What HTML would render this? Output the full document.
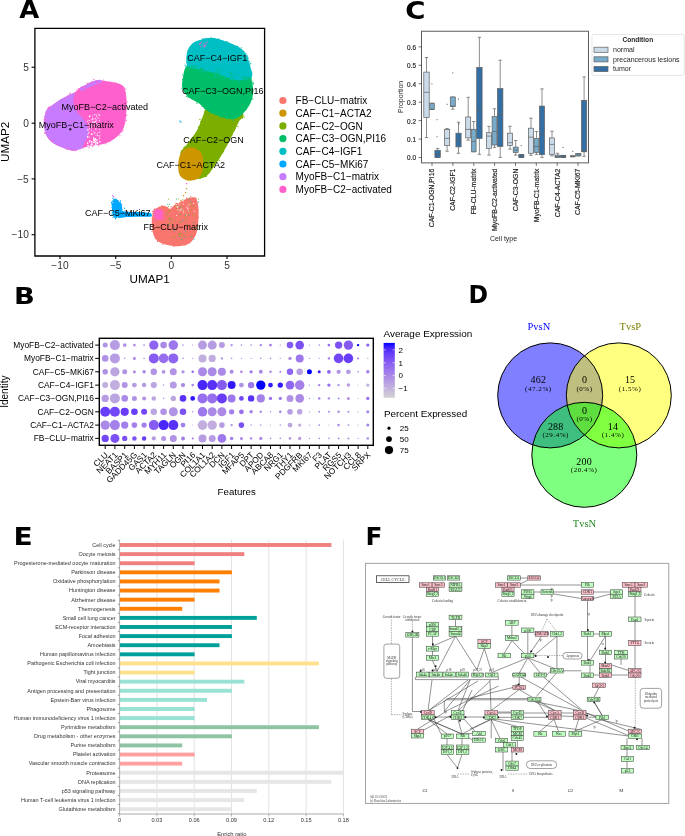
<!DOCTYPE html>
<html><head><meta charset="utf-8"><title>Figure</title>
<style>html,body{margin:0;padding:0;background:#fff;width:685px;height:836px;overflow:hidden}svg{display:block}</style>
</head><body>
<svg width="685" height="836" viewBox="0 0 685 836">
<rect width="685" height="836" fill="#fff"/>
<text x="19.0" y="18.3" font-family="DejaVu Sans, sans-serif" font-weight="bold" font-size="25.0" transform="matrix(1.0316 0 0 1.0222 -0.300 -0.600)">A</text>
<path d="M45.5 112.4 C44.8 114.7 44.2 118.7 44.2 122.2 C44.2 125.7 44.4 130.1 45.5 133.3 C46.6 136.5 48.6 139.3 51.1 141.6 C53.6 143.9 57.3 145.6 60.8 147.1 C64.3 148.6 69.4 150.1 71.9 150.6 C74.5 151.1 73.8 150.5 76.1 149.9 C78.4 149.3 83.0 147.8 85.8 147.1 C88.6 146.4 89.9 146.2 92.7 145.7 C95.5 145.2 99.2 145.2 102.4 144.3 C105.6 143.4 109.1 142.0 112.1 140.2 C115.1 138.4 118.3 135.9 120.4 133.3 C122.5 130.8 123.7 127.7 124.6 124.9 C125.5 122.1 125.7 120.3 126.0 116.6 C126.3 112.9 126.8 106.9 126.7 102.7 C126.6 98.5 125.9 94.4 125.3 91.6 C124.7 88.8 124.9 87.6 123.2 86.1 C121.5 84.6 118.8 83.5 114.9 82.6 C111.0 81.7 103.3 80.7 99.6 80.5 C95.9 80.3 95.0 80.4 92.7 81.2 C90.4 82.0 87.9 84.4 85.8 85.4 C83.7 86.5 81.8 86.5 80.2 87.5 C78.6 88.5 77.7 90.4 76.1 91.6 C74.5 92.8 72.8 93.2 70.5 94.4 C68.2 95.6 65.0 97.0 62.2 98.6 C59.4 100.2 56.2 102.5 53.9 104.1 C51.6 105.7 49.7 106.9 48.3 108.3 C46.9 109.7 46.2 110.1 45.5 112.4 Z" fill="#FF61CC" />
<path d="M74.7 93.0 C74.2 92.1 72.6 93.5 70.5 94.4 C68.4 95.3 65.0 97.0 62.2 98.6 C59.4 100.2 56.2 102.5 53.9 104.1 C51.6 105.7 49.7 106.9 48.3 108.3 C46.9 109.7 46.2 110.1 45.5 112.4 C44.8 114.7 44.2 118.7 44.2 122.2 C44.2 125.7 44.4 130.1 45.5 133.3 C46.6 136.5 48.6 139.3 51.1 141.6 C53.6 143.9 57.3 145.6 60.8 147.1 C64.3 148.6 69.4 150.1 71.9 150.6 C74.5 151.1 74.5 150.2 76.1 149.9 C77.7 149.6 80.2 149.7 81.6 148.5 C83.0 147.3 83.5 144.8 84.4 143.0 C85.3 141.2 86.5 139.5 87.2 137.4 C87.9 135.3 88.7 133.0 88.5 130.5 C88.3 128.0 87.2 124.8 85.8 122.2 C84.4 119.7 82.0 117.5 80.2 115.2 C78.4 112.9 75.9 110.8 74.7 108.3 C73.5 105.8 73.3 102.5 73.3 100.0 C73.3 97.5 75.2 93.9 74.7 93.0 Z" fill="#C77CFF" />
<path d="M80.2 87.5 C80.9 86.5 83.2 85.9 85.8 84.7 C88.3 83.5 93.0 81.3 95.5 80.5 C98.0 79.7 100.0 79.6 101.0 79.9 C102.0 80.2 102.6 81.8 101.7 82.6 C100.8 83.4 97.9 83.8 95.5 84.7 C93.1 85.6 89.5 87.2 87.2 88.2 C84.9 89.2 82.8 91.1 81.6 91.0 C80.4 90.9 79.5 88.5 80.2 87.5 Z" fill="#C77CFF" />
<rect x="43.3" y="121.6" width="1.1" height="1.1" fill="#FF61CC"/><rect x="49.0" y="106.7" width="1.1" height="1.1" fill="#FF61CC"/><rect x="92.5" y="82.4" width="1.1" height="1.1" fill="#FF61CC"/><rect x="83.8" y="87.3" width="1.1" height="1.1" fill="#FF61CC"/><rect x="122.0" y="127.4" width="1.1" height="1.1" fill="#FF61CC"/><rect x="44.3" y="132.7" width="1.1" height="1.1" fill="#FF61CC"/><rect x="125.9" y="119.8" width="1.1" height="1.1" fill="#FF61CC"/><rect x="70.8" y="149.3" width="1.1" height="1.1" fill="#FF61CC"/><rect x="65.5" y="148.4" width="1.1" height="1.1" fill="#FF61CC"/><rect x="112.8" y="82.6" width="1.1" height="1.1" fill="#FF61CC"/><rect x="66.9" y="95.6" width="1.1" height="1.1" fill="#FF61CC"/><rect x="98.1" y="81.7" width="1.1" height="1.1" fill="#FF61CC"/><rect x="75.0" y="150.1" width="1.1" height="1.1" fill="#FF61CC"/><rect x="82.2" y="87.3" width="1.1" height="1.1" fill="#FF61CC"/><rect x="119.3" y="84.3" width="1.1" height="1.1" fill="#FF61CC"/><rect x="124.8" y="92.4" width="1.1" height="1.1" fill="#FF61CC"/><rect x="103.2" y="79.6" width="1.1" height="1.1" fill="#FF61CC"/><rect x="119.4" y="135.2" width="1.1" height="1.1" fill="#FF61CC"/><rect x="91.6" y="81.2" width="1.1" height="1.1" fill="#FF61CC"/><rect x="49.4" y="106.6" width="1.1" height="1.1" fill="#FF61CC"/><rect x="81.5" y="86.9" width="1.1" height="1.1" fill="#FF61CC"/><rect x="125.1" y="88.6" width="1.1" height="1.1" fill="#FF61CC"/><rect x="48.8" y="137.7" width="1.1" height="1.1" fill="#FF61CC"/><rect x="48.0" y="107.1" width="1.1" height="1.1" fill="#FF61CC"/><rect x="85.3" y="85.5" width="1.1" height="1.1" fill="#FF61CC"/><rect x="56.7" y="144.4" width="1.1" height="1.1" fill="#FF61CC"/><rect x="48.4" y="108.4" width="1.1" height="1.1" fill="#FF61CC"/><rect x="69.9" y="92.7" width="1.1" height="1.1" fill="#FF61CC"/><rect x="88.6" y="147.1" width="1.1" height="1.1" fill="#FF61CC"/><rect x="46.2" y="111.8" width="1.1" height="1.1" fill="#FF61CC"/><rect x="68.2" y="148.4" width="1.1" height="1.1" fill="#FF61CC"/><rect x="75.8" y="92.0" width="1.1" height="1.1" fill="#FF61CC"/><rect x="84.8" y="145.8" width="1.1" height="1.1" fill="#FF61CC"/><rect x="88.6" y="82.6" width="1.1" height="1.1" fill="#FF61CC"/><rect x="124.5" y="91.7" width="1.1" height="1.1" fill="#FF61CC"/><rect x="68.8" y="93.7" width="1.1" height="1.1" fill="#FF61CC"/><rect x="87.2" y="82.7" width="1.1" height="1.1" fill="#FF61CC"/><rect x="77.9" y="88.2" width="1.1" height="1.1" fill="#FF61CC"/><rect x="47.3" y="107.5" width="1.1" height="1.1" fill="#FF61CC"/><rect x="124.2" y="121.5" width="1.1" height="1.1" fill="#FF61CC"/><rect x="114.0" y="137.6" width="1.1" height="1.1" fill="#FF61CC"/><rect x="45.5" y="119.3" width="1.1" height="1.1" fill="#FF61CC"/><rect x="91.4" y="143.8" width="1.1" height="1.1" fill="#FF61CC"/><rect x="85.3" y="86.0" width="1.1" height="1.1" fill="#FF61CC"/><rect x="44.1" y="132.5" width="1.1" height="1.1" fill="#FF61CC"/><rect x="92.1" y="146.0" width="1.1" height="1.1" fill="#FF61CC"/><rect x="86.5" y="83.4" width="1.1" height="1.1" fill="#FF61CC"/><rect x="115.3" y="82.6" width="1.1" height="1.1" fill="#FF61CC"/><rect x="72.5" y="149.1" width="1.1" height="1.1" fill="#FF61CC"/><rect x="51.5" y="139.9" width="1.1" height="1.1" fill="#FF61CC"/><rect x="44.2" y="116.3" width="1.1" height="1.1" fill="#FF61CC"/><rect x="83.7" y="86.5" width="1.1" height="1.1" fill="#FF61CC"/><rect x="82.4" y="147.3" width="1.1" height="1.1" fill="#FF61CC"/><rect x="96.2" y="81.7" width="1.1" height="1.1" fill="#FF61CC"/><rect x="96.5" y="81.0" width="1.1" height="1.1" fill="#FF61CC"/><rect x="121.4" y="131.4" width="1.1" height="1.1" fill="#FF61CC"/><rect x="122.6" y="129.9" width="1.1" height="1.1" fill="#FF61CC"/><rect x="43.5" y="119.2" width="1.1" height="1.1" fill="#FF61CC"/><rect x="84.3" y="145.4" width="1.1" height="1.1" fill="#FF61CC"/><rect x="126.5" y="101.4" width="1.1" height="1.1" fill="#FF61CC"/><rect x="93.2" y="78.9" width="1.1" height="1.1" fill="#FF61CC"/><rect x="109.6" y="140.7" width="1.1" height="1.1" fill="#FF61CC"/><rect x="76.3" y="149.7" width="1.1" height="1.1" fill="#FF61CC"/><rect x="68.3" y="148.0" width="1.1" height="1.1" fill="#FF61CC"/><rect x="52.1" y="141.2" width="1.1" height="1.1" fill="#FF61CC"/><rect x="126.0" y="114.9" width="1.1" height="1.1" fill="#FF61CC"/><rect x="76.3" y="89.5" width="1.1" height="1.1" fill="#FF61CC"/><rect x="105.2" y="143.2" width="1.1" height="1.1" fill="#FF61CC"/><rect x="98.0" y="145.2" width="1.1" height="1.1" fill="#FF61CC"/><rect x="64.7" y="98.3" width="1.1" height="1.1" fill="#FF61CC"/>
<rect x="94.8" y="138.4" width="0.9" height="0.9" fill="#fff"/>
<rect x="98.9" y="138.4" width="0.9" height="0.9" fill="#fff"/>
<rect x="87.4" y="129.3" width="0.9" height="0.9" fill="#fff"/>
<rect x="98.9" y="135.3" width="0.9" height="0.9" fill="#fff"/>
<rect x="98.4" y="117.6" width="0.9" height="0.9" fill="#fff"/>
<rect x="92.9" y="122.0" width="0.9" height="0.9" fill="#fff"/>
<rect x="93.9" y="132.9" width="0.9" height="0.9" fill="#fff"/>
<rect x="87.2" y="121.0" width="0.9" height="0.9" fill="#fff"/>
<rect x="90.5" y="144.2" width="0.9" height="0.9" fill="#fff"/>
<rect x="89.0" y="140.3" width="1.4" height="1.4" fill="#fff"/>
<rect x="89.0" y="140.3" width="0.9" height="0.9" fill="#fff"/>
<rect x="94.8" y="118.0" width="0.9" height="0.9" fill="#fff"/>
<rect x="87.0" y="142.7" width="1.4" height="1.4" fill="#fff"/>
<rect x="87.0" y="142.7" width="0.9" height="0.9" fill="#fff"/>
<rect x="89.7" y="146.4" width="0.9" height="0.9" fill="#fff"/>
<rect x="90.6" y="145.7" width="0.9" height="0.9" fill="#fff"/>
<rect x="95.5" y="120.6" width="0.9" height="0.9" fill="#fff"/>
<rect x="98.9" y="136.7" width="0.9" height="0.9" fill="#fff"/>
<rect x="98.3" y="123.7" width="0.9" height="0.9" fill="#fff"/>
<rect x="91.6" y="119.3" width="0.9" height="0.9" fill="#fff"/>
<rect x="88.8" y="116.0" width="0.9" height="0.9" fill="#fff"/>
<rect x="90.8" y="133.8" width="0.9" height="0.9" fill="#fff"/>
<rect x="87.0" y="136.3" width="1.4" height="1.4" fill="#fff"/>
<rect x="87.0" y="136.3" width="0.9" height="0.9" fill="#fff"/>
<rect x="90.9" y="141.0" width="1.4" height="1.4" fill="#fff"/>
<rect x="90.9" y="141.0" width="0.9" height="0.9" fill="#fff"/>
<rect x="91.0" y="129.8" width="0.9" height="0.9" fill="#fff"/>
<rect x="95.9" y="115.7" width="0.9" height="0.9" fill="#fff"/>
<rect x="99.3" y="114.6" width="0.9" height="0.9" fill="#fff"/>
<rect x="96.4" y="141.9" width="1.4" height="1.4" fill="#fff"/>
<rect x="96.4" y="141.9" width="0.9" height="0.9" fill="#fff"/>
<rect x="96.9" y="126.0" width="0.9" height="0.9" fill="#fff"/>
<rect x="94.3" y="114.1" width="0.9" height="0.9" fill="#fff"/>
<rect x="87.6" y="119.8" width="0.9" height="0.9" fill="#fff"/>
<rect x="99.0" y="120.3" width="0.9" height="0.9" fill="#fff"/>
<rect x="96.5" y="144.7" width="0.9" height="0.9" fill="#fff"/>
<rect x="91.3" y="125.6" width="0.9" height="0.9" fill="#fff"/>
<rect x="93.6" y="139.6" width="1.4" height="1.4" fill="#fff"/>
<rect x="93.6" y="139.6" width="0.9" height="0.9" fill="#fff"/>
<rect x="96.4" y="140.3" width="0.9" height="0.9" fill="#fff"/>
<rect x="87.5" y="145.2" width="1.4" height="1.4" fill="#fff"/>
<rect x="87.5" y="145.2" width="0.9" height="0.9" fill="#fff"/>
<rect x="91.3" y="134.1" width="0.9" height="0.9" fill="#fff"/>
<rect x="98.6" y="125.1" width="0.9" height="0.9" fill="#fff"/>
<rect x="98.6" y="131.9" width="0.9" height="0.9" fill="#fff"/>
<rect x="90.9" y="124.3" width="0.9" height="0.9" fill="#fff"/>
<rect x="89.2" y="116.4" width="0.9" height="0.9" fill="#fff"/>
<rect x="88.9" y="136.7" width="0.9" height="0.9" fill="#fff"/>
<rect x="89.0" y="115.4" width="0.9" height="0.9" fill="#fff"/>
<rect x="99.4" y="131.5" width="0.9" height="0.9" fill="#fff"/>
<rect x="92.1" y="121.7" width="0.9" height="0.9" fill="#fff"/>
<rect x="94.5" y="141.2" width="1.4" height="1.4" fill="#fff"/>
<rect x="94.5" y="141.2" width="0.9" height="0.9" fill="#fff"/>
<rect x="92.3" y="115.6" width="0.9" height="0.9" fill="#fff"/>
<rect x="98.5" y="114.9" width="0.9" height="0.9" fill="#fff"/>
<rect x="93.2" y="141.6" width="1.4" height="1.4" fill="#fff"/>
<rect x="93.2" y="141.6" width="0.9" height="0.9" fill="#fff"/>
<rect x="96.2" y="145.3" width="0.9" height="0.9" fill="#fff"/>
<rect x="96.9" y="117.3" width="0.9" height="0.9" fill="#fff"/>
<rect x="92.5" y="118.8" width="0.9" height="0.9" fill="#fff"/>
<rect x="97.6" y="123.6" width="0.9" height="0.9" fill="#fff"/>
<rect x="92.7" y="147.0" width="0.9" height="0.9" fill="#fff"/>
<rect x="99.3" y="128.9" width="0.9" height="0.9" fill="#fff"/>
<rect x="93.2" y="138.0" width="1.4" height="1.4" fill="#fff"/>
<rect x="93.2" y="138.0" width="0.9" height="0.9" fill="#fff"/>
<rect x="90.7" y="127.2" width="0.9" height="0.9" fill="#fff"/>
<rect x="88.8" y="126.3" width="0.9" height="0.9" fill="#fff"/>
<rect x="99.5" y="145.7" width="0.9" height="0.9" fill="#fff"/>
<rect x="93.3" y="125.0" width="0.9" height="0.9" fill="#fff"/>
<rect x="88.1" y="122.8" width="0.9" height="0.9" fill="#fff"/>
<rect x="96.9" y="142.6" width="1.4" height="1.4" fill="#fff"/>
<rect x="96.9" y="142.6" width="0.9" height="0.9" fill="#fff"/>
<rect x="96.9" y="139.5" width="0.9" height="0.9" fill="#fff"/>
<rect x="95.4" y="139.0" width="1.4" height="1.4" fill="#fff"/>
<rect x="95.4" y="139.0" width="0.9" height="0.9" fill="#fff"/>
<rect x="95.9" y="123.1" width="0.9" height="0.9" fill="#fff"/>
<rect x="93.1" y="139.4" width="0.9" height="0.9" fill="#fff"/>
<rect x="90.7" y="145.2" width="0.9" height="0.9" fill="#fff"/>
<rect x="94.3" y="114.2" width="0.9" height="0.9" fill="#fff"/>
<rect x="93.9" y="122.1" width="0.9" height="0.9" fill="#fff"/>
<rect x="95.5" y="129.2" width="0.9" height="0.9" fill="#fff"/>
<rect x="97.3" y="135.3" width="0.9" height="0.9" fill="#fff"/>
<rect x="97.1" y="125.3" width="0.9" height="0.9" fill="#fff"/>
<rect x="95.1" y="138.3" width="0.9" height="0.9" fill="#fff"/>
<rect x="91.4" y="141.8" width="0.9" height="0.9" fill="#fff"/>
<rect x="95.7" y="146.2" width="0.9" height="0.9" fill="#fff"/>
<rect x="93.5" y="131.4" width="0.9" height="0.9" fill="#fff"/>
<rect x="89.1" y="141.6" width="0.9" height="0.9" fill="#fff"/>
<rect x="93.0" y="136.8" width="0.9" height="0.9" fill="#fff"/>
<rect x="96.2" y="119.5" width="0.9" height="0.9" fill="#fff"/>
<rect x="96.8" y="133.1" width="0.9" height="0.9" fill="#fff"/>
<rect x="95.4" y="127.8" width="0.9" height="0.9" fill="#fff"/>
<rect x="94.9" y="139.5" width="0.9" height="0.9" fill="#fff"/>
<rect x="96.1" y="114.7" width="0.9" height="0.9" fill="#fff"/>
<rect x="89.0" y="128.4" width="0.9" height="0.9" fill="#fff"/>
<rect x="95.2" y="121.1" width="0.9" height="0.9" fill="#fff"/>
<rect x="95.6" y="134.7" width="0.9" height="0.9" fill="#fff"/>
<rect x="87.5" y="129.5" width="0.9" height="0.9" fill="#fff"/>
<rect x="89.9" y="115.6" width="0.9" height="0.9" fill="#fff"/>
<rect x="88.7" y="124.3" width="0.9" height="0.9" fill="#fff"/>
<rect x="89.3" y="120.2" width="0.9" height="0.9" fill="#fff"/>
<rect x="87.4" y="129.2" width="0.9" height="0.9" fill="#fff"/>
<rect x="91.8" y="134.1" width="0.9" height="0.9" fill="#fff"/>
<rect x="94.4" y="121.7" width="0.9" height="0.9" fill="#fff"/>
<rect x="98.4" y="113.8" width="0.9" height="0.9" fill="#fff"/>
<rect x="92.1" y="123.0" width="0.9" height="0.9" fill="#fff"/>
<rect x="92.2" y="117.6" width="0.9" height="0.9" fill="#fff"/>
<rect x="97.5" y="126.2" width="0.9" height="0.9" fill="#fff"/>
<rect x="87.5" y="134.2" width="0.9" height="0.9" fill="#fff"/>
<rect x="88.2" y="131.9" width="0.9" height="0.9" fill="#fff"/>
<rect x="91.3" y="133.1" width="0.9" height="0.9" fill="#fff"/>
<rect x="99.1" y="141.0" width="1.4" height="1.4" fill="#fff"/>
<rect x="99.1" y="141.0" width="0.9" height="0.9" fill="#fff"/>
<rect x="97.2" y="135.1" width="0.9" height="0.9" fill="#fff"/>
<rect x="91.7" y="118.5" width="0.9" height="0.9" fill="#fff"/>
<rect x="94.5" y="132.5" width="0.9" height="0.9" fill="#fff"/>
<rect x="99.1" y="145.9" width="0.9" height="0.9" fill="#fff"/>
<rect x="91.4" y="143.5" width="1.4" height="1.4" fill="#fff"/>
<rect x="91.4" y="143.5" width="0.9" height="0.9" fill="#fff"/>
<rect x="88.4" y="132.6" width="0.9" height="0.9" fill="#fff"/>
<rect x="94.8" y="118.5" width="0.9" height="0.9" fill="#fff"/>
<rect x="94.9" y="143.4" width="1.4" height="1.4" fill="#fff"/>
<rect x="94.9" y="143.4" width="0.9" height="0.9" fill="#fff"/>
<rect x="92.4" y="121.3" width="0.9" height="0.9" fill="#fff"/>
<rect x="90.7" y="146.1" width="1.4" height="1.4" fill="#fff"/>
<rect x="90.7" y="146.1" width="0.9" height="0.9" fill="#fff"/>
<rect x="83.6" y="141.1" width="0.8" height="0.8" fill="#FF61CC"/>
<rect x="70.9" y="111.7" width="0.8" height="0.8" fill="#FF61CC"/>
<rect x="84.3" y="122.3" width="0.8" height="0.8" fill="#FF61CC"/>
<rect x="64.5" y="114.4" width="0.8" height="0.8" fill="#FF61CC"/>
<rect x="84.4" y="122.1" width="0.8" height="0.8" fill="#FF61CC"/>
<rect x="60.0" y="121.5" width="0.8" height="0.8" fill="#FF61CC"/>
<rect x="54.3" y="128.0" width="0.8" height="0.8" fill="#FF61CC"/>
<rect x="65.5" y="113.2" width="0.8" height="0.8" fill="#FF61CC"/>
<rect x="77.4" y="137.2" width="0.8" height="0.8" fill="#FF61CC"/>
<rect x="50.5" y="124.0" width="0.8" height="0.8" fill="#FF61CC"/>
<rect x="59.6" y="142.1" width="0.8" height="0.8" fill="#FF61CC"/>
<rect x="77.4" y="111.1" width="0.8" height="0.8" fill="#FF61CC"/>
<rect x="59.4" y="107.0" width="0.8" height="0.8" fill="#FF61CC"/>
<rect x="84.6" y="113.2" width="0.8" height="0.8" fill="#FF61CC"/>
<rect x="71.3" y="121.4" width="0.8" height="0.8" fill="#FF61CC"/>
<rect x="72.6" y="127.2" width="0.8" height="0.8" fill="#FF61CC"/>
<rect x="76.0" y="105.3" width="0.8" height="0.8" fill="#FF61CC"/>
<rect x="76.6" y="113.5" width="0.8" height="0.8" fill="#FF61CC"/>
<rect x="68.7" y="115.1" width="0.8" height="0.8" fill="#FF61CC"/>
<rect x="60.4" y="123.8" width="0.8" height="0.8" fill="#FF61CC"/>
<rect x="66.3" y="116.2" width="0.8" height="0.8" fill="#FF61CC"/>
<rect x="76.1" y="126.6" width="0.8" height="0.8" fill="#FF61CC"/>
<rect x="51.3" y="111.4" width="0.8" height="0.8" fill="#FF61CC"/>
<rect x="65.9" y="141.2" width="0.8" height="0.8" fill="#FF61CC"/>
<rect x="81.1" y="124.6" width="0.8" height="0.8" fill="#FF61CC"/>
<path d="M209.0 108.0 C215.2 107.3 234.3 110.3 240.0 112.0 C245.7 113.7 243.0 116.7 243.0 118.0 C243.0 119.3 241.3 117.9 239.9 120.0 C238.5 122.1 236.7 126.4 234.6 130.5 C232.5 134.6 229.9 140.1 227.6 144.5 C225.3 148.9 222.9 153.0 220.6 156.8 C218.3 160.6 215.6 164.4 213.6 167.3 C211.6 170.2 210.1 172.6 208.3 174.3 C206.6 176.1 205.3 177.2 203.1 177.8 C200.9 178.4 198.0 180.1 195.0 178.0 C192.0 175.9 187.4 169.1 185.0 165.0 C182.6 160.9 180.2 156.4 180.3 153.3 C180.4 150.2 183.8 148.6 185.5 146.3 C187.2 144.0 188.8 142.2 190.8 139.3 C192.9 136.4 195.8 132.7 197.8 128.8 C199.8 124.9 201.1 119.5 203.0 116.0 C204.9 112.5 202.8 108.7 209.0 108.0 Z" fill="#7CAE00" />
<rect x="208.9" y="172.1" width="1.1" height="1.1" fill="#7CAE00"/><rect x="199.3" y="118.9" width="1.1" height="1.1" fill="#7CAE00"/><rect x="197.9" y="126.3" width="1.1" height="1.1" fill="#7CAE00"/><rect x="200.2" y="121.0" width="1.1" height="1.1" fill="#7CAE00"/><rect x="231.5" y="134.4" width="1.1" height="1.1" fill="#7CAE00"/><rect x="184.1" y="146.3" width="1.1" height="1.1" fill="#7CAE00"/><rect x="239.0" y="114.3" width="1.1" height="1.1" fill="#7CAE00"/><rect x="201.5" y="120.3" width="1.1" height="1.1" fill="#7CAE00"/><rect x="187.9" y="142.8" width="1.1" height="1.1" fill="#7CAE00"/><rect x="226.8" y="141.2" width="1.1" height="1.1" fill="#7CAE00"/><rect x="218.7" y="159.7" width="1.1" height="1.1" fill="#7CAE00"/><rect x="200.1" y="177.5" width="1.1" height="1.1" fill="#7CAE00"/><rect x="189.2" y="142.2" width="1.1" height="1.1" fill="#7CAE00"/><rect x="236.4" y="111.4" width="1.1" height="1.1" fill="#7CAE00"/><rect x="221.7" y="152.7" width="1.1" height="1.1" fill="#7CAE00"/><rect x="234.8" y="127.9" width="1.1" height="1.1" fill="#7CAE00"/><rect x="205.0" y="175.7" width="1.1" height="1.1" fill="#7CAE00"/><rect x="198.6" y="126.9" width="1.1" height="1.1" fill="#7CAE00"/><rect x="233.7" y="130.0" width="1.1" height="1.1" fill="#7CAE00"/><rect x="239.4" y="118.6" width="1.1" height="1.1" fill="#7CAE00"/><rect x="190.1" y="169.7" width="1.1" height="1.1" fill="#7CAE00"/><rect x="207.2" y="172.6" width="1.1" height="1.1" fill="#7CAE00"/><rect x="243.6" y="116.6" width="1.1" height="1.1" fill="#7CAE00"/><rect x="205.7" y="175.3" width="1.1" height="1.1" fill="#7CAE00"/><rect x="189.8" y="173.8" width="1.1" height="1.1" fill="#7CAE00"/><rect x="182.2" y="149.9" width="1.1" height="1.1" fill="#7CAE00"/><rect x="237.3" y="126.0" width="1.1" height="1.1" fill="#7CAE00"/><rect x="188.9" y="142.5" width="1.1" height="1.1" fill="#7CAE00"/><rect x="190.2" y="139.0" width="1.1" height="1.1" fill="#7CAE00"/><rect x="234.3" y="110.1" width="1.1" height="1.1" fill="#7CAE00"/><rect x="183.3" y="147.2" width="1.1" height="1.1" fill="#7CAE00"/><rect x="190.3" y="171.0" width="1.1" height="1.1" fill="#7CAE00"/><rect x="202.6" y="175.1" width="1.1" height="1.1" fill="#7CAE00"/><rect x="237.6" y="111.2" width="1.1" height="1.1" fill="#7CAE00"/><rect x="191.8" y="175.9" width="1.1" height="1.1" fill="#7CAE00"/><rect x="205.8" y="175.6" width="1.1" height="1.1" fill="#7CAE00"/><rect x="239.1" y="110.3" width="1.1" height="1.1" fill="#7CAE00"/><rect x="204.6" y="112.9" width="1.1" height="1.1" fill="#7CAE00"/><rect x="222.7" y="151.2" width="1.1" height="1.1" fill="#7CAE00"/><rect x="185.4" y="164.3" width="1.1" height="1.1" fill="#7CAE00"/>
<path d="M187.3 65.9 C183.6 68.5 183.8 73.6 183.0 77.4 C182.2 81.2 181.5 85.5 182.5 88.8 C183.5 92.1 186.1 95.1 188.8 97.5 C191.5 99.9 195.5 100.8 198.8 103.2 C202.1 105.6 204.7 109.4 208.8 111.8 C212.9 114.2 218.9 116.3 223.2 117.5 C227.5 118.7 231.3 119.7 234.7 119.0 C238.0 118.3 240.7 115.8 243.3 113.2 C245.9 110.6 248.7 106.8 250.4 103.2 C252.1 99.6 253.1 95.3 253.3 91.7 C253.6 88.1 252.6 85.1 251.9 81.7 C251.2 78.3 252.7 74.2 249.0 71.6 C245.3 69.0 237.3 67.6 230.0 66.0 C222.7 64.4 212.1 62.0 205.0 62.0 C197.9 62.0 191.0 63.3 187.3 65.9 Z" fill="#00BE67" />
<rect x="191.9" y="98.6" width="1.1" height="1.1" fill="#00BE67"/><rect x="182.1" y="78.8" width="1.1" height="1.1" fill="#00BE67"/><rect x="228.4" y="65.6" width="1.1" height="1.1" fill="#00BE67"/><rect x="211.3" y="111.7" width="1.1" height="1.1" fill="#00BE67"/><rect x="196.4" y="102.7" width="1.1" height="1.1" fill="#00BE67"/><rect x="205.4" y="109.0" width="1.1" height="1.1" fill="#00BE67"/><rect x="252.8" y="83.5" width="1.1" height="1.1" fill="#00BE67"/><rect x="209.8" y="112.2" width="1.1" height="1.1" fill="#00BE67"/><rect x="243.8" y="109.5" width="1.1" height="1.1" fill="#00BE67"/><rect x="191.2" y="65.6" width="1.1" height="1.1" fill="#00BE67"/><rect x="183.0" y="76.9" width="1.1" height="1.1" fill="#00BE67"/><rect x="209.5" y="62.2" width="1.1" height="1.1" fill="#00BE67"/><rect x="201.6" y="105.8" width="1.1" height="1.1" fill="#00BE67"/><rect x="208.3" y="62.2" width="1.1" height="1.1" fill="#00BE67"/><rect x="203.9" y="107.7" width="1.1" height="1.1" fill="#00BE67"/><rect x="187.4" y="96.7" width="1.1" height="1.1" fill="#00BE67"/><rect x="194.4" y="99.7" width="1.1" height="1.1" fill="#00BE67"/><rect x="230.7" y="118.2" width="1.1" height="1.1" fill="#00BE67"/><rect x="199.7" y="63.3" width="1.1" height="1.1" fill="#00BE67"/><rect x="206.2" y="108.5" width="1.1" height="1.1" fill="#00BE67"/><rect x="221.1" y="115.2" width="1.1" height="1.1" fill="#00BE67"/><rect x="219.4" y="116.5" width="1.1" height="1.1" fill="#00BE67"/><rect x="248.9" y="73.8" width="1.1" height="1.1" fill="#00BE67"/><rect x="222.9" y="116.5" width="1.1" height="1.1" fill="#00BE67"/><rect x="214.8" y="62.4" width="1.1" height="1.1" fill="#00BE67"/><rect x="196.6" y="101.3" width="1.1" height="1.1" fill="#00BE67"/><rect x="252.2" y="90.2" width="1.1" height="1.1" fill="#00BE67"/><rect x="184.4" y="71.4" width="1.1" height="1.1" fill="#00BE67"/><rect x="203.8" y="106.7" width="1.1" height="1.1" fill="#00BE67"/><rect x="199.5" y="61.0" width="1.1" height="1.1" fill="#00BE67"/><rect x="187.0" y="93.7" width="1.1" height="1.1" fill="#00BE67"/><rect x="245.5" y="109.1" width="1.1" height="1.1" fill="#00BE67"/><rect x="181.5" y="87.8" width="1.1" height="1.1" fill="#00BE67"/><rect x="251.3" y="80.6" width="1.1" height="1.1" fill="#00BE67"/><rect x="227.5" y="117.5" width="1.1" height="1.1" fill="#00BE67"/><rect x="252.4" y="82.3" width="1.1" height="1.1" fill="#00BE67"/><rect x="185.9" y="65.8" width="1.1" height="1.1" fill="#00BE67"/><rect x="245.1" y="68.8" width="1.1" height="1.1" fill="#00BE67"/><rect x="182.4" y="74.5" width="1.1" height="1.1" fill="#00BE67"/><rect x="252.1" y="98.4" width="1.1" height="1.1" fill="#00BE67"/><rect x="233.5" y="66.7" width="1.1" height="1.1" fill="#00BE67"/><rect x="226.1" y="118.4" width="1.1" height="1.1" fill="#00BE67"/><rect x="201.0" y="62.0" width="1.1" height="1.1" fill="#00BE67"/><rect x="194.0" y="64.0" width="1.1" height="1.1" fill="#00BE67"/><rect x="252.5" y="82.7" width="1.1" height="1.1" fill="#00BE67"/><rect x="232.5" y="119.7" width="1.1" height="1.1" fill="#00BE67"/><rect x="250.5" y="85.6" width="1.1" height="1.1" fill="#00BE67"/><rect x="186.1" y="95.9" width="1.1" height="1.1" fill="#00BE67"/><rect x="225.6" y="65.0" width="1.1" height="1.1" fill="#00BE67"/><rect x="249.9" y="77.9" width="1.1" height="1.1" fill="#00BE67"/>
<path d="M187.3 51.6 C188.3 47.8 190.7 45.0 193.1 43.0 C195.5 41.0 198.6 40.4 201.7 39.5 C204.8 38.6 207.6 37.5 211.7 37.8 C215.8 38.1 221.5 39.9 226.1 41.5 C230.7 43.1 235.7 45.1 239.0 47.3 C242.3 49.4 244.2 51.1 246.1 54.4 C248.0 57.6 249.5 63.0 250.4 66.8 C251.3 70.6 253.7 74.8 251.5 77.0 C249.3 79.2 242.2 80.4 237.5 80.2 C232.8 80.0 228.0 77.3 223.2 75.9 C218.4 74.5 213.1 72.8 208.8 71.6 C204.5 70.4 201.0 69.8 197.4 68.8 C193.8 67.8 189.0 68.8 187.3 65.9 C185.6 63.0 186.3 55.4 187.3 51.6 Z" fill="#00BFC4" />
<rect x="188.4" y="64.7" width="1.2" height="1.2" fill="#00BFC4"/><rect x="249.3" y="79.1" width="1.2" height="1.2" fill="#00BFC4"/><rect x="212.0" y="68.4" width="1.2" height="1.2" fill="#00BFC4"/><rect x="226.1" y="76.6" width="1.2" height="1.2" fill="#00BFC4"/><rect x="193.1" y="67.3" width="1.2" height="1.2" fill="#00BFC4"/><rect x="205.2" y="69.1" width="1.2" height="1.2" fill="#00BFC4"/><rect x="202.4" y="71.5" width="1.2" height="1.2" fill="#00BFC4"/><rect x="214.2" y="71.9" width="1.2" height="1.2" fill="#00BFC4"/><rect x="235.9" y="72.0" width="1.2" height="1.2" fill="#00BFC4"/><rect x="227.0" y="76.0" width="1.2" height="1.2" fill="#00BFC4"/><rect x="230.2" y="78.3" width="1.2" height="1.2" fill="#00BFC4"/><rect x="184.7" y="64.7" width="1.2" height="1.2" fill="#00BFC4"/><rect x="191.8" y="65.1" width="1.2" height="1.2" fill="#00BFC4"/><rect x="188.0" y="63.8" width="1.2" height="1.2" fill="#00BFC4"/><rect x="204.9" y="67.7" width="1.2" height="1.2" fill="#00BFC4"/><rect x="233.5" y="80.8" width="1.2" height="1.2" fill="#00BFC4"/><rect x="218.7" y="69.5" width="1.2" height="1.2" fill="#00BFC4"/><rect x="210.0" y="69.6" width="1.2" height="1.2" fill="#00BFC4"/><rect x="217.3" y="72.7" width="1.2" height="1.2" fill="#00BFC4"/><rect x="248.8" y="76.0" width="1.2" height="1.2" fill="#00BFC4"/><rect x="248.9" y="76.1" width="1.2" height="1.2" fill="#00BFC4"/><rect x="239.2" y="81.1" width="1.2" height="1.2" fill="#00BFC4"/><rect x="198.7" y="66.8" width="1.2" height="1.2" fill="#00BFC4"/><rect x="203.8" y="69.2" width="1.2" height="1.2" fill="#00BFC4"/><rect x="249.1" y="76.8" width="1.2" height="1.2" fill="#00BFC4"/><rect x="235.5" y="71.7" width="1.2" height="1.2" fill="#00BFC4"/><rect x="248.8" y="75.7" width="1.2" height="1.2" fill="#00BFC4"/><rect x="194.3" y="65.7" width="1.2" height="1.2" fill="#00BFC4"/><rect x="197.3" y="68.3" width="1.2" height="1.2" fill="#00BFC4"/><rect x="191.9" y="65.1" width="1.2" height="1.2" fill="#00BFC4"/><rect x="203.2" y="69.5" width="1.2" height="1.2" fill="#00BFC4"/><rect x="215.4" y="74.5" width="1.2" height="1.2" fill="#00BFC4"/><rect x="199.2" y="69.8" width="1.2" height="1.2" fill="#00BFC4"/><rect x="198.2" y="70.5" width="1.2" height="1.2" fill="#00BFC4"/><rect x="196.5" y="66.1" width="1.2" height="1.2" fill="#00BFC4"/><rect x="242.7" y="79.2" width="1.2" height="1.2" fill="#00BFC4"/><rect x="219.5" y="75.4" width="1.2" height="1.2" fill="#00BFC4"/><rect x="236.4" y="78.2" width="1.2" height="1.2" fill="#00BFC4"/><rect x="246.3" y="79.3" width="1.2" height="1.2" fill="#00BFC4"/><rect x="206.0" y="70.2" width="1.2" height="1.2" fill="#00BFC4"/><rect x="225.9" y="75.8" width="1.2" height="1.2" fill="#00BFC4"/><rect x="240.2" y="76.5" width="1.2" height="1.2" fill="#00BFC4"/><rect x="218.5" y="68.5" width="1.2" height="1.2" fill="#00BFC4"/><rect x="239.3" y="80.2" width="1.2" height="1.2" fill="#00BFC4"/><rect x="249.3" y="75.8" width="1.2" height="1.2" fill="#00BFC4"/><rect x="216.6" y="71.7" width="1.2" height="1.2" fill="#00BFC4"/><rect x="223.7" y="78.2" width="1.2" height="1.2" fill="#00BFC4"/><rect x="199.1" y="67.7" width="1.2" height="1.2" fill="#00BFC4"/><rect x="225.5" y="70.7" width="1.2" height="1.2" fill="#00BFC4"/><rect x="220.6" y="72.1" width="1.2" height="1.2" fill="#00BFC4"/><rect x="220.8" y="73.8" width="1.2" height="1.2" fill="#00BFC4"/><rect x="220.2" y="76.7" width="1.2" height="1.2" fill="#00BFC4"/><rect x="203.2" y="69.1" width="1.2" height="1.2" fill="#00BFC4"/><rect x="215.1" y="76.1" width="1.2" height="1.2" fill="#00BFC4"/><rect x="226.1" y="74.6" width="1.2" height="1.2" fill="#00BFC4"/><rect x="229.6" y="71.1" width="1.2" height="1.2" fill="#00BFC4"/><rect x="216.4" y="68.7" width="1.2" height="1.2" fill="#00BFC4"/><rect x="185.4" y="66.4" width="1.2" height="1.2" fill="#00BFC4"/><rect x="231.2" y="78.7" width="1.2" height="1.2" fill="#00BFC4"/><rect x="201.3" y="69.7" width="1.2" height="1.2" fill="#00BFC4"/>
<rect x="215.1" y="72.3" width="1.2" height="1.2" fill="#00BE67"/><rect x="245.7" y="76.8" width="1.2" height="1.2" fill="#00BE67"/><rect x="200.2" y="68.9" width="1.2" height="1.2" fill="#00BE67"/><rect x="196.7" y="66.2" width="1.2" height="1.2" fill="#00BE67"/><rect x="222.3" y="76.9" width="1.2" height="1.2" fill="#00BE67"/><rect x="188.4" y="66.1" width="1.2" height="1.2" fill="#00BE67"/><rect x="233.6" y="74.1" width="1.2" height="1.2" fill="#00BE67"/><rect x="219.9" y="73.6" width="1.2" height="1.2" fill="#00BE67"/><rect x="201.1" y="69.8" width="1.2" height="1.2" fill="#00BE67"/><rect x="198.1" y="69.3" width="1.2" height="1.2" fill="#00BE67"/><rect x="242.6" y="76.8" width="1.2" height="1.2" fill="#00BE67"/><rect x="217.9" y="72.7" width="1.2" height="1.2" fill="#00BE67"/><rect x="198.1" y="70.2" width="1.2" height="1.2" fill="#00BE67"/><rect x="209.3" y="71.7" width="1.2" height="1.2" fill="#00BE67"/><rect x="244.9" y="77.9" width="1.2" height="1.2" fill="#00BE67"/><rect x="238.1" y="81.0" width="1.2" height="1.2" fill="#00BE67"/><rect x="220.5" y="75.7" width="1.2" height="1.2" fill="#00BE67"/><rect x="193.6" y="68.9" width="1.2" height="1.2" fill="#00BE67"/><rect x="229.9" y="71.6" width="1.2" height="1.2" fill="#00BE67"/><rect x="241.1" y="77.7" width="1.2" height="1.2" fill="#00BE67"/><rect x="202.6" y="67.9" width="1.2" height="1.2" fill="#00BE67"/><rect x="191.0" y="65.4" width="1.2" height="1.2" fill="#00BE67"/><rect x="230.3" y="73.3" width="1.2" height="1.2" fill="#00BE67"/><rect x="230.9" y="75.9" width="1.2" height="1.2" fill="#00BE67"/><rect x="232.7" y="78.1" width="1.2" height="1.2" fill="#00BE67"/><rect x="215.8" y="68.9" width="1.2" height="1.2" fill="#00BE67"/><rect x="200.0" y="69.0" width="1.2" height="1.2" fill="#00BE67"/><rect x="194.0" y="65.7" width="1.2" height="1.2" fill="#00BE67"/><rect x="192.3" y="66.3" width="1.2" height="1.2" fill="#00BE67"/><rect x="206.9" y="71.7" width="1.2" height="1.2" fill="#00BE67"/><rect x="202.1" y="69.1" width="1.2" height="1.2" fill="#00BE67"/><rect x="200.1" y="67.6" width="1.2" height="1.2" fill="#00BE67"/><rect x="198.5" y="68.9" width="1.2" height="1.2" fill="#00BE67"/><rect x="239.9" y="80.1" width="1.2" height="1.2" fill="#00BE67"/><rect x="218.9" y="70.7" width="1.2" height="1.2" fill="#00BE67"/><rect x="191.0" y="67.1" width="1.2" height="1.2" fill="#00BE67"/><rect x="248.9" y="76.9" width="1.2" height="1.2" fill="#00BE67"/><rect x="245.5" y="78.7" width="1.2" height="1.2" fill="#00BE67"/><rect x="243.8" y="76.6" width="1.2" height="1.2" fill="#00BE67"/><rect x="216.4" y="72.6" width="1.2" height="1.2" fill="#00BE67"/>
<rect x="250.1" y="63.3" width="1.1" height="1.1" fill="#00BFC4"/><rect x="225.8" y="41.3" width="1.1" height="1.1" fill="#00BFC4"/><rect x="246.6" y="56.5" width="1.1" height="1.1" fill="#00BFC4"/><rect x="246.3" y="54.7" width="1.1" height="1.1" fill="#00BFC4"/><rect x="213.8" y="37.9" width="1.1" height="1.1" fill="#00BFC4"/><rect x="215.0" y="39.0" width="1.1" height="1.1" fill="#00BFC4"/><rect x="194.2" y="42.4" width="1.1" height="1.1" fill="#00BFC4"/><rect x="209.7" y="57.0" width="1.1" height="1.1" fill="#00BFC4"/><rect x="250.1" y="62.8" width="1.1" height="1.1" fill="#00BFC4"/><rect x="243.5" y="51.4" width="1.1" height="1.1" fill="#00BFC4"/><rect x="192.0" y="43.5" width="1.1" height="1.1" fill="#00BFC4"/><rect x="246.7" y="57.9" width="1.1" height="1.1" fill="#00BFC4"/><rect x="237.8" y="46.6" width="1.1" height="1.1" fill="#00BFC4"/><rect x="203.2" y="38.2" width="1.1" height="1.1" fill="#00BFC4"/><rect x="205.5" y="38.6" width="1.1" height="1.1" fill="#00BFC4"/><rect x="228.8" y="44.1" width="1.1" height="1.1" fill="#00BFC4"/><rect x="188.9" y="47.4" width="1.1" height="1.1" fill="#00BFC4"/><rect x="214.6" y="39.6" width="1.1" height="1.1" fill="#00BFC4"/><rect x="248.7" y="66.4" width="1.1" height="1.1" fill="#00BFC4"/><rect x="248.7" y="61.0" width="1.1" height="1.1" fill="#00BFC4"/><rect x="247.5" y="57.2" width="1.1" height="1.1" fill="#00BFC4"/><rect x="199.3" y="40.4" width="1.1" height="1.1" fill="#00BFC4"/><rect x="236.9" y="46.4" width="1.1" height="1.1" fill="#00BFC4"/><rect x="187.5" y="50.1" width="1.1" height="1.1" fill="#00BFC4"/><rect x="236.8" y="45.6" width="1.1" height="1.1" fill="#00BFC4"/><rect x="197.3" y="41.7" width="1.1" height="1.1" fill="#00BFC4"/><rect x="218.3" y="38.4" width="1.1" height="1.1" fill="#00BFC4"/><rect x="227.1" y="41.4" width="1.1" height="1.1" fill="#00BFC4"/><rect x="235.6" y="63.2" width="1.1" height="1.1" fill="#00BFC4"/><rect x="201.5" y="38.4" width="1.1" height="1.1" fill="#00BFC4"/><rect x="245.4" y="52.8" width="1.1" height="1.1" fill="#00BFC4"/><rect x="246.6" y="55.6" width="1.1" height="1.1" fill="#00BFC4"/><rect x="210.6" y="37.6" width="1.1" height="1.1" fill="#00BFC4"/><rect x="240.8" y="47.3" width="1.1" height="1.1" fill="#00BFC4"/><rect x="247.3" y="58.3" width="1.1" height="1.1" fill="#00BFC4"/><rect x="188.0" y="49.9" width="1.1" height="1.1" fill="#00BFC4"/><rect x="205.5" y="38.2" width="1.1" height="1.1" fill="#00BFC4"/><rect x="220.8" y="58.6" width="1.1" height="1.1" fill="#00BFC4"/><rect x="191.5" y="44.5" width="1.1" height="1.1" fill="#00BFC4"/><rect x="210.9" y="37.8" width="1.1" height="1.1" fill="#00BFC4"/>
<rect x="203.2" y="43.2" width="1" height="1" fill="#FF61CC"/>
<rect x="200.2" y="46.2" width="1" height="1" fill="#FF61CC"/>
<rect x="199.1" y="44.0" width="1" height="1" fill="#FF61CC"/>
<rect x="207.1" y="41.5" width="1" height="1" fill="#FF61CC"/>
<rect x="204.0" y="44.7" width="1" height="1" fill="#FF61CC"/>
<rect x="199.4" y="43.3" width="1" height="1" fill="#FF61CC"/>
<rect x="205.3" y="43.7" width="1" height="1" fill="#FF61CC"/>
<rect x="205.5" y="41.9" width="1" height="1" fill="#FF61CC"/>
<rect x="201.1" y="41.7" width="1" height="1" fill="#FF61CC"/>
<rect x="203.6" y="46.5" width="1" height="1" fill="#FF61CC"/>
<rect x="204.3" y="45.6" width="1" height="1" fill="#FF61CC"/>
<rect x="202.5" y="45.5" width="1" height="1" fill="#FF61CC"/>
<rect x="199.9" y="42.7" width="1" height="1" fill="#FF61CC"/>
<rect x="205.1" y="45.4" width="1" height="1" fill="#FF61CC"/>
<path d="M190.8 147.2 C193.1 147.2 195.9 148.5 197.8 149.8 C199.7 151.1 201.3 152.4 202.2 155.0 C203.1 157.6 203.2 162.3 203.1 165.5 C202.9 168.7 202.5 172.0 201.3 174.3 C200.1 176.7 198.4 178.6 196.1 179.6 C193.8 180.6 189.9 181.0 187.3 180.4 C184.7 179.8 181.8 178.3 180.3 176.1 C178.8 173.9 178.3 170.5 178.2 167.3 C178.0 164.1 178.5 159.7 179.4 156.8 C180.3 153.9 181.9 151.4 183.8 149.8 C185.7 148.2 188.5 147.2 190.8 147.2 Z" fill="#CD9600" />
<path d="M153.2 211.9 C153.8 209.7 153.9 210.0 155.4 209.0 C156.9 208.0 160.1 206.5 161.9 206.1 C163.7 205.7 164.8 206.3 166.3 206.8 C167.8 207.3 169.2 209.4 170.7 209.0 C172.2 208.6 173.4 205.8 175.1 204.6 C176.8 203.4 178.9 202.7 180.9 201.7 C182.9 200.7 184.9 199.5 186.8 198.8 C188.8 198.1 191.0 197.3 192.6 197.3 C194.2 197.3 195.2 197.1 196.2 198.8 C197.2 200.5 198.0 204.1 198.4 207.5 C198.8 210.9 198.6 215.3 198.4 219.2 C198.2 223.1 197.7 227.7 197.0 230.9 C196.3 234.1 195.5 236.0 194.0 238.2 C192.5 240.4 190.9 242.7 188.2 244.0 C185.5 245.3 181.7 246.1 178.0 246.2 C174.3 246.3 169.7 245.5 166.3 244.7 C162.9 243.8 159.8 242.9 157.6 241.1 C155.4 239.3 154.2 237.0 153.2 233.8 C152.2 230.6 151.7 225.8 151.7 222.1 C151.7 218.4 152.6 214.1 153.2 211.9 Z" fill="#F8766D" />
<rect x="197.6" y="216.9" width="1.1" height="1.1" fill="#F8766D"/><rect x="156.9" y="240.9" width="1.1" height="1.1" fill="#F8766D"/><rect x="180.4" y="199.9" width="1.1" height="1.1" fill="#F8766D"/><rect x="162.6" y="206.1" width="1.1" height="1.1" fill="#F8766D"/><rect x="190.1" y="196.2" width="1.1" height="1.1" fill="#F8766D"/><rect x="153.3" y="227.4" width="1.1" height="1.1" fill="#F8766D"/><rect x="170.5" y="206.2" width="1.1" height="1.1" fill="#F8766D"/><rect x="197.4" y="202.1" width="1.1" height="1.1" fill="#F8766D"/><rect x="151.4" y="225.9" width="1.1" height="1.1" fill="#F8766D"/><rect x="164.1" y="205.9" width="1.1" height="1.1" fill="#F8766D"/><rect x="154.7" y="237.7" width="1.1" height="1.1" fill="#F8766D"/><rect x="183.3" y="243.4" width="1.1" height="1.1" fill="#F8766D"/><rect x="186.2" y="198.1" width="1.1" height="1.1" fill="#F8766D"/><rect x="197.3" y="216.7" width="1.1" height="1.1" fill="#F8766D"/><rect x="167.1" y="207.0" width="1.1" height="1.1" fill="#F8766D"/><rect x="173.7" y="243.9" width="1.1" height="1.1" fill="#F8766D"/><rect x="155.5" y="235.9" width="1.1" height="1.1" fill="#F8766D"/><rect x="197.2" y="225.5" width="1.1" height="1.1" fill="#F8766D"/><rect x="165.4" y="206.6" width="1.1" height="1.1" fill="#F8766D"/><rect x="159.1" y="206.5" width="1.1" height="1.1" fill="#F8766D"/><rect x="184.5" y="244.5" width="1.1" height="1.1" fill="#F8766D"/><rect x="154.3" y="208.9" width="1.1" height="1.1" fill="#F8766D"/><rect x="177.5" y="244.6" width="1.1" height="1.1" fill="#F8766D"/><rect x="189.6" y="197.6" width="1.1" height="1.1" fill="#F8766D"/><rect x="177.3" y="203.7" width="1.1" height="1.1" fill="#F8766D"/><rect x="187.9" y="242.4" width="1.1" height="1.1" fill="#F8766D"/><rect x="196.6" y="225.9" width="1.1" height="1.1" fill="#F8766D"/><rect x="161.4" y="205.0" width="1.1" height="1.1" fill="#F8766D"/><rect x="166.9" y="243.8" width="1.1" height="1.1" fill="#F8766D"/><rect x="171.7" y="206.8" width="1.1" height="1.1" fill="#F8766D"/><rect x="173.2" y="205.7" width="1.1" height="1.1" fill="#F8766D"/><rect x="158.8" y="208.3" width="1.1" height="1.1" fill="#F8766D"/><rect x="155.1" y="236.7" width="1.1" height="1.1" fill="#F8766D"/><rect x="195.1" y="230.0" width="1.1" height="1.1" fill="#F8766D"/><rect x="175.4" y="202.7" width="1.1" height="1.1" fill="#F8766D"/><rect x="151.4" y="231.1" width="1.1" height="1.1" fill="#F8766D"/><rect x="152.0" y="210.8" width="1.1" height="1.1" fill="#F8766D"/><rect x="195.8" y="198.1" width="1.1" height="1.1" fill="#F8766D"/><rect x="170.8" y="208.0" width="1.1" height="1.1" fill="#F8766D"/><rect x="172.9" y="245.8" width="1.1" height="1.1" fill="#F8766D"/><rect x="194.3" y="197.5" width="1.1" height="1.1" fill="#F8766D"/><rect x="186.0" y="197.5" width="1.1" height="1.1" fill="#F8766D"/><rect x="153.7" y="233.4" width="1.1" height="1.1" fill="#F8766D"/><rect x="163.8" y="205.7" width="1.1" height="1.1" fill="#F8766D"/><rect x="175.9" y="203.1" width="1.1" height="1.1" fill="#F8766D"/><rect x="162.2" y="243.8" width="1.1" height="1.1" fill="#F8766D"/><rect x="185.9" y="199.4" width="1.1" height="1.1" fill="#F8766D"/><rect x="187.4" y="198.6" width="1.1" height="1.1" fill="#F8766D"/><rect x="154.3" y="208.3" width="1.1" height="1.1" fill="#F8766D"/><rect x="152.4" y="212.9" width="1.1" height="1.1" fill="#F8766D"/>
<path d="M154.8 210.6 C155.5 209.5 157.2 209.2 158.5 209.2 C159.8 209.2 161.7 209.6 162.5 210.5 C163.3 211.4 163.4 213.1 163.2 214.5 C163.0 215.9 162.5 218.0 161.5 218.8 C160.5 219.7 158.2 220.1 157.0 219.6 C155.8 219.1 154.7 217.5 154.3 216.0 C153.9 214.5 154.1 211.7 154.8 210.6 Z" fill="#FF61CC" opacity="0.9"/>
<rect x="155.6" y="217.1" width="0.9" height="0.9" fill="#FF61CC"/>
<rect x="160.7" y="219.4" width="0.9" height="0.9" fill="#FF61CC"/>
<rect x="154.7" y="210.7" width="0.9" height="0.9" fill="#FF61CC"/>
<rect x="154.3" y="210.7" width="0.9" height="0.9" fill="#FF61CC"/>
<rect x="161.3" y="209.3" width="0.9" height="0.9" fill="#FF61CC"/>
<rect x="158.9" y="210.5" width="0.9" height="0.9" fill="#FF61CC"/>
<rect x="156.0" y="213.5" width="0.9" height="0.9" fill="#FF61CC"/>
<rect x="162.6" y="216.0" width="0.9" height="0.9" fill="#FF61CC"/>
<rect x="152.7" y="211.4" width="0.9" height="0.9" fill="#FF61CC"/>
<rect x="154.3" y="219.7" width="0.9" height="0.9" fill="#FF61CC"/>
<rect x="162.2" y="218.8" width="0.9" height="0.9" fill="#FF61CC"/>
<rect x="162.4" y="217.9" width="0.9" height="0.9" fill="#FF61CC"/>
<rect x="163.9" y="218.6" width="0.9" height="0.9" fill="#FF61CC"/>
<rect x="155.6" y="219.4" width="0.9" height="0.9" fill="#FF61CC"/>
<rect x="158.3" y="218.1" width="0.9" height="0.9" fill="#FF61CC"/>
<rect x="159.3" y="213.5" width="0.9" height="0.9" fill="#FF61CC"/>
<rect x="156.9" y="213.5" width="0.9" height="0.9" fill="#FF61CC"/>
<rect x="156.3" y="209.1" width="0.9" height="0.9" fill="#FF61CC"/>
<rect x="162.3" y="218.7" width="0.9" height="0.9" fill="#FF61CC"/>
<rect x="164.3" y="217.2" width="0.9" height="0.9" fill="#FF61CC"/>
<rect x="159.2" y="218.0" width="0.9" height="0.9" fill="#FF61CC"/>
<rect x="154.1" y="217.0" width="0.9" height="0.9" fill="#FF61CC"/>
<rect x="157.8" y="210.0" width="0.9" height="0.9" fill="#FF61CC"/>
<rect x="154.9" y="214.8" width="0.9" height="0.9" fill="#FF61CC"/>
<rect x="155.5" y="213.9" width="0.9" height="0.9" fill="#FF61CC"/>
<rect x="159.8" y="213.0" width="0.9" height="0.9" fill="#FF61CC"/>
<rect x="154.1" y="214.4" width="0.9" height="0.9" fill="#FF61CC"/>
<rect x="155.3" y="210.8" width="0.9" height="0.9" fill="#FF61CC"/>
<rect x="154.8" y="212.6" width="0.9" height="0.9" fill="#FF61CC"/>
<rect x="153.4" y="216.6" width="0.9" height="0.9" fill="#FF61CC"/>
<rect x="163.9" y="213.0" width="0.9" height="0.9" fill="#FF61CC"/>
<rect x="161.1" y="220.6" width="0.9" height="0.9" fill="#FF61CC"/>
<rect x="153.0" y="209.5" width="0.9" height="0.9" fill="#FF61CC"/>
<rect x="162.2" y="219.2" width="0.9" height="0.9" fill="#FF61CC"/>
<rect x="160.2" y="209.7" width="0.9" height="0.9" fill="#FF61CC"/>
<rect x="157.5" y="219.7" width="0.9" height="0.9" fill="#FF61CC"/>
<rect x="163.1" y="218.7" width="0.9" height="0.9" fill="#FF61CC"/>
<rect x="154.9" y="219.5" width="0.9" height="0.9" fill="#FF61CC"/>
<rect x="157.0" y="217.5" width="0.9" height="0.9" fill="#FF61CC"/>
<rect x="154.1" y="221.1" width="0.9" height="0.9" fill="#FF61CC"/>
<rect x="188.1" y="210.6" width="0.9" height="0.9" fill="#fff"/>
<rect x="180.2" y="208.9" width="0.9" height="0.9" fill="#fff"/>
<rect x="187.6" y="208.5" width="0.9" height="0.9" fill="#fff"/>
<rect x="183.2" y="210.6" width="0.9" height="0.9" fill="#fff"/>
<rect x="182.8" y="203.7" width="0.9" height="0.9" fill="#fff"/>
<rect x="179.3" y="209.9" width="0.9" height="0.9" fill="#fff"/>
<rect x="178.2" y="202.6" width="0.9" height="0.9" fill="#fff"/>
<rect x="177.4" y="209.3" width="0.9" height="0.9" fill="#fff"/>
<rect x="187.1" y="207.7" width="0.9" height="0.9" fill="#fff"/>
<rect x="176.8" y="206.0" width="0.9" height="0.9" fill="#fff"/>
<rect x="182.9" y="200.5" width="0.9" height="0.9" fill="#fff"/>
<rect x="176.1" y="215.0" width="0.9" height="0.9" fill="#fff"/>
<rect x="178.4" y="203.8" width="0.9" height="0.9" fill="#fff"/>
<rect x="181.4" y="208.6" width="0.9" height="0.9" fill="#fff"/>
<rect x="177.5" y="206.5" width="0.9" height="0.9" fill="#fff"/>
<rect x="183.3" y="212.4" width="0.9" height="0.9" fill="#fff"/>
<rect x="176.1" y="204.4" width="0.9" height="0.9" fill="#fff"/>
<rect x="185.9" y="214.5" width="0.9" height="0.9" fill="#fff"/>
<rect x="186.3" y="206.6" width="0.9" height="0.9" fill="#fff"/>
<rect x="189.4" y="203.7" width="0.9" height="0.9" fill="#fff"/>
<rect x="176.6" y="207.0" width="0.9" height="0.9" fill="#fff"/>
<rect x="194.2" y="210.8" width="0.9" height="0.9" fill="#fff"/>
<rect x="181.2" y="209.9" width="0.9" height="0.9" fill="#fff"/>
<rect x="193.0" y="203.1" width="0.9" height="0.9" fill="#fff"/>
<rect x="187.8" y="204.7" width="0.9" height="0.9" fill="#fff"/>
<rect x="180.5" y="221.5" width="0.9" height="0.9" fill="#00BE67"/>
<rect x="180.5" y="233.9" width="0.9" height="0.9" fill="#7CAE00"/>
<rect x="171.9" y="219.5" width="0.9" height="0.9" fill="#7CAE00"/>
<rect x="169.0" y="210.7" width="0.9" height="0.9" fill="#7CAE00"/>
<rect x="183.2" y="235.4" width="0.9" height="0.9" fill="#7CAE00"/>
<rect x="185.1" y="214.6" width="0.9" height="0.9" fill="#00BE67"/>
<rect x="186.9" y="223.9" width="0.9" height="0.9" fill="#7CAE00"/>
<rect x="185.9" y="232.9" width="0.9" height="0.9" fill="#7CAE00"/>
<rect x="167.9" y="206.0" width="0.9" height="0.9" fill="#7CAE00"/>
<rect x="185.2" y="230.7" width="0.9" height="0.9" fill="#00BFC4"/>
<rect x="180.1" y="233.4" width="0.9" height="0.9" fill="#7CAE00"/>
<rect x="186.5" y="219.0" width="0.9" height="0.9" fill="#7CAE00"/>
<rect x="180.6" y="209.7" width="0.9" height="0.9" fill="#7CAE00"/>
<rect x="188.6" y="211.2" width="0.9" height="0.9" fill="#7CAE00"/>
<rect x="182.4" y="199.2" width="0.9" height="0.9" fill="#7CAE00"/>
<rect x="178.8" y="233.6" width="0.9" height="0.9" fill="#00BE67"/>
<rect x="168.1" y="198.7" width="0.9" height="0.9" fill="#7CAE00"/>
<rect x="172.8" y="236.9" width="0.9" height="0.9" fill="#7CAE00"/>
<rect x="181.0" y="239.2" width="0.9" height="0.9" fill="#00BE67"/>
<rect x="179.4" y="221.8" width="0.9" height="0.9" fill="#7CAE00"/>
<rect x="190.9" y="209.3" width="0.9" height="0.9" fill="#7CAE00"/>
<rect x="176.0" y="198.6" width="0.9" height="0.9" fill="#00BE67"/>
<rect x="190.3" y="203.0" width="0.9" height="0.9" fill="#7CAE00"/>
<rect x="188.6" y="198.5" width="0.9" height="0.9" fill="#00BE67"/>
<rect x="191.5" y="205.5" width="0.9" height="0.9" fill="#7CAE00"/>
<rect x="180.3" y="206.0" width="0.9" height="0.9" fill="#7CAE00"/>
<rect x="179.4" y="214.1" width="0.9" height="0.9" fill="#00BE67"/>
<rect x="179.5" y="206.9" width="0.9" height="0.9" fill="#00BFC4"/>
<rect x="193.7" y="238.9" width="0.9" height="0.9" fill="#00BFC4"/>
<rect x="197.9" y="198.8" width="0.9" height="0.9" fill="#7CAE00"/>
<rect x="178.6" y="233.9" width="0.9" height="0.9" fill="#7CAE00"/>
<rect x="167.3" y="204.1" width="0.9" height="0.9" fill="#00BE67"/>
<rect x="174.3" y="230.5" width="0.9" height="0.9" fill="#00BFC4"/>
<rect x="192.6" y="214.2" width="0.9" height="0.9" fill="#7CAE00"/>
<rect x="168.9" y="222.5" width="0.9" height="0.9" fill="#7CAE00"/>
<rect x="166.5" y="213.5" width="0.9" height="0.9" fill="#00BE67"/>
<rect x="170.1" y="222.7" width="0.9" height="0.9" fill="#7CAE00"/>
<rect x="193.7" y="205.7" width="0.9" height="0.9" fill="#7CAE00"/>
<rect x="175.9" y="207.6" width="0.9" height="0.9" fill="#7CAE00"/>
<rect x="189.2" y="204.7" width="0.9" height="0.9" fill="#7CAE00"/>
<rect x="188.0" y="214.3" width="0.9" height="0.9" fill="#00BE67"/>
<rect x="185.3" y="215.7" width="0.9" height="0.9" fill="#7CAE00"/>
<rect x="169.5" y="219.5" width="0.9" height="0.9" fill="#00BFC4"/>
<rect x="173.6" y="227.6" width="0.9" height="0.9" fill="#00BFC4"/>
<rect x="179.5" y="236.0" width="0.9" height="0.9" fill="#00BE67"/>
<rect x="175.4" y="205.4" width="0.9" height="0.9" fill="#7CAE00"/>
<rect x="170.0" y="218.1" width="0.9" height="0.9" fill="#7CAE00"/>
<rect x="175.0" y="236.5" width="0.9" height="0.9" fill="#7CAE00"/>
<rect x="190.0" y="200.9" width="0.9" height="0.9" fill="#00BE67"/>
<rect x="180.3" y="200.5" width="0.9" height="0.9" fill="#7CAE00"/>
<rect x="175.0" y="220.3" width="0.9" height="0.9" fill="#7CAE00"/>
<rect x="169.0" y="203.8" width="0.9" height="0.9" fill="#00BE67"/>
<rect x="197.4" y="225.6" width="0.9" height="0.9" fill="#7CAE00"/>
<rect x="184.9" y="236.8" width="0.9" height="0.9" fill="#00BE67"/>
<rect x="195.1" y="227.4" width="0.9" height="0.9" fill="#7CAE00"/>
<rect x="166.7" y="224.7" width="0.9" height="0.9" fill="#00BE67"/>
<rect x="168.2" y="211.1" width="0.9" height="0.9" fill="#7CAE00"/>
<rect x="198.0" y="201.2" width="0.9" height="0.9" fill="#00BFC4"/>
<rect x="189.6" y="235.8" width="0.9" height="0.9" fill="#7CAE00"/>
<rect x="191.4" y="236.4" width="0.9" height="0.9" fill="#00BFC4"/>
<rect x="168.7" y="217.9" width="0.9" height="0.9" fill="#7CAE00"/>
<rect x="193.9" y="215.5" width="0.9" height="0.9" fill="#7CAE00"/>
<rect x="193.6" y="222.1" width="0.9" height="0.9" fill="#00BE67"/>
<rect x="178.1" y="198.5" width="0.9" height="0.9" fill="#7CAE00"/>
<rect x="168.6" y="224.9" width="0.9" height="0.9" fill="#00BFC4"/>
<rect x="194.2" y="228.6" width="0.9" height="0.9" fill="#00BE67"/>
<rect x="195.9" y="227.2" width="0.9" height="0.9" fill="#00BE67"/>
<rect x="180.1" y="233.2" width="0.9" height="0.9" fill="#7CAE00"/>
<rect x="182.6" y="219.6" width="0.9" height="0.9" fill="#00BFC4"/>
<rect x="185.2" y="218.2" width="0.9" height="0.9" fill="#7CAE00"/>
<path d="M112.8 200.0 C113.4 199.0 114.5 198.8 115.5 199.0 C116.5 199.2 118.0 200.2 119.0 201.0 C120.0 201.8 120.9 202.7 121.5 204.0 C122.1 205.3 122.1 207.8 122.5 209.0 C122.9 210.2 121.9 211.0 124.0 211.5 C126.1 212.0 131.3 211.8 135.0 212.0 C138.7 212.2 143.3 212.2 146.0 212.5 C148.7 212.8 150.2 212.8 151.0 213.5 C151.8 214.2 152.8 215.9 151.0 216.5 C149.2 217.1 144.3 216.7 140.0 216.8 C135.7 216.9 128.5 217.0 125.0 217.2 C121.5 217.4 120.8 217.8 119.0 217.9 C117.2 218.0 115.1 218.3 114.0 217.5 C112.9 216.7 112.6 215.1 112.3 213.0 C112.0 210.9 111.9 207.2 112.0 205.0 C112.1 202.8 112.2 201.0 112.8 200.0 Z" fill="#00A9FF" />
<rect x="120.9" y="204.3" width="1.1" height="1.1" fill="#00A9FF"/><rect x="111.7" y="201.0" width="1.1" height="1.1" fill="#00A9FF"/><rect x="119.8" y="205.4" width="1.1" height="1.1" fill="#00A9FF"/><rect x="115.0" y="218.2" width="1.1" height="1.1" fill="#00A9FF"/><rect x="117.5" y="200.1" width="1.1" height="1.1" fill="#00A9FF"/><rect x="112.9" y="208.8" width="1.1" height="1.1" fill="#00A9FF"/><rect x="116.0" y="200.8" width="1.1" height="1.1" fill="#00A9FF"/><rect x="115.0" y="217.6" width="1.1" height="1.1" fill="#00A9FF"/><rect x="121.0" y="213.7" width="1.1" height="1.1" fill="#00A9FF"/><rect x="111.7" y="204.1" width="1.1" height="1.1" fill="#00A9FF"/><rect x="115.4" y="200.2" width="1.1" height="1.1" fill="#00A9FF"/><rect x="121.1" y="204.0" width="1.1" height="1.1" fill="#00A9FF"/><rect x="112.5" y="216.9" width="1.1" height="1.1" fill="#00A9FF"/><rect x="119.2" y="201.0" width="1.1" height="1.1" fill="#00A9FF"/><rect x="121.4" y="216.5" width="1.1" height="1.1" fill="#00A9FF"/><rect x="111.0" y="207.0" width="1.1" height="1.1" fill="#00A9FF"/><rect x="121.3" y="211.0" width="1.1" height="1.1" fill="#00A9FF"/><rect x="111.6" y="204.6" width="1.1" height="1.1" fill="#00A9FF"/><rect x="112.2" y="197.7" width="1.1" height="1.1" fill="#00A9FF"/><rect x="123.6" y="210.6" width="1.1" height="1.1" fill="#00A9FF"/><rect x="118.9" y="203.8" width="1.1" height="1.1" fill="#00A9FF"/><rect x="113.6" y="198.6" width="1.1" height="1.1" fill="#00A9FF"/><rect x="114.0" y="199.7" width="1.1" height="1.1" fill="#00A9FF"/><rect x="110.9" y="202.0" width="1.1" height="1.1" fill="#00A9FF"/><rect x="111.4" y="213.7" width="1.1" height="1.1" fill="#00A9FF"/><rect x="115.6" y="199.4" width="1.1" height="1.1" fill="#00A9FF"/><rect x="112.6" y="209.6" width="1.1" height="1.1" fill="#00A9FF"/><rect x="119.5" y="201.8" width="1.1" height="1.1" fill="#00A9FF"/><rect x="119.8" y="200.3" width="1.1" height="1.1" fill="#00A9FF"/><rect x="124.0" y="207.7" width="1.1" height="1.1" fill="#00A9FF"/><rect x="114.3" y="214.5" width="1.1" height="1.1" fill="#00A9FF"/><rect x="111.1" y="203.4" width="1.1" height="1.1" fill="#00A9FF"/><rect x="115.6" y="198.6" width="1.1" height="1.1" fill="#00A9FF"/><rect x="111.7" y="212.1" width="1.1" height="1.1" fill="#00A9FF"/><rect x="113.1" y="214.1" width="1.1" height="1.1" fill="#00A9FF"/>
<rect x="118.9" y="201.3" width="0.9" height="0.9" fill="#fff"/><rect x="113.0" y="214.6" width="0.9" height="0.9" fill="#fff"/><rect x="121.7" y="209.7" width="0.9" height="0.9" fill="#fff"/><rect x="111.2" y="206.6" width="0.9" height="0.9" fill="#fff"/><rect x="121.7" y="204.6" width="0.9" height="0.9" fill="#fff"/><rect x="111.5" y="210.3" width="0.9" height="0.9" fill="#fff"/><rect x="113.5" y="216.9" width="0.9" height="0.9" fill="#fff"/><rect x="117.1" y="217.3" width="0.9" height="0.9" fill="#fff"/><rect x="112.4" y="202.1" width="0.9" height="0.9" fill="#fff"/><rect x="123.2" y="209.8" width="0.9" height="0.9" fill="#fff"/><rect x="111.5" y="211.2" width="0.9" height="0.9" fill="#fff"/><rect x="118.8" y="200.6" width="0.9" height="0.9" fill="#fff"/>
<rect x="183.0" y="195.0" width="1.2" height="1.2" fill="#CD9600"/>
<rect x="185.0" y="192.0" width="1.2" height="1.2" fill="#CD9600"/>
<rect x="186.0" y="188.0" width="1.2" height="1.2" fill="#CD9600"/>
<rect x="179.3" y="120.5" width="1.2" height="1.2" fill="#00A9FF"/>
<rect x="180.3" y="121.5" width="1.2" height="1.2" fill="#00A9FF"/>
<rect x="186.0" y="183.0" width="1.2" height="1.2" fill="#FF61CC"/>
<rect x="112.0" y="195.0" width="1.2" height="1.2" fill="#C77CFF"/>
<rect x="113.0" y="196.0" width="1.2" height="1.2" fill="#FF61CC"/>
<rect x="69.3" y="128.3" width="2" height="2" fill="#111"/>
<text x="187.3" y="60.7" font-family="Liberation Sans, Arial, sans-serif" font-size="9" fill="#000">CAF−C4−IGF1</text>
<text x="182.0" y="93.6" font-family="Liberation Sans, Arial, sans-serif" font-size="9" fill="#000">CAF−C3−OGN,PI16</text>
<text x="183.3" y="142.7" font-family="Liberation Sans, Arial, sans-serif" font-size="9" fill="#000">CAF−C2−OGN</text>
<text x="156.6" y="168.4" font-family="Liberation Sans, Arial, sans-serif" font-size="9" fill="#000">CAF−C1−ACTA2</text>
<text x="143.5" y="230.4" font-family="Liberation Sans, Arial, sans-serif" font-size="9" fill="#000">FB−CLU−matrix</text>
<text x="85.0" y="215.5" font-family="Liberation Sans, Arial, sans-serif" font-size="9" fill="#000">CAF−C5−MKi67</text>
<text x="61.5" y="109.6" font-family="Liberation Sans, Arial, sans-serif" font-size="9" fill="#000">MyoFB−C2−activated</text>
<text x="38.8" y="128.0" font-family="Liberation Sans, Arial, sans-serif" font-size="9" fill="#000">MyoFB−C1−matrix</text>
<path d="M34.9 28.4 V256 H264.6 V28.4 Z" fill="none" stroke="#000" stroke-width="1.3"/>
<line x1="60.0" y1="256" x2="60.0" y2="259" stroke="#000" stroke-width="1.1"/>
<text x="60.0" y="269.4" font-family="Liberation Sans, Arial, sans-serif" font-size="10.2" fill="#333" text-anchor="middle">−10</text>
<line x1="115.7" y1="256" x2="115.7" y2="259" stroke="#000" stroke-width="1.1"/>
<text x="115.7" y="269.4" font-family="Liberation Sans, Arial, sans-serif" font-size="10.2" fill="#333" text-anchor="middle">−5</text>
<line x1="171.3" y1="256" x2="171.3" y2="259" stroke="#000" stroke-width="1.1"/>
<text x="171.3" y="269.4" font-family="Liberation Sans, Arial, sans-serif" font-size="10.2" fill="#333" text-anchor="middle">0</text>
<line x1="227.0" y1="256" x2="227.0" y2="259" stroke="#000" stroke-width="1.1"/>
<text x="227.0" y="269.4" font-family="Liberation Sans, Arial, sans-serif" font-size="10.2" fill="#333" text-anchor="middle">5</text>
<line x1="31.6" y1="67.2" x2="34.9" y2="67.2" stroke="#000" stroke-width="1.1"/>
<text x="28.8" y="70.8" font-family="Liberation Sans, Arial, sans-serif" font-size="10.2" fill="#333" text-anchor="end">5</text>
<line x1="31.6" y1="123.2" x2="34.9" y2="123.2" stroke="#000" stroke-width="1.1"/>
<text x="28.8" y="126.8" font-family="Liberation Sans, Arial, sans-serif" font-size="10.2" fill="#333" text-anchor="end">0</text>
<line x1="31.6" y1="178.9" x2="34.9" y2="178.9" stroke="#000" stroke-width="1.1"/>
<text x="28.8" y="182.5" font-family="Liberation Sans, Arial, sans-serif" font-size="10.2" fill="#333" text-anchor="end">−5</text>
<line x1="31.6" y1="234.7" x2="34.9" y2="234.7" stroke="#000" stroke-width="1.1"/>
<text x="28.8" y="238.3" font-family="Liberation Sans, Arial, sans-serif" font-size="10.2" fill="#333" text-anchor="end">−10</text>
<text x="149.6" y="283.2" font-family="Liberation Sans, Arial, sans-serif" font-size="11.7" fill="#000" text-anchor="middle">UMAP1</text>
<text transform="translate(9.3 141.8) rotate(-90)" font-family="Liberation Sans, Arial, sans-serif" font-size="11.7" fill="#000" text-anchor="middle">UMAP2</text>
<circle cx="282.9" cy="100.5" r="3.6" fill="#F8766D"/>
<text x="295.6" y="104.1" font-family="Liberation Sans, Arial, sans-serif" font-size="10" fill="#000">FB−CLU−matrix</text>
<circle cx="282.9" cy="113.2" r="3.6" fill="#CD9600"/>
<text x="295.6" y="116.8" font-family="Liberation Sans, Arial, sans-serif" font-size="10" fill="#000">CAF−C1−ACTA2</text>
<circle cx="282.9" cy="125.9" r="3.6" fill="#7CAE00"/>
<text x="295.6" y="129.5" font-family="Liberation Sans, Arial, sans-serif" font-size="10" fill="#000">CAF−C2−OGN</text>
<circle cx="282.9" cy="138.6" r="3.6" fill="#00BE67"/>
<text x="295.6" y="142.2" font-family="Liberation Sans, Arial, sans-serif" font-size="10" fill="#000">CAF−C3−OGN,PI16</text>
<circle cx="282.9" cy="151.3" r="3.6" fill="#00BFC4"/>
<text x="295.6" y="154.9" font-family="Liberation Sans, Arial, sans-serif" font-size="10" fill="#000">CAF−C4−IGF1</text>
<circle cx="282.9" cy="164.0" r="3.6" fill="#00A9FF"/>
<text x="295.6" y="167.6" font-family="Liberation Sans, Arial, sans-serif" font-size="10" fill="#000">CAF−C5−MKi67</text>
<circle cx="282.9" cy="176.7" r="3.6" fill="#C77CFF"/>
<text x="295.6" y="180.3" font-family="Liberation Sans, Arial, sans-serif" font-size="10" fill="#000">MyoFB−C1−matrix</text>
<circle cx="282.9" cy="189.4" r="3.6" fill="#FF61CC"/>
<text x="295.6" y="193.0" font-family="Liberation Sans, Arial, sans-serif" font-size="10" fill="#000">MyoFB−C2−activated</text>
<text x="15.3" y="304.0" font-family="DejaVu Sans, sans-serif" font-weight="bold" font-size="24.0" transform="matrix(1.1400 0 0 0.9889 -3.380 3.178)">B</text>
<circle cx="105.2" cy="345.1" r="2.50" fill="#b093e5"/>
<circle cx="114.9" cy="345.1" r="5.00" fill="#b69ce3"/>
<circle cx="124.7" cy="345.1" r="1.85" fill="#b093e5"/>
<circle cx="134.4" cy="345.1" r="1.45" fill="#b093e5"/>
<circle cx="144.1" cy="345.1" r="0.95" fill="#b093e5"/>
<circle cx="153.8" cy="345.1" r="4.65" fill="#8e65f0"/>
<circle cx="163.6" cy="345.1" r="3.30" fill="#aa89e7"/>
<circle cx="173.3" cy="345.1" r="4.80" fill="#9d77ec"/>
<circle cx="183.0" cy="345.1" r="0.80" fill="#b093e5"/>
<circle cx="192.7" cy="345.1" r="0.65" fill="#b093e5"/>
<circle cx="202.5" cy="345.1" r="4.50" fill="#b69ce3"/>
<circle cx="212.2" cy="345.1" r="4.50" fill="#b69ce3"/>
<circle cx="221.9" cy="345.1" r="3.00" fill="#b69ce3"/>
<circle cx="231.6" cy="345.1" r="1.20" fill="#b093e5"/>
<circle cx="241.4" cy="345.1" r="0.80" fill="#aa89e7"/>
<circle cx="251.1" cy="345.1" r="0.80" fill="#aa89e7"/>
<circle cx="260.8" cy="345.1" r="1.20" fill="#a480ea"/>
<circle cx="270.5" cy="345.1" r="1.35" fill="#9d77ec"/>
<circle cx="280.3" cy="345.1" r="0.65" fill="#aa89e7"/>
<circle cx="290.0" cy="345.1" r="3.30" fill="#855bf2"/>
<circle cx="299.7" cy="345.1" r="4.30" fill="#7c51f4"/>
<circle cx="309.4" cy="345.1" r="0.65" fill="#aa89e7"/>
<circle cx="319.2" cy="345.1" r="0.80" fill="#aa89e7"/>
<circle cx="328.9" cy="345.1" r="1.35" fill="#966eee"/>
<circle cx="338.6" cy="345.1" r="3.65" fill="#7c51f4"/>
<circle cx="348.4" cy="345.1" r="4.65" fill="#855bf2"/>
<circle cx="358.1" cy="345.1" r="1.20" fill="#0000ff"/>
<circle cx="367.8" cy="345.1" r="1.65" fill="#8e65f0"/>
<circle cx="105.2" cy="358.4" r="3.30" fill="#b093e5"/>
<circle cx="114.9" cy="358.4" r="5.00" fill="#b69ce3"/>
<circle cx="124.7" cy="358.4" r="0.80" fill="#b69ce3"/>
<circle cx="134.4" cy="358.4" r="1.60" fill="#b093e5"/>
<circle cx="144.1" cy="358.4" r="0.80" fill="#b69ce3"/>
<circle cx="153.8" cy="358.4" r="5.00" fill="#855bf2"/>
<circle cx="163.6" cy="358.4" r="4.80" fill="#966eee"/>
<circle cx="173.3" cy="358.4" r="5.00" fill="#8e65f0"/>
<circle cx="183.0" cy="358.4" r="0.80" fill="#b69ce3"/>
<circle cx="192.7" cy="358.4" r="0.65" fill="#b69ce3"/>
<circle cx="202.5" cy="358.4" r="4.00" fill="#c1aede"/>
<circle cx="212.2" cy="358.4" r="3.65" fill="#c1aede"/>
<circle cx="221.9" cy="358.4" r="1.20" fill="#b69ce3"/>
<circle cx="231.6" cy="358.4" r="0.80" fill="#b69ce3"/>
<circle cx="241.4" cy="358.4" r="0.65" fill="#b093e5"/>
<circle cx="251.1" cy="358.4" r="0.65" fill="#b093e5"/>
<circle cx="260.8" cy="358.4" r="0.80" fill="#b093e5"/>
<circle cx="270.5" cy="358.4" r="0.80" fill="#aa89e7"/>
<circle cx="280.3" cy="358.4" r="0.65" fill="#b093e5"/>
<circle cx="290.0" cy="358.4" r="1.75" fill="#b093e5"/>
<circle cx="299.7" cy="358.4" r="4.00" fill="#9d77ec"/>
<circle cx="309.4" cy="358.4" r="0.65" fill="#b093e5"/>
<circle cx="319.2" cy="358.4" r="0.65" fill="#b69ce3"/>
<circle cx="328.9" cy="358.4" r="1.20" fill="#a480ea"/>
<circle cx="338.6" cy="358.4" r="4.80" fill="#7248f6"/>
<circle cx="348.4" cy="358.4" r="4.80" fill="#673df8"/>
<circle cx="358.1" cy="358.4" r="1.00" fill="#9d77ec"/>
<circle cx="367.8" cy="358.4" r="0.80" fill="#ccc4d8"/>
<circle cx="105.2" cy="371.8" r="2.80" fill="#b093e5"/>
<circle cx="114.9" cy="371.8" r="4.65" fill="#bba5e0"/>
<circle cx="124.7" cy="371.8" r="2.50" fill="#b093e5"/>
<circle cx="134.4" cy="371.8" r="1.60" fill="#b093e5"/>
<circle cx="144.1" cy="371.8" r="1.75" fill="#aa89e7"/>
<circle cx="153.8" cy="371.8" r="3.20" fill="#b093e5"/>
<circle cx="163.6" cy="371.8" r="1.85" fill="#b093e5"/>
<circle cx="173.3" cy="371.8" r="3.50" fill="#b093e5"/>
<circle cx="183.0" cy="371.8" r="1.65" fill="#b093e5"/>
<circle cx="192.7" cy="371.8" r="1.20" fill="#8e65f0"/>
<circle cx="202.5" cy="371.8" r="4.50" fill="#aa89e7"/>
<circle cx="212.2" cy="371.8" r="4.50" fill="#aa89e7"/>
<circle cx="221.9" cy="371.8" r="4.00" fill="#aa89e7"/>
<circle cx="231.6" cy="371.8" r="2.00" fill="#aa89e7"/>
<circle cx="241.4" cy="371.8" r="1.35" fill="#aa89e7"/>
<circle cx="251.1" cy="371.8" r="1.65" fill="#9d77ec"/>
<circle cx="260.8" cy="371.8" r="2.00" fill="#aa89e7"/>
<circle cx="270.5" cy="371.8" r="1.20" fill="#a480ea"/>
<circle cx="280.3" cy="371.8" r="1.00" fill="#a480ea"/>
<circle cx="290.0" cy="371.8" r="3.20" fill="#8e65f0"/>
<circle cx="299.7" cy="371.8" r="3.20" fill="#b69ce3"/>
<circle cx="309.4" cy="371.8" r="2.50" fill="#0000ff"/>
<circle cx="319.2" cy="371.8" r="1.50" fill="#3318fd"/>
<circle cx="328.9" cy="371.8" r="1.90" fill="#8e65f0"/>
<circle cx="338.6" cy="371.8" r="2.15" fill="#b093e5"/>
<circle cx="348.4" cy="371.8" r="2.40" fill="#b69ce3"/>
<circle cx="358.1" cy="371.8" r="0.80" fill="#a480ea"/>
<circle cx="367.8" cy="371.8" r="1.75" fill="#a480ea"/>
<circle cx="105.2" cy="385.1" r="3.00" fill="#c1aede"/>
<circle cx="114.9" cy="385.1" r="5.00" fill="#c1aede"/>
<circle cx="124.7" cy="385.1" r="3.00" fill="#b093e5"/>
<circle cx="134.4" cy="385.1" r="2.40" fill="#b69ce3"/>
<circle cx="144.1" cy="385.1" r="2.25" fill="#b69ce3"/>
<circle cx="153.8" cy="385.1" r="3.05" fill="#bba5e0"/>
<circle cx="163.6" cy="385.1" r="0.80" fill="#b69ce3"/>
<circle cx="173.3" cy="385.1" r="3.50" fill="#b69ce3"/>
<circle cx="183.0" cy="385.1" r="2.15" fill="#aa89e7"/>
<circle cx="192.7" cy="385.1" r="1.35" fill="#aa89e7"/>
<circle cx="202.5" cy="385.1" r="5.00" fill="#4926fb"/>
<circle cx="212.2" cy="385.1" r="5.00" fill="#5932fa"/>
<circle cx="221.9" cy="385.1" r="5.00" fill="#855bf2"/>
<circle cx="231.6" cy="385.1" r="4.00" fill="#3318fd"/>
<circle cx="241.4" cy="385.1" r="2.40" fill="#b093e5"/>
<circle cx="251.1" cy="385.1" r="3.20" fill="#9d77ec"/>
<circle cx="260.8" cy="385.1" r="4.65" fill="#0000ff"/>
<circle cx="270.5" cy="385.1" r="2.40" fill="#3318fd"/>
<circle cx="280.3" cy="385.1" r="2.65" fill="#3318fd"/>
<circle cx="290.0" cy="385.1" r="4.30" fill="#8e65f0"/>
<circle cx="299.7" cy="385.1" r="4.80" fill="#a480ea"/>
<circle cx="309.4" cy="385.1" r="0.65" fill="#aa89e7"/>
<circle cx="319.2" cy="385.1" r="1.20" fill="#a480ea"/>
<circle cx="328.9" cy="385.1" r="1.65" fill="#966eee"/>
<circle cx="338.6" cy="385.1" r="1.20" fill="#b093e5"/>
<circle cx="348.4" cy="385.1" r="1.75" fill="#b69ce3"/>
<circle cx="358.1" cy="385.1" r="0.50" fill="#b69ce3"/>
<circle cx="367.8" cy="385.1" r="1.65" fill="#c1aede"/>
<circle cx="105.2" cy="398.4" r="3.65" fill="#b69ce3"/>
<circle cx="114.9" cy="398.4" r="5.00" fill="#bba5e0"/>
<circle cx="124.7" cy="398.4" r="3.30" fill="#aa89e7"/>
<circle cx="134.4" cy="398.4" r="2.50" fill="#b093e5"/>
<circle cx="144.1" cy="398.4" r="2.00" fill="#b093e5"/>
<circle cx="153.8" cy="398.4" r="2.25" fill="#bba5e0"/>
<circle cx="163.6" cy="398.4" r="0.80" fill="#b69ce3"/>
<circle cx="173.3" cy="398.4" r="2.65" fill="#bba5e0"/>
<circle cx="183.0" cy="398.4" r="3.30" fill="#5932fa"/>
<circle cx="192.7" cy="398.4" r="2.40" fill="#3318fd"/>
<circle cx="202.5" cy="398.4" r="5.00" fill="#966eee"/>
<circle cx="212.2" cy="398.4" r="5.00" fill="#966eee"/>
<circle cx="221.9" cy="398.4" r="5.00" fill="#673df8"/>
<circle cx="231.6" cy="398.4" r="4.00" fill="#9d77ec"/>
<circle cx="241.4" cy="398.4" r="2.40" fill="#7248f6"/>
<circle cx="251.1" cy="398.4" r="3.20" fill="#5932fa"/>
<circle cx="260.8" cy="398.4" r="4.10" fill="#a480ea"/>
<circle cx="270.5" cy="398.4" r="1.65" fill="#966eee"/>
<circle cx="280.3" cy="398.4" r="1.65" fill="#9d77ec"/>
<circle cx="290.0" cy="398.4" r="3.50" fill="#b093e5"/>
<circle cx="299.7" cy="398.4" r="4.30" fill="#aa89e7"/>
<circle cx="309.4" cy="398.4" r="0.65" fill="#aa89e7"/>
<circle cx="319.2" cy="398.4" r="1.20" fill="#9d77ec"/>
<circle cx="328.9" cy="398.4" r="1.20" fill="#aa89e7"/>
<circle cx="338.6" cy="398.4" r="1.00" fill="#aa89e7"/>
<circle cx="348.4" cy="398.4" r="1.50" fill="#b093e5"/>
<circle cx="358.1" cy="398.4" r="0.50" fill="#b69ce3"/>
<circle cx="367.8" cy="398.4" r="1.65" fill="#966eee"/>
<circle cx="105.2" cy="411.8" r="5.00" fill="#673df8"/>
<circle cx="114.9" cy="411.8" r="5.00" fill="#7248f6"/>
<circle cx="124.7" cy="411.8" r="4.10" fill="#673df8"/>
<circle cx="134.4" cy="411.8" r="3.30" fill="#673df8"/>
<circle cx="144.1" cy="411.8" r="3.00" fill="#7248f6"/>
<circle cx="153.8" cy="411.8" r="3.20" fill="#bba5e0"/>
<circle cx="163.6" cy="411.8" r="3.30" fill="#b093e5"/>
<circle cx="173.3" cy="411.8" r="4.50" fill="#b093e5"/>
<circle cx="183.0" cy="411.8" r="3.30" fill="#7c51f4"/>
<circle cx="192.7" cy="411.8" r="0.80" fill="#b093e5"/>
<circle cx="202.5" cy="411.8" r="4.80" fill="#9d77ec"/>
<circle cx="212.2" cy="411.8" r="4.50" fill="#aa89e7"/>
<circle cx="221.9" cy="411.8" r="4.50" fill="#aa89e7"/>
<circle cx="231.6" cy="411.8" r="2.65" fill="#a480ea"/>
<circle cx="241.4" cy="411.8" r="2.40" fill="#966eee"/>
<circle cx="251.1" cy="411.8" r="1.75" fill="#a480ea"/>
<circle cx="260.8" cy="411.8" r="1.20" fill="#aa89e7"/>
<circle cx="270.5" cy="411.8" r="0.80" fill="#aa89e7"/>
<circle cx="280.3" cy="411.8" r="1.20" fill="#9d77ec"/>
<circle cx="290.0" cy="411.8" r="2.80" fill="#b69ce3"/>
<circle cx="299.7" cy="411.8" r="2.80" fill="#bba5e0"/>
<circle cx="309.4" cy="411.8" r="0.65" fill="#b093e5"/>
<circle cx="319.2" cy="411.8" r="0.95" fill="#aa89e7"/>
<circle cx="328.9" cy="411.8" r="0.95" fill="#aa89e7"/>
<circle cx="338.6" cy="411.8" r="1.20" fill="#aa89e7"/>
<circle cx="348.4" cy="411.8" r="1.00" fill="#aa89e7"/>
<circle cx="358.1" cy="411.8" r="0.65" fill="#b69ce3"/>
<circle cx="367.8" cy="411.8" r="1.50" fill="#a480ea"/>
<circle cx="105.2" cy="425.1" r="4.65" fill="#aa89e7"/>
<circle cx="114.9" cy="425.1" r="5.00" fill="#a480ea"/>
<circle cx="124.7" cy="425.1" r="3.65" fill="#a480ea"/>
<circle cx="134.4" cy="425.1" r="2.80" fill="#a480ea"/>
<circle cx="144.1" cy="425.1" r="2.65" fill="#a480ea"/>
<circle cx="153.8" cy="425.1" r="5.00" fill="#855bf2"/>
<circle cx="163.6" cy="425.1" r="5.00" fill="#4926fb"/>
<circle cx="173.3" cy="425.1" r="5.00" fill="#5932fa"/>
<circle cx="183.0" cy="425.1" r="2.40" fill="#a480ea"/>
<circle cx="192.7" cy="425.1" r="0.50" fill="#b69ce3"/>
<circle cx="202.5" cy="425.1" r="4.80" fill="#c1aede"/>
<circle cx="212.2" cy="425.1" r="4.65" fill="#c1aede"/>
<circle cx="221.9" cy="425.1" r="2.80" fill="#b69ce3"/>
<circle cx="231.6" cy="425.1" r="1.20" fill="#b093e5"/>
<circle cx="241.4" cy="425.1" r="2.80" fill="#7c51f4"/>
<circle cx="251.1" cy="425.1" r="0.80" fill="#b093e5"/>
<circle cx="260.8" cy="425.1" r="0.80" fill="#b093e5"/>
<circle cx="270.5" cy="425.1" r="0.65" fill="#b69ce3"/>
<circle cx="280.3" cy="425.1" r="0.80" fill="#b093e5"/>
<circle cx="290.0" cy="425.1" r="2.40" fill="#bba5e0"/>
<circle cx="299.7" cy="425.1" r="1.65" fill="#c1aede"/>
<circle cx="309.4" cy="425.1" r="0.65" fill="#b093e5"/>
<circle cx="319.2" cy="425.1" r="0.95" fill="#aa89e7"/>
<circle cx="328.9" cy="425.1" r="0.65" fill="#c6b7db"/>
<circle cx="338.6" cy="425.1" r="1.35" fill="#b093e5"/>
<circle cx="348.4" cy="425.1" r="0.95" fill="#b093e5"/>
<circle cx="358.1" cy="425.1" r="0.65" fill="#b69ce3"/>
<circle cx="367.8" cy="425.1" r="1.50" fill="#a480ea"/>
<circle cx="105.2" cy="438.4" r="3.65" fill="#7248f6"/>
<circle cx="114.9" cy="438.4" r="4.50" fill="#7c51f4"/>
<circle cx="124.7" cy="438.4" r="2.65" fill="#7c51f4"/>
<circle cx="134.4" cy="438.4" r="2.25" fill="#7c51f4"/>
<circle cx="144.1" cy="438.4" r="2.25" fill="#673df8"/>
<circle cx="153.8" cy="438.4" r="2.15" fill="#b69ce3"/>
<circle cx="163.6" cy="438.4" r="2.50" fill="#b093e5"/>
<circle cx="173.3" cy="438.4" r="3.50" fill="#b093e5"/>
<circle cx="183.0" cy="438.4" r="2.00" fill="#a480ea"/>
<circle cx="192.7" cy="438.4" r="1.00" fill="#9d77ec"/>
<circle cx="202.5" cy="438.4" r="4.00" fill="#b69ce3"/>
<circle cx="212.2" cy="438.4" r="3.50" fill="#b69ce3"/>
<circle cx="221.9" cy="438.4" r="4.30" fill="#9d77ec"/>
<circle cx="231.6" cy="438.4" r="1.75" fill="#a480ea"/>
<circle cx="241.4" cy="438.4" r="1.50" fill="#aa89e7"/>
<circle cx="251.1" cy="438.4" r="1.20" fill="#a480ea"/>
<circle cx="260.8" cy="438.4" r="1.65" fill="#aa89e7"/>
<circle cx="270.5" cy="438.4" r="0.80" fill="#a480ea"/>
<circle cx="280.3" cy="438.4" r="0.80" fill="#a480ea"/>
<circle cx="290.0" cy="438.4" r="1.35" fill="#b69ce3"/>
<circle cx="299.7" cy="438.4" r="1.65" fill="#b69ce3"/>
<circle cx="309.4" cy="438.4" r="0.65" fill="#aa89e7"/>
<circle cx="319.2" cy="438.4" r="0.80" fill="#aa89e7"/>
<circle cx="328.9" cy="438.4" r="0.80" fill="#aa89e7"/>
<circle cx="338.6" cy="438.4" r="1.00" fill="#b093e5"/>
<circle cx="348.4" cy="438.4" r="1.00" fill="#b093e5"/>
<circle cx="358.1" cy="438.4" r="0.65" fill="#b093e5"/>
<circle cx="367.8" cy="438.4" r="1.20" fill="#a480ea"/>
<rect x="99.3" y="338.3" width="274" height="107" fill="none" stroke="#000" stroke-width="1.4"/>
<line x1="95.2" y1="345.1" x2="99.3" y2="345.1" stroke="#000" stroke-width="1"/>
<text x="93.8" y="348.1" font-family="Liberation Sans, Arial, sans-serif" font-size="8.4" fill="#000" text-anchor="end">MyoFB−C2−activated</text>
<line x1="95.2" y1="358.4" x2="99.3" y2="358.4" stroke="#000" stroke-width="1"/>
<text x="93.8" y="361.4" font-family="Liberation Sans, Arial, sans-serif" font-size="8.4" fill="#000" text-anchor="end">MyoFB−C1−matrix</text>
<line x1="95.2" y1="371.8" x2="99.3" y2="371.8" stroke="#000" stroke-width="1"/>
<text x="93.8" y="374.8" font-family="Liberation Sans, Arial, sans-serif" font-size="8.4" fill="#000" text-anchor="end">CAF−C5−MKi67</text>
<line x1="95.2" y1="385.1" x2="99.3" y2="385.1" stroke="#000" stroke-width="1"/>
<text x="93.8" y="388.1" font-family="Liberation Sans, Arial, sans-serif" font-size="8.4" fill="#000" text-anchor="end">CAF−C4−IGF1</text>
<line x1="95.2" y1="398.4" x2="99.3" y2="398.4" stroke="#000" stroke-width="1"/>
<text x="93.8" y="401.4" font-family="Liberation Sans, Arial, sans-serif" font-size="8.4" fill="#000" text-anchor="end">CAF−C3−OGN,PI16</text>
<line x1="95.2" y1="411.8" x2="99.3" y2="411.8" stroke="#000" stroke-width="1"/>
<text x="93.8" y="414.8" font-family="Liberation Sans, Arial, sans-serif" font-size="8.4" fill="#000" text-anchor="end">CAF−C2−OGN</text>
<line x1="95.2" y1="425.1" x2="99.3" y2="425.1" stroke="#000" stroke-width="1"/>
<text x="93.8" y="428.1" font-family="Liberation Sans, Arial, sans-serif" font-size="8.4" fill="#000" text-anchor="end">CAF−C1−ACTA2</text>
<line x1="95.2" y1="438.4" x2="99.3" y2="438.4" stroke="#000" stroke-width="1"/>
<text x="93.8" y="441.4" font-family="Liberation Sans, Arial, sans-serif" font-size="8.4" fill="#000" text-anchor="end">FB−CLU−matrix</text>
<line x1="105.2" y1="445.3" x2="105.2" y2="449" stroke="#000" stroke-width="1"/>
<text transform="translate(108.5 455.5) rotate(-45)" font-family="Liberation Sans, Arial, sans-serif" font-size="8.3" fill="#000" text-anchor="end">CLU</text>
<line x1="114.9" y1="445.3" x2="114.9" y2="449" stroke="#000" stroke-width="1"/>
<text transform="translate(118.2 455.5) rotate(-45)" font-family="Liberation Sans, Arial, sans-serif" font-size="8.3" fill="#000" text-anchor="end">NEAT1</text>
<line x1="124.7" y1="445.3" x2="124.7" y2="449" stroke="#000" stroke-width="1"/>
<text transform="translate(128.0 455.5) rotate(-45)" font-family="Liberation Sans, Arial, sans-serif" font-size="8.3" fill="#000" text-anchor="end">BASP1</text>
<line x1="134.4" y1="445.3" x2="134.4" y2="449" stroke="#000" stroke-width="1"/>
<text transform="translate(137.7 455.5) rotate(-45)" font-family="Liberation Sans, Arial, sans-serif" font-size="8.3" fill="#000" text-anchor="end">GADD45G</text>
<line x1="144.1" y1="445.3" x2="144.1" y2="449" stroke="#000" stroke-width="1"/>
<text transform="translate(147.4 455.5) rotate(-45)" font-family="Liberation Sans, Arial, sans-serif" font-size="8.3" fill="#000" text-anchor="end">GAS1</text>
<line x1="153.8" y1="445.3" x2="153.8" y2="449" stroke="#000" stroke-width="1"/>
<text transform="translate(157.1 455.5) rotate(-45)" font-family="Liberation Sans, Arial, sans-serif" font-size="8.3" fill="#000" text-anchor="end">ACTA2</text>
<line x1="163.6" y1="445.3" x2="163.6" y2="449" stroke="#000" stroke-width="1"/>
<text transform="translate(166.9 455.5) rotate(-45)" font-family="Liberation Sans, Arial, sans-serif" font-size="8.3" fill="#000" text-anchor="end">MYH11</text>
<line x1="173.3" y1="445.3" x2="173.3" y2="449" stroke="#000" stroke-width="1"/>
<text transform="translate(176.6 455.5) rotate(-45)" font-family="Liberation Sans, Arial, sans-serif" font-size="8.3" fill="#000" text-anchor="end">TAGLN</text>
<line x1="183.0" y1="445.3" x2="183.0" y2="449" stroke="#000" stroke-width="1"/>
<text transform="translate(186.3 455.5) rotate(-45)" font-family="Liberation Sans, Arial, sans-serif" font-size="8.3" fill="#000" text-anchor="end">OGN</text>
<line x1="192.7" y1="445.3" x2="192.7" y2="449" stroke="#000" stroke-width="1"/>
<text transform="translate(196.0 455.5) rotate(-45)" font-family="Liberation Sans, Arial, sans-serif" font-size="8.3" fill="#000" text-anchor="end">PI16</text>
<line x1="202.5" y1="445.3" x2="202.5" y2="449" stroke="#000" stroke-width="1"/>
<text transform="translate(205.8 455.5) rotate(-45)" font-family="Liberation Sans, Arial, sans-serif" font-size="8.3" fill="#000" text-anchor="end">COL1A1</text>
<line x1="212.2" y1="445.3" x2="212.2" y2="449" stroke="#000" stroke-width="1"/>
<text transform="translate(215.5 455.5) rotate(-45)" font-family="Liberation Sans, Arial, sans-serif" font-size="8.3" fill="#000" text-anchor="end">COL1A2</text>
<line x1="221.9" y1="445.3" x2="221.9" y2="449" stroke="#000" stroke-width="1"/>
<text transform="translate(225.2 455.5) rotate(-45)" font-family="Liberation Sans, Arial, sans-serif" font-size="8.3" fill="#000" text-anchor="end">DCN</text>
<line x1="231.6" y1="445.3" x2="231.6" y2="449" stroke="#000" stroke-width="1"/>
<text transform="translate(234.9 455.5) rotate(-45)" font-family="Liberation Sans, Arial, sans-serif" font-size="8.3" fill="#000" text-anchor="end">IGF1</text>
<line x1="241.4" y1="445.3" x2="241.4" y2="449" stroke="#000" stroke-width="1"/>
<text transform="translate(244.7 455.5) rotate(-45)" font-family="Liberation Sans, Arial, sans-serif" font-size="8.3" fill="#000" text-anchor="end">MFAP5</text>
<line x1="251.1" y1="445.3" x2="251.1" y2="449" stroke="#000" stroke-width="1"/>
<text transform="translate(254.4 455.5) rotate(-45)" font-family="Liberation Sans, Arial, sans-serif" font-size="8.3" fill="#000" text-anchor="end">DPT</text>
<line x1="260.8" y1="445.3" x2="260.8" y2="449" stroke="#000" stroke-width="1"/>
<text transform="translate(264.1 455.5) rotate(-45)" font-family="Liberation Sans, Arial, sans-serif" font-size="8.3" fill="#000" text-anchor="end">APOD</text>
<line x1="270.5" y1="445.3" x2="270.5" y2="449" stroke="#000" stroke-width="1"/>
<text transform="translate(273.8 455.5) rotate(-45)" font-family="Liberation Sans, Arial, sans-serif" font-size="8.3" fill="#000" text-anchor="end">ABCA8</text>
<line x1="280.3" y1="445.3" x2="280.3" y2="449" stroke="#000" stroke-width="1"/>
<text transform="translate(283.6 455.5) rotate(-45)" font-family="Liberation Sans, Arial, sans-serif" font-size="8.3" fill="#000" text-anchor="end">NRG1</text>
<line x1="290.0" y1="445.3" x2="290.0" y2="449" stroke="#000" stroke-width="1"/>
<text transform="translate(293.3 455.5) rotate(-45)" font-family="Liberation Sans, Arial, sans-serif" font-size="8.3" fill="#000" text-anchor="end">THY1</text>
<line x1="299.7" y1="445.3" x2="299.7" y2="449" stroke="#000" stroke-width="1"/>
<text transform="translate(303.0 455.5) rotate(-45)" font-family="Liberation Sans, Arial, sans-serif" font-size="8.3" fill="#000" text-anchor="end">PDGFRB</text>
<line x1="309.4" y1="445.3" x2="309.4" y2="449" stroke="#000" stroke-width="1"/>
<text transform="translate(312.7 455.5) rotate(-45)" font-family="Liberation Sans, Arial, sans-serif" font-size="8.3" fill="#000" text-anchor="end">MKI67</text>
<line x1="319.2" y1="445.3" x2="319.2" y2="449" stroke="#000" stroke-width="1"/>
<text transform="translate(322.5 455.5) rotate(-45)" font-family="Liberation Sans, Arial, sans-serif" font-size="8.3" fill="#000" text-anchor="end">F3</text>
<line x1="328.9" y1="445.3" x2="328.9" y2="449" stroke="#000" stroke-width="1"/>
<text transform="translate(332.2 455.5) rotate(-45)" font-family="Liberation Sans, Arial, sans-serif" font-size="8.3" fill="#000" text-anchor="end">PLAT</text>
<line x1="338.6" y1="445.3" x2="338.6" y2="449" stroke="#000" stroke-width="1"/>
<text transform="translate(341.9 455.5) rotate(-45)" font-family="Liberation Sans, Arial, sans-serif" font-size="8.3" fill="#000" text-anchor="end">RGS5</text>
<line x1="348.4" y1="445.3" x2="348.4" y2="449" stroke="#000" stroke-width="1"/>
<text transform="translate(351.7 455.5) rotate(-45)" font-family="Liberation Sans, Arial, sans-serif" font-size="8.3" fill="#000" text-anchor="end">NOTCH3</text>
<line x1="358.1" y1="445.3" x2="358.1" y2="449" stroke="#000" stroke-width="1"/>
<text transform="translate(361.4 455.5) rotate(-45)" font-family="Liberation Sans, Arial, sans-serif" font-size="8.3" fill="#000" text-anchor="end">CCL8</text>
<line x1="367.8" y1="445.3" x2="367.8" y2="449" stroke="#000" stroke-width="1"/>
<text transform="translate(371.1 455.5) rotate(-45)" font-family="Liberation Sans, Arial, sans-serif" font-size="8.3" fill="#000" text-anchor="end">SRPX</text>
<text x="236.7" y="495.1" font-family="Liberation Sans, Arial, sans-serif" font-size="9.7" fill="#000" text-anchor="middle">Features</text>
<text transform="translate(7.9 391.7) rotate(-90)" font-family="Liberation Sans, Arial, sans-serif" font-size="10" fill="#000" text-anchor="middle">Identity</text>
<text x="383.6" y="337.2" font-family="Liberation Sans, Arial, sans-serif" font-size="9.95" fill="#000">Average Expression</text>
<defs><linearGradient id="cb" x1="0" y1="1" x2="0" y2="0">
<stop offset="0.00" stop-color="#d3d3d3"/>
<stop offset="0.10" stop-color="#cac0d9"/>
<stop offset="0.20" stop-color="#c1aede"/>
<stop offset="0.30" stop-color="#b69ce3"/>
<stop offset="0.40" stop-color="#aa89e7"/>
<stop offset="0.50" stop-color="#9d77ec"/>
<stop offset="0.60" stop-color="#8e65f0"/>
<stop offset="0.70" stop-color="#7c51f4"/>
<stop offset="0.80" stop-color="#673df8"/>
<stop offset="0.90" stop-color="#4926fb"/>
<stop offset="1.00" stop-color="#0000ff"/>
</linearGradient></defs>
<rect x="383.6" y="342.9" width="11.2" height="54.9" fill="url(#cb)"/>
<line x1="383.6" y1="349.9" x2="385.8" y2="349.9" stroke="#fff" stroke-width="0.6"/>
<line x1="392.6" y1="349.9" x2="394.8" y2="349.9" stroke="#fff" stroke-width="0.6"/>
<text x="398.6" y="352.8" font-family="Liberation Sans, Arial, sans-serif" font-size="8" fill="#000">2</text>
<line x1="383.6" y1="362.8" x2="385.8" y2="362.8" stroke="#fff" stroke-width="0.6"/>
<line x1="392.6" y1="362.8" x2="394.8" y2="362.8" stroke="#fff" stroke-width="0.6"/>
<text x="398.6" y="365.7" font-family="Liberation Sans, Arial, sans-serif" font-size="8" fill="#000">1</text>
<line x1="383.6" y1="375.5" x2="385.8" y2="375.5" stroke="#fff" stroke-width="0.6"/>
<line x1="392.6" y1="375.5" x2="394.8" y2="375.5" stroke="#fff" stroke-width="0.6"/>
<text x="398.6" y="378.4" font-family="Liberation Sans, Arial, sans-serif" font-size="8" fill="#000">0</text>
<line x1="383.6" y1="388.3" x2="385.8" y2="388.3" stroke="#fff" stroke-width="0.6"/>
<line x1="392.6" y1="388.3" x2="394.8" y2="388.3" stroke="#fff" stroke-width="0.6"/>
<text x="398.6" y="391.2" font-family="Liberation Sans, Arial, sans-serif" font-size="8" fill="#000">−1</text>
<text x="384" y="416.5" font-family="Liberation Sans, Arial, sans-serif" font-size="9.85" fill="#000">Percent Expressed</text>
<circle cx="389" cy="428.2" r="1.60" fill="#000"/>
<text x="399.8" y="431.1" font-family="Liberation Sans, Arial, sans-serif" font-size="8" fill="#000">25</text>
<circle cx="389" cy="439.1" r="2.90" fill="#000"/>
<text x="399.8" y="442.0" font-family="Liberation Sans, Arial, sans-serif" font-size="8" fill="#000">50</text>
<circle cx="389" cy="450.1" r="4.10" fill="#000"/>
<text x="399.8" y="453.0" font-family="Liberation Sans, Arial, sans-serif" font-size="8" fill="#000">75</text>
<text x="405.5" y="18.4" font-family="DejaVu Sans, sans-serif" font-weight="bold" font-size="24.0" transform="matrix(1.1467 0 0 1.0222 -59.693 0.300)">C</text>
<line x1="426.5" y1="57.5" x2="426.5" y2="72.1" stroke="#5f5f5f" stroke-width="0.7"/>
<line x1="426.5" y1="117.5" x2="426.5" y2="137.5" stroke="#5f5f5f" stroke-width="0.7"/>
<line x1="424.8" y1="57.5" x2="428.2" y2="57.5" stroke="#5f5f5f" stroke-width="0.7"/>
<line x1="424.8" y1="137.5" x2="428.2" y2="137.5" stroke="#5f5f5f" stroke-width="0.7"/>
<rect x="423.8" y="72.1" width="5.4" height="45.4" fill="#cbdbea" stroke="#5f5f5f" stroke-width="0.7"/>
<line x1="423.8" y1="92.3" x2="429.2" y2="92.3" stroke="#5f5f5f" stroke-width="0.7"/>
<line x1="432.1" y1="103.2" x2="432.1" y2="103.2" stroke="#5f5f5f" stroke-width="0.7"/>
<line x1="432.1" y1="109.5" x2="432.1" y2="109.5" stroke="#5f5f5f" stroke-width="0.7"/>
<line x1="430.4" y1="103.2" x2="433.8" y2="103.2" stroke="#5f5f5f" stroke-width="0.7"/>
<line x1="430.4" y1="109.5" x2="433.8" y2="109.5" stroke="#5f5f5f" stroke-width="0.7"/>
<rect x="429.8" y="103.2" width="4.5" height="6.3" fill="#78abc9" stroke="#5f5f5f" stroke-width="0.7"/>
<line x1="429.8" y1="109.2" x2="434.3" y2="109.2" stroke="#5f5f5f" stroke-width="0.7"/>
<line x1="437.6" y1="148.4" x2="437.6" y2="150.3" stroke="#5f5f5f" stroke-width="0.7"/>
<line x1="437.6" y1="157.5" x2="437.6" y2="157.5" stroke="#5f5f5f" stroke-width="0.7"/>
<line x1="435.9" y1="148.4" x2="439.3" y2="148.4" stroke="#5f5f5f" stroke-width="0.7"/>
<line x1="435.9" y1="157.5" x2="439.3" y2="157.5" stroke="#5f5f5f" stroke-width="0.7"/>
<rect x="434.9" y="150.3" width="5.4" height="7.2" fill="#336fa3" stroke="#5f5f5f" stroke-width="0.7"/>
<line x1="434.9" y1="154.5" x2="440.3" y2="154.5" stroke="#5f5f5f" stroke-width="0.7"/>
<line x1="447.1" y1="128.5" x2="447.1" y2="129.4" stroke="#5f5f5f" stroke-width="0.7"/>
<line x1="447.1" y1="145.6" x2="447.1" y2="151.2" stroke="#5f5f5f" stroke-width="0.7"/>
<line x1="445.4" y1="128.5" x2="448.8" y2="128.5" stroke="#5f5f5f" stroke-width="0.7"/>
<line x1="445.4" y1="151.2" x2="448.8" y2="151.2" stroke="#5f5f5f" stroke-width="0.7"/>
<rect x="444.5" y="129.4" width="5.2" height="16.2" fill="#cbdbea" stroke="#5f5f5f" stroke-width="0.7"/>
<line x1="444.5" y1="138.4" x2="449.7" y2="138.4" stroke="#5f5f5f" stroke-width="0.7"/>
<line x1="452.8" y1="97.0" x2="452.8" y2="97.0" stroke="#5f5f5f" stroke-width="0.7"/>
<line x1="452.8" y1="106.5" x2="452.8" y2="109.2" stroke="#5f5f5f" stroke-width="0.7"/>
<line x1="451.1" y1="97.0" x2="454.5" y2="97.0" stroke="#5f5f5f" stroke-width="0.7"/>
<line x1="451.1" y1="109.2" x2="454.5" y2="109.2" stroke="#5f5f5f" stroke-width="0.7"/>
<rect x="450.3" y="97.0" width="5.0" height="9.5" fill="#78abc9" stroke="#5f5f5f" stroke-width="0.7"/>
<line x1="450.3" y1="106.2" x2="455.3" y2="106.2" stroke="#5f5f5f" stroke-width="0.7"/>
<line x1="458.5" y1="122.2" x2="458.5" y2="133.2" stroke="#5f5f5f" stroke-width="0.7"/>
<line x1="458.5" y1="146.9" x2="458.5" y2="153.3" stroke="#5f5f5f" stroke-width="0.7"/>
<line x1="456.8" y1="122.2" x2="460.2" y2="122.2" stroke="#5f5f5f" stroke-width="0.7"/>
<line x1="456.8" y1="153.3" x2="460.2" y2="153.3" stroke="#5f5f5f" stroke-width="0.7"/>
<rect x="455.9" y="133.2" width="5.2" height="13.7" fill="#336fa3" stroke="#5f5f5f" stroke-width="0.7"/>
<line x1="455.9" y1="139.9" x2="461.1" y2="139.9" stroke="#5f5f5f" stroke-width="0.7"/>
<line x1="468.2" y1="97.3" x2="468.2" y2="117.0" stroke="#5f5f5f" stroke-width="0.7"/>
<line x1="468.2" y1="137.9" x2="468.2" y2="140.2" stroke="#5f5f5f" stroke-width="0.7"/>
<line x1="466.5" y1="97.3" x2="469.9" y2="97.3" stroke="#5f5f5f" stroke-width="0.7"/>
<line x1="466.5" y1="140.2" x2="469.9" y2="140.2" stroke="#5f5f5f" stroke-width="0.7"/>
<rect x="465.7" y="117.0" width="5.0" height="20.9" fill="#cbdbea" stroke="#5f5f5f" stroke-width="0.7"/>
<line x1="465.7" y1="129.4" x2="470.7" y2="129.4" stroke="#5f5f5f" stroke-width="0.7"/>
<line x1="473.7" y1="121.5" x2="473.7" y2="129.3" stroke="#5f5f5f" stroke-width="0.7"/>
<line x1="473.7" y1="151.8" x2="473.7" y2="151.8" stroke="#5f5f5f" stroke-width="0.7"/>
<line x1="472.0" y1="121.5" x2="475.4" y2="121.5" stroke="#5f5f5f" stroke-width="0.7"/>
<line x1="472.0" y1="151.8" x2="475.4" y2="151.8" stroke="#5f5f5f" stroke-width="0.7"/>
<rect x="471.3" y="129.3" width="4.8" height="22.5" fill="#78abc9" stroke="#5f5f5f" stroke-width="0.7"/>
<line x1="471.3" y1="141.4" x2="476.1" y2="141.4" stroke="#5f5f5f" stroke-width="0.7"/>
<line x1="479.4" y1="37.3" x2="479.4" y2="67.4" stroke="#5f5f5f" stroke-width="0.7"/>
<line x1="479.4" y1="138.4" x2="479.4" y2="154.4" stroke="#5f5f5f" stroke-width="0.7"/>
<line x1="477.7" y1="37.3" x2="481.1" y2="37.3" stroke="#5f5f5f" stroke-width="0.7"/>
<line x1="477.7" y1="154.4" x2="481.1" y2="154.4" stroke="#5f5f5f" stroke-width="0.7"/>
<rect x="476.7" y="67.4" width="5.4" height="71.0" fill="#336fa3" stroke="#5f5f5f" stroke-width="0.7"/>
<line x1="476.7" y1="109.7" x2="482.1" y2="109.7" stroke="#5f5f5f" stroke-width="0.7"/>
<line x1="489.0" y1="126.4" x2="489.0" y2="132.7" stroke="#5f5f5f" stroke-width="0.7"/>
<line x1="489.0" y1="148.4" x2="489.0" y2="155.1" stroke="#5f5f5f" stroke-width="0.7"/>
<line x1="487.3" y1="126.4" x2="490.7" y2="126.4" stroke="#5f5f5f" stroke-width="0.7"/>
<line x1="487.3" y1="155.1" x2="490.7" y2="155.1" stroke="#5f5f5f" stroke-width="0.7"/>
<rect x="486.5" y="132.7" width="5.0" height="15.7" fill="#cbdbea" stroke="#5f5f5f" stroke-width="0.7"/>
<line x1="486.5" y1="136.1" x2="491.5" y2="136.1" stroke="#5f5f5f" stroke-width="0.7"/>
<line x1="494.5" y1="108.8" x2="494.5" y2="116.6" stroke="#5f5f5f" stroke-width="0.7"/>
<line x1="494.5" y1="145.0" x2="494.5" y2="147.4" stroke="#5f5f5f" stroke-width="0.7"/>
<line x1="492.8" y1="108.8" x2="496.2" y2="108.8" stroke="#5f5f5f" stroke-width="0.7"/>
<line x1="492.8" y1="147.4" x2="496.2" y2="147.4" stroke="#5f5f5f" stroke-width="0.7"/>
<rect x="492.1" y="116.6" width="4.8" height="28.4" fill="#78abc9" stroke="#5f5f5f" stroke-width="0.7"/>
<line x1="492.1" y1="131.5" x2="496.9" y2="131.5" stroke="#5f5f5f" stroke-width="0.7"/>
<line x1="500.2" y1="60.2" x2="500.2" y2="88.6" stroke="#5f5f5f" stroke-width="0.7"/>
<line x1="500.2" y1="146.6" x2="500.2" y2="157.4" stroke="#5f5f5f" stroke-width="0.7"/>
<line x1="498.5" y1="60.2" x2="501.9" y2="60.2" stroke="#5f5f5f" stroke-width="0.7"/>
<line x1="498.5" y1="157.4" x2="501.9" y2="157.4" stroke="#5f5f5f" stroke-width="0.7"/>
<rect x="497.5" y="88.6" width="5.4" height="58.0" fill="#336fa3" stroke="#5f5f5f" stroke-width="0.7"/>
<line x1="497.5" y1="114.3" x2="502.9" y2="114.3" stroke="#5f5f5f" stroke-width="0.7"/>
<line x1="510.0" y1="126.3" x2="510.0" y2="133.2" stroke="#5f5f5f" stroke-width="0.7"/>
<line x1="510.0" y1="145.6" x2="510.0" y2="149.2" stroke="#5f5f5f" stroke-width="0.7"/>
<line x1="508.3" y1="126.3" x2="511.7" y2="126.3" stroke="#5f5f5f" stroke-width="0.7"/>
<line x1="508.3" y1="149.2" x2="511.7" y2="149.2" stroke="#5f5f5f" stroke-width="0.7"/>
<rect x="507.5" y="133.2" width="5.1" height="12.4" fill="#cbdbea" stroke="#5f5f5f" stroke-width="0.7"/>
<line x1="507.5" y1="142.7" x2="512.6" y2="142.7" stroke="#5f5f5f" stroke-width="0.7"/>
<line x1="515.7" y1="140.5" x2="515.7" y2="147.1" stroke="#5f5f5f" stroke-width="0.7"/>
<line x1="515.7" y1="152.4" x2="515.7" y2="155.1" stroke="#5f5f5f" stroke-width="0.7"/>
<line x1="514.0" y1="140.5" x2="517.4" y2="140.5" stroke="#5f5f5f" stroke-width="0.7"/>
<line x1="514.0" y1="155.1" x2="517.4" y2="155.1" stroke="#5f5f5f" stroke-width="0.7"/>
<rect x="513.2" y="147.1" width="5.0" height="5.3" fill="#78abc9" stroke="#5f5f5f" stroke-width="0.7"/>
<line x1="513.2" y1="150.0" x2="518.2" y2="150.0" stroke="#5f5f5f" stroke-width="0.7"/>
<line x1="521.4" y1="154.5" x2="521.4" y2="154.5" stroke="#5f5f5f" stroke-width="0.7"/>
<line x1="521.4" y1="157.5" x2="521.4" y2="157.5" stroke="#5f5f5f" stroke-width="0.7"/>
<line x1="519.6" y1="154.5" x2="523.1" y2="154.5" stroke="#5f5f5f" stroke-width="0.7"/>
<line x1="519.6" y1="157.5" x2="523.1" y2="157.5" stroke="#5f5f5f" stroke-width="0.7"/>
<rect x="518.8" y="154.5" width="5.1" height="3.0" fill="#336fa3" stroke="#5f5f5f" stroke-width="0.7"/>
<line x1="518.8" y1="156.2" x2="523.9" y2="156.2" stroke="#5f5f5f" stroke-width="0.7"/>
<line x1="531.0" y1="118.2" x2="531.0" y2="128.2" stroke="#5f5f5f" stroke-width="0.7"/>
<line x1="531.0" y1="153.3" x2="531.0" y2="155.4" stroke="#5f5f5f" stroke-width="0.7"/>
<line x1="529.2" y1="118.2" x2="532.7" y2="118.2" stroke="#5f5f5f" stroke-width="0.7"/>
<line x1="529.2" y1="155.4" x2="532.7" y2="155.4" stroke="#5f5f5f" stroke-width="0.7"/>
<rect x="528.4" y="128.2" width="5.1" height="25.1" fill="#cbdbea" stroke="#5f5f5f" stroke-width="0.7"/>
<line x1="528.4" y1="137.2" x2="533.5" y2="137.2" stroke="#5f5f5f" stroke-width="0.7"/>
<line x1="536.5" y1="131.5" x2="536.5" y2="138.4" stroke="#5f5f5f" stroke-width="0.7"/>
<line x1="536.5" y1="152.4" x2="536.5" y2="154.4" stroke="#5f5f5f" stroke-width="0.7"/>
<line x1="534.8" y1="131.5" x2="538.2" y2="131.5" stroke="#5f5f5f" stroke-width="0.7"/>
<line x1="534.8" y1="154.4" x2="538.2" y2="154.4" stroke="#5f5f5f" stroke-width="0.7"/>
<rect x="534.1" y="138.4" width="4.8" height="14.0" fill="#78abc9" stroke="#5f5f5f" stroke-width="0.7"/>
<line x1="534.1" y1="146.5" x2="538.9" y2="146.5" stroke="#5f5f5f" stroke-width="0.7"/>
<line x1="542.0" y1="88.9" x2="542.0" y2="106.1" stroke="#5f5f5f" stroke-width="0.7"/>
<line x1="542.0" y1="154.7" x2="542.0" y2="157.4" stroke="#5f5f5f" stroke-width="0.7"/>
<line x1="540.3" y1="88.9" x2="543.7" y2="88.9" stroke="#5f5f5f" stroke-width="0.7"/>
<line x1="540.3" y1="157.4" x2="543.7" y2="157.4" stroke="#5f5f5f" stroke-width="0.7"/>
<rect x="539.5" y="106.1" width="5.0" height="48.6" fill="#336fa3" stroke="#5f5f5f" stroke-width="0.7"/>
<line x1="539.5" y1="134.5" x2="544.5" y2="134.5" stroke="#5f5f5f" stroke-width="0.7"/>
<line x1="552.0" y1="131.2" x2="552.0" y2="137.9" stroke="#5f5f5f" stroke-width="0.7"/>
<line x1="552.0" y1="154.5" x2="552.0" y2="155.9" stroke="#5f5f5f" stroke-width="0.7"/>
<line x1="550.3" y1="131.2" x2="553.7" y2="131.2" stroke="#5f5f5f" stroke-width="0.7"/>
<line x1="550.3" y1="155.9" x2="553.7" y2="155.9" stroke="#5f5f5f" stroke-width="0.7"/>
<rect x="549.6" y="137.9" width="4.8" height="16.6" fill="#cbdbea" stroke="#5f5f5f" stroke-width="0.7"/>
<line x1="549.6" y1="144.4" x2="554.4" y2="144.4" stroke="#5f5f5f" stroke-width="0.7"/>
<line x1="557.5" y1="153.3" x2="557.5" y2="155.1" stroke="#5f5f5f" stroke-width="0.7"/>
<line x1="557.5" y1="157.5" x2="557.5" y2="157.5" stroke="#5f5f5f" stroke-width="0.7"/>
<line x1="555.8" y1="153.3" x2="559.2" y2="153.3" stroke="#5f5f5f" stroke-width="0.7"/>
<line x1="555.8" y1="157.5" x2="559.2" y2="157.5" stroke="#5f5f5f" stroke-width="0.7"/>
<rect x="555.0" y="155.1" width="5.1" height="2.4" fill="#78abc9" stroke="#5f5f5f" stroke-width="0.7"/>
<line x1="555.0" y1="156.5" x2="560.1" y2="156.5" stroke="#5f5f5f" stroke-width="0.7"/>
<line x1="563.2" y1="155.4" x2="563.2" y2="155.4" stroke="#5f5f5f" stroke-width="0.7"/>
<line x1="563.2" y1="157.5" x2="563.2" y2="157.5" stroke="#5f5f5f" stroke-width="0.7"/>
<line x1="561.5" y1="155.4" x2="565.0" y2="155.4" stroke="#5f5f5f" stroke-width="0.7"/>
<line x1="561.5" y1="157.5" x2="565.0" y2="157.5" stroke="#5f5f5f" stroke-width="0.7"/>
<rect x="560.7" y="155.4" width="5.1" height="2.1" fill="#336fa3" stroke="#5f5f5f" stroke-width="0.7"/>
<line x1="560.7" y1="156.8" x2="565.8" y2="156.8" stroke="#5f5f5f" stroke-width="0.7"/>
<line x1="572.7" y1="155.8" x2="572.7" y2="155.8" stroke="#5f5f5f" stroke-width="0.7"/>
<line x1="572.7" y1="156.8" x2="572.7" y2="156.8" stroke="#5f5f5f" stroke-width="0.7"/>
<line x1="571.0" y1="155.8" x2="574.4" y2="155.8" stroke="#5f5f5f" stroke-width="0.7"/>
<line x1="571.0" y1="156.8" x2="574.4" y2="156.8" stroke="#5f5f5f" stroke-width="0.7"/>
<rect x="570.3" y="155.8" width="4.8" height="1.0" fill="#cbdbea" stroke="#5f5f5f" stroke-width="0.7"/>
<line x1="570.3" y1="156.3" x2="575.1" y2="156.3" stroke="#5f5f5f" stroke-width="0.7"/>
<line x1="578.3" y1="153.6" x2="578.3" y2="153.6" stroke="#5f5f5f" stroke-width="0.7"/>
<line x1="578.3" y1="155.9" x2="578.3" y2="155.9" stroke="#5f5f5f" stroke-width="0.7"/>
<line x1="576.6" y1="153.6" x2="580.0" y2="153.6" stroke="#5f5f5f" stroke-width="0.7"/>
<line x1="576.6" y1="155.9" x2="580.0" y2="155.9" stroke="#5f5f5f" stroke-width="0.7"/>
<rect x="575.7" y="153.6" width="5.2" height="2.3" fill="#78abc9" stroke="#5f5f5f" stroke-width="0.7"/>
<line x1="575.7" y1="154.8" x2="580.9" y2="154.8" stroke="#5f5f5f" stroke-width="0.7"/>
<line x1="584.1" y1="76.9" x2="584.1" y2="100.3" stroke="#5f5f5f" stroke-width="0.7"/>
<line x1="584.1" y1="151.8" x2="584.1" y2="156.3" stroke="#5f5f5f" stroke-width="0.7"/>
<line x1="582.4" y1="76.9" x2="585.8" y2="76.9" stroke="#5f5f5f" stroke-width="0.7"/>
<line x1="582.4" y1="156.3" x2="585.8" y2="156.3" stroke="#5f5f5f" stroke-width="0.7"/>
<rect x="581.5" y="100.3" width="5.2" height="51.5" fill="#336fa3" stroke="#5f5f5f" stroke-width="0.7"/>
<line x1="581.5" y1="150.6" x2="586.7" y2="150.6" stroke="#5f5f5f" stroke-width="0.7"/>
<rect x="431.4" y="83.3" width="1" height="1" fill="#555"/>
<rect x="436.6" y="119.2" width="1" height="1" fill="#555"/>
<rect x="436.6" y="136.2" width="1" height="1" fill="#555"/>
<rect x="452.3" y="72.4" width="1" height="1" fill="#555"/>
<rect x="446.7" y="103.8" width="1" height="1" fill="#555"/>
<rect x="457.9" y="98.6" width="1" height="1" fill="#555"/>
<rect x="520.7" y="145.2" width="1" height="1" fill="#555"/>
<rect x="562.6" y="146.9" width="1" height="1" fill="#555"/>
<rect x="572.3" y="150.9" width="1" height="1" fill="#555"/>
<rect x="458.5" y="123.5" width="1" height="1" fill="#555"/>
<rect x="421.6" y="31.2" width="166.9" height="131.7" fill="none" stroke="#333" stroke-width="0.8"/>
<line x1="418.6" y1="157.5" x2="421.6" y2="157.5" stroke="#333" stroke-width="0.7"/>
<text x="416" y="160.4" font-family="Liberation Sans, Arial, sans-serif" font-size="6.4" fill="#262626" stroke="#262626" stroke-width="0.18" text-anchor="end">0.0</text>
<line x1="418.6" y1="139.1" x2="421.6" y2="139.1" stroke="#333" stroke-width="0.7"/>
<text x="416" y="142.0" font-family="Liberation Sans, Arial, sans-serif" font-size="6.4" fill="#262626" stroke="#262626" stroke-width="0.18" text-anchor="end">0.1</text>
<line x1="418.6" y1="120.6" x2="421.6" y2="120.6" stroke="#333" stroke-width="0.7"/>
<text x="416" y="123.5" font-family="Liberation Sans, Arial, sans-serif" font-size="6.4" fill="#262626" stroke="#262626" stroke-width="0.18" text-anchor="end">0.2</text>
<line x1="418.6" y1="102.2" x2="421.6" y2="102.2" stroke="#333" stroke-width="0.7"/>
<text x="416" y="105.1" font-family="Liberation Sans, Arial, sans-serif" font-size="6.4" fill="#262626" stroke="#262626" stroke-width="0.18" text-anchor="end">0.3</text>
<line x1="418.6" y1="83.8" x2="421.6" y2="83.8" stroke="#333" stroke-width="0.7"/>
<text x="416" y="86.7" font-family="Liberation Sans, Arial, sans-serif" font-size="6.4" fill="#262626" stroke="#262626" stroke-width="0.18" text-anchor="end">0.4</text>
<line x1="418.6" y1="65.3" x2="421.6" y2="65.3" stroke="#333" stroke-width="0.7"/>
<text x="416" y="68.2" font-family="Liberation Sans, Arial, sans-serif" font-size="6.4" fill="#262626" stroke="#262626" stroke-width="0.18" text-anchor="end">0.5</text>
<line x1="418.6" y1="46.9" x2="421.6" y2="46.9" stroke="#333" stroke-width="0.7"/>
<text x="416" y="49.8" font-family="Liberation Sans, Arial, sans-serif" font-size="6.4" fill="#262626" stroke="#262626" stroke-width="0.18" text-anchor="end">0.6</text>
<line x1="432.0" y1="162.9" x2="432.0" y2="165.9" stroke="#333" stroke-width="0.7"/>
<text transform="translate(434.3 168.6) rotate(-90)" font-family="Liberation Sans, Arial, sans-serif" font-size="6.85" fill="#262626" stroke="#262626" stroke-width="0.18" text-anchor="end">CAF-C1-OGN,PI16</text>
<line x1="452.9" y1="162.9" x2="452.9" y2="165.9" stroke="#333" stroke-width="0.7"/>
<text transform="translate(455.2 168.6) rotate(-90)" font-family="Liberation Sans, Arial, sans-serif" font-size="6.85" fill="#262626" stroke="#262626" stroke-width="0.18" text-anchor="end">CAF-C2-IGF1</text>
<line x1="473.8" y1="162.9" x2="473.8" y2="165.9" stroke="#333" stroke-width="0.7"/>
<text transform="translate(476.1 168.6) rotate(-90)" font-family="Liberation Sans, Arial, sans-serif" font-size="6.85" fill="#262626" stroke="#262626" stroke-width="0.18" text-anchor="end">FB-CLU-matrix</text>
<line x1="494.6" y1="162.9" x2="494.6" y2="165.9" stroke="#333" stroke-width="0.7"/>
<text transform="translate(496.9 168.6) rotate(-90)" font-family="Liberation Sans, Arial, sans-serif" font-size="6.85" fill="#262626" stroke="#262626" stroke-width="0.18" text-anchor="end">MyoFB-C2-activated</text>
<line x1="515.5" y1="162.9" x2="515.5" y2="165.9" stroke="#333" stroke-width="0.7"/>
<text transform="translate(517.8 168.6) rotate(-90)" font-family="Liberation Sans, Arial, sans-serif" font-size="6.85" fill="#262626" stroke="#262626" stroke-width="0.18" text-anchor="end">CAF-C3-OGN</text>
<line x1="536.3" y1="162.9" x2="536.3" y2="165.9" stroke="#333" stroke-width="0.7"/>
<text transform="translate(538.6 168.6) rotate(-90)" font-family="Liberation Sans, Arial, sans-serif" font-size="6.85" fill="#262626" stroke="#262626" stroke-width="0.18" text-anchor="end">MyoFB-C1-matrix</text>
<line x1="557.2" y1="162.9" x2="557.2" y2="165.9" stroke="#333" stroke-width="0.7"/>
<text transform="translate(559.5 168.6) rotate(-90)" font-family="Liberation Sans, Arial, sans-serif" font-size="6.85" fill="#262626" stroke="#262626" stroke-width="0.18" text-anchor="end">CAF-C4-ACTA2</text>
<line x1="578.0" y1="162.9" x2="578.0" y2="165.9" stroke="#333" stroke-width="0.7"/>
<text transform="translate(580.3 168.6) rotate(-90)" font-family="Liberation Sans, Arial, sans-serif" font-size="6.85" fill="#262626" stroke="#262626" stroke-width="0.18" text-anchor="end">CAF-C5-MKi67</text>
<text x="503.5" y="241.2" font-family="Liberation Sans, Arial, sans-serif" font-size="7" fill="#262626" text-anchor="middle">Cell type</text>
<text transform="translate(402.6 96.9) rotate(-90)" font-family="Liberation Sans, Arial, sans-serif" font-size="7" fill="#262626" text-anchor="middle">Proportion</text>
<rect x="592" y="34.5" width="92.3" height="40.9" rx="1.5" fill="#fff" stroke="#ddd" stroke-width="0.7"/>
<text x="637.8" y="42.3" font-family="Liberation Sans, Arial, sans-serif" font-size="6.6" font-weight="bold" fill="#262626" text-anchor="middle">Condition</text>
<rect x="594" y="47.2" width="14" height="5.1" fill="#cbdbea" stroke="#5f5f5f" stroke-width="0.7"/>
<text x="613" y="52.0" font-family="Liberation Sans, Arial, sans-serif" font-size="7.05" fill="#262626">normal</text>
<rect x="594" y="56.8" width="14" height="5.1" fill="#78abc9" stroke="#5f5f5f" stroke-width="0.7"/>
<text x="613" y="61.6" font-family="Liberation Sans, Arial, sans-serif" font-size="7.05" fill="#262626">precancerous lesions</text>
<rect x="594" y="66.5" width="14" height="5.1" fill="#336fa3" stroke="#5f5f5f" stroke-width="0.7"/>
<text x="613" y="71.3" font-family="Liberation Sans, Arial, sans-serif" font-size="7.05" fill="#262626">tumor</text>
<text x="468.5" y="304.6" font-family="DejaVu Sans, sans-serif" font-weight="bold" font-size="24.0" transform="matrix(0.9824 0 0 1.0056 8.194 -2.794)">D</text>
<defs><clipPath id="cP"><circle cx="550.2" cy="395.4" r="52.5"/></clipPath><clipPath id="cT"><circle cx="618.8" cy="395.4" r="52.5"/></clipPath></defs>
<g opacity="0.5"><circle cx="550.2" cy="395.4" r="52.5" fill="#0000ff"/></g>
<g opacity="0.5"><circle cx="618.8" cy="395.4" r="52.5" fill="#ffff00"/></g>
<g opacity="0.5"><circle cx="584.3" cy="454.8" r="52.5" fill="#00ff00"/></g>
<circle cx="550.2" cy="395.4" r="52.5" fill="none" stroke="#000" stroke-width="1"/>
<circle cx="618.8" cy="395.4" r="52.5" fill="none" stroke="#000" stroke-width="1"/>
<circle cx="584.3" cy="454.8" r="52.5" fill="none" stroke="#000" stroke-width="1"/>
<text x="538.9" y="330.2" font-family="Liberation Serif, Noto Serif CJK SC, serif" font-size="10.5" fill="#0000ff" text-anchor="middle">PvsN</text>
<text x="630.4" y="330.2" font-family="Liberation Serif, Noto Serif CJK SC, serif" font-size="10.5" fill="#808000" text-anchor="middle">TvsP</text>
<text x="584.5" y="527.3" font-family="Liberation Serif, Noto Serif CJK SC, serif" font-size="10.5" fill="#228B22" text-anchor="middle">TvsN</text>
<text x="538.4" y="382.7" font-family="Liberation Serif, Noto Serif CJK SC, serif" font-size="10" fill="#000" text-anchor="middle" letter-spacing="0.2">462</text>
<text x="538.4" y="390.5" font-family="Liberation Serif, Noto Serif CJK SC, serif" font-size="7" fill="#000" text-anchor="middle" letter-spacing="0.55">(47.2%)</text>
<text x="584.5" y="382.7" font-family="Liberation Serif, Noto Serif CJK SC, serif" font-size="10" fill="#000" text-anchor="middle" letter-spacing="0.2">0</text>
<text x="584.5" y="390.5" font-family="Liberation Serif, Noto Serif CJK SC, serif" font-size="7" fill="#000" text-anchor="middle" letter-spacing="0.55">(0%)</text>
<text x="630.1" y="382.7" font-family="Liberation Serif, Noto Serif CJK SC, serif" font-size="10" fill="#000" text-anchor="middle" letter-spacing="0.2">15</text>
<text x="630.1" y="390.5" font-family="Liberation Serif, Noto Serif CJK SC, serif" font-size="7" fill="#000" text-anchor="middle" letter-spacing="0.55">(1.5%)</text>
<text x="584.5" y="413.7" font-family="Liberation Serif, Noto Serif CJK SC, serif" font-size="10" fill="#000" text-anchor="middle" letter-spacing="0.2">0</text>
<text x="584.5" y="421.2" font-family="Liberation Serif, Noto Serif CJK SC, serif" font-size="7" fill="#000" text-anchor="middle" letter-spacing="0.55">(0%)</text>
<text x="555.7" y="429.6" font-family="Liberation Serif, Noto Serif CJK SC, serif" font-size="10" fill="#000" text-anchor="middle" letter-spacing="0.2">288</text>
<text x="555.7" y="436.8" font-family="Liberation Serif, Noto Serif CJK SC, serif" font-size="7" fill="#000" text-anchor="middle" letter-spacing="0.55">(29.4%)</text>
<text x="613.0" y="429.6" font-family="Liberation Serif, Noto Serif CJK SC, serif" font-size="10" fill="#000" text-anchor="middle" letter-spacing="0.2">14</text>
<text x="613.0" y="436.8" font-family="Liberation Serif, Noto Serif CJK SC, serif" font-size="7" fill="#000" text-anchor="middle" letter-spacing="0.55">(1.4%)</text>
<text x="584.1" y="465.3" font-family="Liberation Serif, Noto Serif CJK SC, serif" font-size="10" fill="#000" text-anchor="middle" letter-spacing="0.2">200</text>
<text x="584.1" y="472.1" font-family="Liberation Serif, Noto Serif CJK SC, serif" font-size="7" fill="#000" text-anchor="middle" letter-spacing="0.55">(20.4%)</text>
<text x="14.8" y="545.0" font-family="DejaVu Sans, sans-serif" font-weight="bold" font-size="24.5" transform="matrix(1.1462 0 0 0.9778 -3.385 11.611)">E</text>
<line x1="156.9" y1="539.7" x2="156.9" y2="814" stroke="#dadada" stroke-width="0.8"/>
<line x1="194.2" y1="539.7" x2="194.2" y2="814" stroke="#dadada" stroke-width="0.8"/>
<line x1="231.5" y1="539.7" x2="231.5" y2="814" stroke="#dadada" stroke-width="0.8"/>
<line x1="268.8" y1="539.7" x2="268.8" y2="814" stroke="#dadada" stroke-width="0.8"/>
<line x1="306.1" y1="539.7" x2="306.1" y2="814" stroke="#dadada" stroke-width="0.8"/>
<line x1="343.4" y1="539.7" x2="343.4" y2="814" stroke="#dadada" stroke-width="0.8"/>
<rect x="120.0" y="543.05" width="211.4" height="3.9" fill="#F08080"/>
<text x="115.6" y="546.8" font-family="Liberation Sans, Arial, sans-serif" font-size="5.45" fill="#333" text-anchor="end">Cell cycle</text>
<rect x="120.0" y="552.16" width="124.3" height="3.9" fill="#F08080"/>
<text x="115.6" y="555.9" font-family="Liberation Sans, Arial, sans-serif" font-size="5.45" fill="#333" text-anchor="end">Oocyte meiosis</text>
<rect x="120.0" y="561.27" width="74.6" height="3.9" fill="#F08080"/>
<text x="115.6" y="565.0" font-family="Liberation Sans, Arial, sans-serif" font-size="5.45" fill="#333" text-anchor="end">Progesterone-mediated oocyte maturation</text>
<rect x="120.0" y="570.38" width="111.9" height="3.9" fill="#FF7F00"/>
<text x="115.6" y="574.1" font-family="Liberation Sans, Arial, sans-serif" font-size="5.45" fill="#333" text-anchor="end">Parkinson disease</text>
<rect x="120.0" y="579.49" width="99.5" height="3.9" fill="#FF7F00"/>
<text x="115.6" y="583.2" font-family="Liberation Sans, Arial, sans-serif" font-size="5.45" fill="#333" text-anchor="end">Oxidative phosphorylation</text>
<rect x="120.0" y="588.60" width="99.5" height="3.9" fill="#FF7F00"/>
<text x="115.6" y="592.3" font-family="Liberation Sans, Arial, sans-serif" font-size="5.45" fill="#333" text-anchor="end">Huntington disease</text>
<rect x="120.0" y="597.71" width="74.6" height="3.9" fill="#FF7F00"/>
<text x="115.6" y="601.5" font-family="Liberation Sans, Arial, sans-serif" font-size="5.45" fill="#333" text-anchor="end">Alzheimer disease</text>
<rect x="120.0" y="606.82" width="62.2" height="3.9" fill="#FF7F00"/>
<text x="115.6" y="610.6" font-family="Liberation Sans, Arial, sans-serif" font-size="5.45" fill="#333" text-anchor="end">Thermogenesis</text>
<rect x="120.0" y="615.93" width="136.8" height="3.9" fill="#00A09A"/>
<text x="115.6" y="619.7" font-family="Liberation Sans, Arial, sans-serif" font-size="5.45" fill="#333" text-anchor="end">Small cell lung cancer</text>
<rect x="120.0" y="625.04" width="111.9" height="3.9" fill="#00A09A"/>
<text x="115.6" y="628.8" font-family="Liberation Sans, Arial, sans-serif" font-size="5.45" fill="#333" text-anchor="end">ECM-receptor interaction</text>
<rect x="120.0" y="634.15" width="111.9" height="3.9" fill="#00A09A"/>
<text x="115.6" y="637.9" font-family="Liberation Sans, Arial, sans-serif" font-size="5.45" fill="#333" text-anchor="end">Focal adhesion</text>
<rect x="120.0" y="643.26" width="99.5" height="3.9" fill="#00A09A"/>
<text x="115.6" y="647.0" font-family="Liberation Sans, Arial, sans-serif" font-size="5.45" fill="#333" text-anchor="end">Amoebiasis</text>
<rect x="120.0" y="652.37" width="74.6" height="3.9" fill="#00A09A"/>
<text x="115.6" y="656.1" font-family="Liberation Sans, Arial, sans-serif" font-size="5.45" fill="#333" text-anchor="end">Human papillomavirus infection</text>
<rect x="120.0" y="661.48" width="198.9" height="3.9" fill="#FFE08C"/>
<text x="115.6" y="665.2" font-family="Liberation Sans, Arial, sans-serif" font-size="5.45" fill="#333" text-anchor="end">Pathogenic Escherichia coli infection</text>
<rect x="120.0" y="670.59" width="74.6" height="3.9" fill="#FFE08C"/>
<text x="115.6" y="674.3" font-family="Liberation Sans, Arial, sans-serif" font-size="5.45" fill="#333" text-anchor="end">Tight junction</text>
<rect x="120.0" y="679.70" width="124.3" height="3.9" fill="#98E2D4"/>
<text x="115.6" y="683.4" font-family="Liberation Sans, Arial, sans-serif" font-size="5.45" fill="#333" text-anchor="end">Viral myocarditis</text>
<rect x="120.0" y="688.81" width="111.9" height="3.9" fill="#98E2D4"/>
<text x="115.6" y="692.6" font-family="Liberation Sans, Arial, sans-serif" font-size="5.45" fill="#333" text-anchor="end">Antigen processing and presentation</text>
<rect x="120.0" y="697.92" width="87.0" height="3.9" fill="#98E2D4"/>
<text x="115.6" y="701.7" font-family="Liberation Sans, Arial, sans-serif" font-size="5.45" fill="#333" text-anchor="end">Epstein-Barr virus infection</text>
<rect x="120.0" y="707.03" width="74.6" height="3.9" fill="#98E2D4"/>
<text x="115.6" y="710.8" font-family="Liberation Sans, Arial, sans-serif" font-size="5.45" fill="#333" text-anchor="end">Phagosome</text>
<rect x="120.0" y="716.14" width="74.6" height="3.9" fill="#98E2D4"/>
<text x="115.6" y="719.9" font-family="Liberation Sans, Arial, sans-serif" font-size="5.45" fill="#333" text-anchor="end">Human immunodeficiency virus 1 infection</text>
<rect x="120.0" y="725.25" width="198.9" height="3.9" fill="#8EC4A4"/>
<text x="115.6" y="729.0" font-family="Liberation Sans, Arial, sans-serif" font-size="5.45" fill="#333" text-anchor="end">Pyrimidine metabolism</text>
<rect x="120.0" y="734.36" width="111.9" height="3.9" fill="#8EC4A4"/>
<text x="115.6" y="738.1" font-family="Liberation Sans, Arial, sans-serif" font-size="5.45" fill="#333" text-anchor="end">Drug metabolism - other enzymes</text>
<rect x="120.0" y="743.47" width="62.2" height="3.9" fill="#8EC4A4"/>
<text x="115.6" y="747.2" font-family="Liberation Sans, Arial, sans-serif" font-size="5.45" fill="#333" text-anchor="end">Purine metabolism</text>
<rect x="120.0" y="752.58" width="74.6" height="3.9" fill="#FFA0A0"/>
<text x="115.6" y="756.3" font-family="Liberation Sans, Arial, sans-serif" font-size="5.45" fill="#333" text-anchor="end">Platelet activation</text>
<rect x="120.0" y="761.69" width="62.2" height="3.9" fill="#FFA0A0"/>
<text x="115.6" y="765.4" font-family="Liberation Sans, Arial, sans-serif" font-size="5.45" fill="#333" text-anchor="end">Vascular smooth muscle contraction</text>
<rect x="120.0" y="770.80" width="223.8" height="3.9" fill="#E6E6E6"/>
<text x="115.6" y="774.5" font-family="Liberation Sans, Arial, sans-serif" font-size="5.45" fill="#333" text-anchor="end">Proteasome</text>
<rect x="120.0" y="779.91" width="211.4" height="3.9" fill="#E6E6E6"/>
<text x="115.6" y="783.7" font-family="Liberation Sans, Arial, sans-serif" font-size="5.45" fill="#333" text-anchor="end">DNA replication</text>
<rect x="120.0" y="789.02" width="136.8" height="3.9" fill="#E6E6E6"/>
<text x="115.6" y="792.8" font-family="Liberation Sans, Arial, sans-serif" font-size="5.45" fill="#333" text-anchor="end">p53 signaling pathway</text>
<rect x="120.0" y="798.13" width="124.3" height="3.9" fill="#E6E6E6"/>
<text x="115.6" y="801.9" font-family="Liberation Sans, Arial, sans-serif" font-size="5.45" fill="#333" text-anchor="end">Human T-cell leukemia virus 1 infection</text>
<rect x="120.0" y="807.24" width="111.9" height="3.9" fill="#E6E6E6"/>
<text x="115.6" y="811.0" font-family="Liberation Sans, Arial, sans-serif" font-size="5.45" fill="#333" text-anchor="end">Glutathione metabolism</text>
<line x1="117.8" y1="540.4" x2="119.6" y2="540.4" stroke="#666" stroke-width="0.6"/>
<line x1="117.8" y1="549.6" x2="119.6" y2="549.6" stroke="#666" stroke-width="0.6"/>
<line x1="117.8" y1="558.7" x2="119.6" y2="558.7" stroke="#666" stroke-width="0.6"/>
<line x1="117.8" y1="567.8" x2="119.6" y2="567.8" stroke="#666" stroke-width="0.6"/>
<line x1="117.8" y1="576.9" x2="119.6" y2="576.9" stroke="#666" stroke-width="0.6"/>
<line x1="117.8" y1="586.0" x2="119.6" y2="586.0" stroke="#666" stroke-width="0.6"/>
<line x1="117.8" y1="595.1" x2="119.6" y2="595.1" stroke="#666" stroke-width="0.6"/>
<line x1="117.8" y1="604.2" x2="119.6" y2="604.2" stroke="#666" stroke-width="0.6"/>
<line x1="117.8" y1="613.3" x2="119.6" y2="613.3" stroke="#666" stroke-width="0.6"/>
<line x1="117.8" y1="622.4" x2="119.6" y2="622.4" stroke="#666" stroke-width="0.6"/>
<line x1="117.8" y1="631.5" x2="119.6" y2="631.5" stroke="#666" stroke-width="0.6"/>
<line x1="117.8" y1="640.7" x2="119.6" y2="640.7" stroke="#666" stroke-width="0.6"/>
<line x1="117.8" y1="649.8" x2="119.6" y2="649.8" stroke="#666" stroke-width="0.6"/>
<line x1="117.8" y1="658.9" x2="119.6" y2="658.9" stroke="#666" stroke-width="0.6"/>
<line x1="117.8" y1="668.0" x2="119.6" y2="668.0" stroke="#666" stroke-width="0.6"/>
<line x1="117.8" y1="677.1" x2="119.6" y2="677.1" stroke="#666" stroke-width="0.6"/>
<line x1="117.8" y1="686.2" x2="119.6" y2="686.2" stroke="#666" stroke-width="0.6"/>
<line x1="117.8" y1="695.3" x2="119.6" y2="695.3" stroke="#666" stroke-width="0.6"/>
<line x1="117.8" y1="704.4" x2="119.6" y2="704.4" stroke="#666" stroke-width="0.6"/>
<line x1="117.8" y1="713.5" x2="119.6" y2="713.5" stroke="#666" stroke-width="0.6"/>
<line x1="117.8" y1="722.6" x2="119.6" y2="722.6" stroke="#666" stroke-width="0.6"/>
<line x1="117.8" y1="731.8" x2="119.6" y2="731.8" stroke="#666" stroke-width="0.6"/>
<line x1="117.8" y1="740.9" x2="119.6" y2="740.9" stroke="#666" stroke-width="0.6"/>
<line x1="117.8" y1="750.0" x2="119.6" y2="750.0" stroke="#666" stroke-width="0.6"/>
<line x1="117.8" y1="759.1" x2="119.6" y2="759.1" stroke="#666" stroke-width="0.6"/>
<line x1="117.8" y1="768.2" x2="119.6" y2="768.2" stroke="#666" stroke-width="0.6"/>
<line x1="117.8" y1="777.3" x2="119.6" y2="777.3" stroke="#666" stroke-width="0.6"/>
<line x1="117.8" y1="786.4" x2="119.6" y2="786.4" stroke="#666" stroke-width="0.6"/>
<line x1="117.8" y1="795.5" x2="119.6" y2="795.5" stroke="#666" stroke-width="0.6"/>
<line x1="117.8" y1="804.6" x2="119.6" y2="804.6" stroke="#666" stroke-width="0.6"/>
<line x1="117.8" y1="813.7" x2="119.6" y2="813.7" stroke="#666" stroke-width="0.6"/>
<line x1="119.6" y1="539.7" x2="119.6" y2="814" stroke="#888" stroke-width="0.7"/>
<line x1="119.6" y1="814" x2="343.5" y2="814" stroke="#888" stroke-width="0.7"/>
<line x1="119.6" y1="814" x2="119.6" y2="816.5" stroke="#888" stroke-width="0.6"/>
<text x="119.6" y="822.3" font-family="Liberation Sans, Arial, sans-serif" font-size="5.6" fill="#333" text-anchor="middle">0</text>
<line x1="156.9" y1="814" x2="156.9" y2="816.5" stroke="#888" stroke-width="0.6"/>
<text x="156.9" y="822.3" font-family="Liberation Sans, Arial, sans-serif" font-size="5.6" fill="#333" text-anchor="middle">0.03</text>
<line x1="194.2" y1="814" x2="194.2" y2="816.5" stroke="#888" stroke-width="0.6"/>
<text x="194.2" y="822.3" font-family="Liberation Sans, Arial, sans-serif" font-size="5.6" fill="#333" text-anchor="middle">0.06</text>
<line x1="231.5" y1="814" x2="231.5" y2="816.5" stroke="#888" stroke-width="0.6"/>
<text x="231.5" y="822.3" font-family="Liberation Sans, Arial, sans-serif" font-size="5.6" fill="#333" text-anchor="middle">0.09</text>
<line x1="268.8" y1="814" x2="268.8" y2="816.5" stroke="#888" stroke-width="0.6"/>
<text x="268.8" y="822.3" font-family="Liberation Sans, Arial, sans-serif" font-size="5.6" fill="#333" text-anchor="middle">0.12</text>
<line x1="306.1" y1="814" x2="306.1" y2="816.5" stroke="#888" stroke-width="0.6"/>
<text x="306.1" y="822.3" font-family="Liberation Sans, Arial, sans-serif" font-size="5.6" fill="#333" text-anchor="middle">0.15</text>
<line x1="343.4" y1="814" x2="343.4" y2="816.5" stroke="#888" stroke-width="0.6"/>
<text x="343.4" y="822.3" font-family="Liberation Sans, Arial, sans-serif" font-size="5.6" fill="#333" text-anchor="middle">0.18</text>
<text x="231.8" y="835.5" font-family="Liberation Sans, Arial, sans-serif" font-size="5.8" fill="#333" text-anchor="middle">Enrich ratio</text>
<text x="366.0" y="545.0" font-family="DejaVu Sans, sans-serif" font-weight="bold" font-size="24.5" transform="matrix(1.0077 0 0 0.9778 -3.231 11.611)">F</text>
<rect x="365.5" y="563.3" width="303.3" height="240.1" fill="#fff" stroke="#999" stroke-width="0.9"/>
<rect x="376.4" y="575.8" width="32.6" height="6.6" fill="#fff" stroke="#222" stroke-width="0.7"/>
<text x="392.7" y="580.7" font-family="Liberation Serif, serif" font-size="4" fill="#333" text-anchor="middle">CELL CYCLE</text>
<line x1="412.4" y1="637.1" x2="412.4" y2="711.5" stroke="#3a3a3a" stroke-width="0.55"/>
<line x1="412.4" y1="711.5" x2="421.6" y2="711.5" stroke="#3a3a3a" stroke-width="0.55"/>
<line x1="455.5" y1="619.6" x2="455.5" y2="626.6" stroke="#3a3a3a" stroke-width="0.55"/>
<line x1="455.5" y1="636.2" x2="432.5" y2="646.2" stroke="#3a3a3a" stroke-width="0.55"/>
<line x1="455.5" y1="636.2" x2="437.0" y2="671.5" stroke="#3a3a3a" stroke-width="0.55"/>
<line x1="455.5" y1="636.2" x2="478.0" y2="671.5" stroke="#3a3a3a" stroke-width="0.55"/>
<line x1="432.5" y1="636.2" x2="432.5" y2="646.2" stroke="#3a3a3a" stroke-width="0.55"/>
<line x1="432.5" y1="651.1" x2="432.5" y2="655.5" stroke="#3a3a3a" stroke-width="0.55"/>
<line x1="432.5" y1="660.2" x2="437.0" y2="671.5" stroke="#3a3a3a" stroke-width="0.55"/>
<line x1="527.8" y1="632.4" x2="527.8" y2="653.2" stroke="#3a3a3a" stroke-width="0.55"/>
<line x1="541.6" y1="636.2" x2="530.0" y2="653.2" stroke="#3a3a3a" stroke-width="0.55"/>
<line x1="556.9" y1="636.2" x2="556.9" y2="668.6" stroke="#3a3a3a" stroke-width="0.55"/>
<line x1="556.9" y1="636.2" x2="533.9" y2="655.5" stroke="#3a3a3a" stroke-width="0.55"/>
<line x1="511.9" y1="625.2" x2="511.9" y2="635.7" stroke="#3a3a3a" stroke-width="0.55"/>
<line x1="511.9" y1="640.6" x2="504.3" y2="653.2" stroke="#3a3a3a" stroke-width="0.55"/>
<line x1="511.9" y1="640.6" x2="524.0" y2="653.2" stroke="#3a3a3a" stroke-width="0.55"/>
<line x1="527.8" y1="657.8" x2="492.0" y2="672.5" stroke="#3a3a3a" stroke-width="0.55"/>
<line x1="527.8" y1="657.8" x2="519.3" y2="673.0" stroke="#3a3a3a" stroke-width="0.55"/>
<line x1="527.8" y1="657.8" x2="540.3" y2="673.0" stroke="#3a3a3a" stroke-width="0.55"/>
<line x1="527.8" y1="657.8" x2="555.0" y2="668.6" stroke="#3a3a3a" stroke-width="0.55"/>
<line x1="484.3" y1="648.5" x2="491.7" y2="672.5" stroke="#3a3a3a" stroke-width="0.55"/>
<line x1="587.5" y1="600.6" x2="587.5" y2="631.5" stroke="#3a3a3a" stroke-width="0.55"/>
<line x1="587.5" y1="636.2" x2="587.5" y2="660.7" stroke="#3a3a3a" stroke-width="0.55"/>
<line x1="593.6" y1="634.0" x2="599.4" y2="634.0" stroke="#3a3a3a" stroke-width="0.55"/>
<line x1="605.5" y1="636.2" x2="605.5" y2="650.2" stroke="#3a3a3a" stroke-width="0.55"/>
<line x1="605.5" y1="636.2" x2="590.0" y2="660.7" stroke="#3a3a3a" stroke-width="0.55"/>
<line x1="605.5" y1="654.6" x2="605.5" y2="663.7" stroke="#3a3a3a" stroke-width="0.55"/>
<line x1="621.0" y1="659.0" x2="621.0" y2="665.0" stroke="#3a3a3a" stroke-width="0.55"/>
<line x1="611.7" y1="675.0" x2="628.7" y2="675.0" stroke="#3a3a3a" stroke-width="0.55"/>
<line x1="635.0" y1="596.4" x2="635.0" y2="617.0" stroke="#3a3a3a" stroke-width="0.55"/>
<line x1="635.0" y1="621.7" x2="635.0" y2="640.6" stroke="#3a3a3a" stroke-width="0.55"/>
<line x1="635.0" y1="645.5" x2="635.0" y2="668.6" stroke="#3a3a3a" stroke-width="0.55"/>
<line x1="520.5" y1="585.0" x2="581.4" y2="585.0" stroke="#3a3a3a" stroke-width="0.55"/>
<line x1="553.7" y1="592.0" x2="581.4" y2="592.0" stroke="#3a3a3a" stroke-width="0.55"/>
<line x1="553.7" y1="594.0" x2="581.4" y2="598.5" stroke="#3a3a3a" stroke-width="0.55"/>
<line x1="593.6" y1="592.0" x2="610.5" y2="592.0" stroke="#3a3a3a" stroke-width="0.55"/>
<line x1="593.6" y1="598.5" x2="610.5" y2="594.0" stroke="#3a3a3a" stroke-width="0.55"/>
<line x1="533.9" y1="592.0" x2="541.0" y2="592.0" stroke="#3a3a3a" stroke-width="0.55"/>
<line x1="520.5" y1="578.0" x2="527.8" y2="578.0" stroke="#3a3a3a" stroke-width="0.55"/>
<line x1="514.0" y1="587.2" x2="527.8" y2="580.1" stroke="#3a3a3a" stroke-width="0.55"/>
<line x1="415.4" y1="679.6" x2="498.5" y2="679.6" stroke="#3a3a3a" stroke-width="0.55"/>
<line x1="415.4" y1="677.0" x2="415.4" y2="679.6" stroke="#3a3a3a" stroke-width="0.55"/>
<line x1="498.5" y1="677.0" x2="498.5" y2="679.6" stroke="#3a3a3a" stroke-width="0.55"/>
<line x1="432.0" y1="680.0" x2="428.0" y2="710.6" stroke="#3a3a3a" stroke-width="0.55"/>
<line x1="470.0" y1="680.0" x2="458.0" y2="710.6" stroke="#3a3a3a" stroke-width="0.55"/>
<line x1="490.0" y1="680.0" x2="491.0" y2="710.6" stroke="#3a3a3a" stroke-width="0.55"/>
<line x1="470.0" y1="680.0" x2="444.5" y2="711.0" stroke="#3a3a3a" stroke-width="0.55"/>
<line x1="428.0" y1="719.4" x2="462.0" y2="734.0" stroke="#3a3a3a" stroke-width="0.55"/>
<line x1="458.0" y1="719.4" x2="462.0" y2="734.0" stroke="#3a3a3a" stroke-width="0.55"/>
<line x1="491.0" y1="719.4" x2="462.0" y2="734.0" stroke="#3a3a3a" stroke-width="0.55"/>
<line x1="491.0" y1="719.4" x2="517.0" y2="726.4" stroke="#3a3a3a" stroke-width="0.55"/>
<line x1="491.0" y1="719.4" x2="500.0" y2="738.3" stroke="#3a3a3a" stroke-width="0.55"/>
<line x1="462.0" y1="738.3" x2="462.0" y2="745.0" stroke="#3a3a3a" stroke-width="0.55"/>
<line x1="447.0" y1="738.3" x2="447.0" y2="745.0" stroke="#3a3a3a" stroke-width="0.55"/>
<line x1="447.0" y1="754.4" x2="457.5" y2="768.0" stroke="#3a3a3a" stroke-width="0.55"/>
<line x1="462.0" y1="754.4" x2="457.5" y2="768.0" stroke="#3a3a3a" stroke-width="0.55"/>
<line x1="417.5" y1="729.2" x2="445.0" y2="712.0" stroke="#3a3a3a" stroke-width="0.55"/>
<line x1="434.2" y1="717.0" x2="451.3" y2="717.0" stroke="#3a3a3a" stroke-width="0.55"/>
<line x1="497.7" y1="712.0" x2="511.2" y2="712.0" stroke="#3a3a3a" stroke-width="0.55"/>
<line x1="464.0" y1="717.0" x2="484.9" y2="717.0" stroke="#3a3a3a" stroke-width="0.55"/>
<line x1="497.7" y1="719.4" x2="628.3" y2="736.0" stroke="#3a3a3a" stroke-width="0.55"/>
<line x1="586.0" y1="713.0" x2="595.9" y2="717.0" stroke="#3a3a3a" stroke-width="0.55"/>
<line x1="602.0" y1="715.2" x2="594.0" y2="701.5" stroke="#3a3a3a" stroke-width="0.55"/>
<line x1="594.0" y1="697.2" x2="599.0" y2="687.5" stroke="#3a3a3a" stroke-width="0.55"/>
<line x1="602.0" y1="719.6" x2="575.0" y2="731.3" stroke="#3a3a3a" stroke-width="0.55"/>
<line x1="602.0" y1="719.6" x2="628.3" y2="731.0" stroke="#3a3a3a" stroke-width="0.55"/>
<line x1="561.1" y1="713.0" x2="573.4" y2="713.0" stroke="#3a3a3a" stroke-width="0.55"/>
<line x1="523.4" y1="713.0" x2="548.5" y2="713.0" stroke="#3a3a3a" stroke-width="0.55"/>
<line x1="627.0" y1="738.3" x2="627.0" y2="745.3" stroke="#3a3a3a" stroke-width="0.55"/>
<line x1="642.0" y1="738.3" x2="642.0" y2="745.3" stroke="#3a3a3a" stroke-width="0.55"/>
<line x1="627.0" y1="749.7" x2="627.0" y2="756.7" stroke="#3a3a3a" stroke-width="0.55"/>
<line x1="627.0" y1="761.4" x2="627.0" y2="768.5" stroke="#3a3a3a" stroke-width="0.55"/>
<line x1="503.0" y1="752.0" x2="503.0" y2="770.5" stroke="#3a3a3a" stroke-width="0.55"/>
<line x1="512.0" y1="752.0" x2="512.0" y2="761.1" stroke="#3a3a3a" stroke-width="0.55"/>
<line x1="517.3" y1="740.4" x2="517.3" y2="747.4" stroke="#3a3a3a" stroke-width="0.55"/>
<line x1="519.2" y1="689.6" x2="491.0" y2="710.6" stroke="#3a3a3a" stroke-width="0.55"/>
<line x1="519.2" y1="689.6" x2="554.8" y2="710.6" stroke="#3a3a3a" stroke-width="0.55"/>
<line x1="534.4" y1="701.5" x2="554.8" y2="710.6" stroke="#3a3a3a" stroke-width="0.55"/>
<line x1="534.4" y1="701.5" x2="579.7" y2="710.6" stroke="#3a3a3a" stroke-width="0.55"/>
<line x1="444.3" y1="711.0" x2="444.3" y2="701.0" stroke="#3a3a3a" stroke-width="0.55"/>
<line x1="444.3" y1="701.0" x2="447.3" y2="698.6" stroke="#3a3a3a" stroke-width="0.55"/>
<line x1="447.3" y1="698.6" x2="527.8" y2="698.6" stroke="#3a3a3a" stroke-width="0.55"/>
<line x1="447.3" y1="699.8" x2="527.8" y2="699.8" stroke="#3a3a3a" stroke-width="0.55"/>
<line x1="462.0" y1="734.0" x2="472.6" y2="733.5" stroke="#3a3a3a" stroke-width="0.55"/>
<line x1="462.0" y1="734.0" x2="472.6" y2="740.0" stroke="#3a3a3a" stroke-width="0.55"/>
<line x1="491.2" y1="719.4" x2="491.2" y2="738.3" stroke="#3a3a3a" stroke-width="0.55"/>
<line x1="519.2" y1="677.0" x2="519.2" y2="685.4" stroke="#3a3a3a" stroke-width="0.55"/>
<line x1="520.8" y1="677.0" x2="580.4" y2="709.7" stroke="#3a3a3a" stroke-width="0.55"/>
<line x1="543.6" y1="677.0" x2="582.0" y2="710.0" stroke="#3a3a3a" stroke-width="0.55"/>
<line x1="556.7" y1="672.6" x2="536.6" y2="696.3" stroke="#3a3a3a" stroke-width="0.55"/>
<line x1="537.4" y1="701.5" x2="547.0" y2="716.4" stroke="#3a3a3a" stroke-width="0.55"/>
<line x1="498.0" y1="717.3" x2="548.5" y2="717.3" stroke="#3a3a3a" stroke-width="0.55"/>
<line x1="554.0" y1="719.4" x2="540.0" y2="731.3" stroke="#3a3a3a" stroke-width="0.55"/>
<line x1="554.0" y1="719.4" x2="558.5" y2="731.3" stroke="#3a3a3a" stroke-width="0.55"/>
<line x1="578.6" y1="719.4" x2="575.0" y2="731.3" stroke="#3a3a3a" stroke-width="0.55"/>
<line x1="470.0" y1="698.0" x2="512.9" y2="687.5" stroke="#3a3a3a" stroke-width="0.55"/>
<line x1="468.0" y1="680.0" x2="428.0" y2="711.0" stroke="#3a3a3a" stroke-width="0.55"/>
<line x1="478.0" y1="681.0" x2="428.0" y2="711.0" stroke="#3a3a3a" stroke-width="0.55"/>
<line x1="490.0" y1="681.0" x2="458.0" y2="711.0" stroke="#3a3a3a" stroke-width="0.55"/>
<line x1="472.0" y1="690.0" x2="462.0" y2="712.0" stroke="#3a3a3a" stroke-width="0.55"/>
<line x1="498.5" y1="686.0" x2="444.0" y2="712.0" stroke="#3a3a3a" stroke-width="0.55"/>
<line x1="428.0" y1="719.4" x2="447.0" y2="734.0" stroke="#3a3a3a" stroke-width="0.55"/>
<line x1="428.0" y1="719.4" x2="462.0" y2="734.0" stroke="#3a3a3a" stroke-width="0.55"/>
<line x1="417.5" y1="733.4" x2="457.0" y2="712.0" stroke="#3a3a3a" stroke-width="0.55"/>
<line x1="491.0" y1="719.4" x2="470.0" y2="729.0" stroke="#3a3a3a" stroke-width="0.55"/>
<line x1="600.0" y1="719.6" x2="640.5" y2="729.2" stroke="#3a3a3a" stroke-width="0.55"/>
<line x1="594.2" y1="702.4" x2="602.0" y2="715.2" stroke="#3a3a3a" stroke-width="0.55"/>
<line x1="586.0" y1="718.0" x2="628.3" y2="735.5" stroke="#3a3a3a" stroke-width="0.55"/>
<line x1="561.1" y1="716.0" x2="595.9" y2="717.4" stroke="#3a3a3a" stroke-width="0.55"/>
<line x1="586.0" y1="713.0" x2="596.0" y2="716.0" stroke="#3a3a3a" stroke-width="0.55"/>
<line x1="497.7" y1="713.0" x2="511.2" y2="713.0" stroke="#3a3a3a" stroke-width="0.55"/>
<line x1="464.0" y1="719.0" x2="475.0" y2="731.3" stroke="#3a3a3a" stroke-width="0.55"/>
<line x1="434.0" y1="719.0" x2="441.0" y2="734.0" stroke="#3a3a3a" stroke-width="0.55"/>
<line x1="590.0" y1="663.0" x2="590.0" y2="673.0" stroke="#3a3a3a" stroke-width="0.55"/>
<line x1="593.6" y1="675.0" x2="599.4" y2="675.0" stroke="#3a3a3a" stroke-width="0.55"/>
<line x1="611.7" y1="665.0" x2="628.7" y2="670.5" stroke="#3a3a3a" stroke-width="0.55"/>
<line x1="484.3" y1="648.5" x2="477.0" y2="669.5" stroke="#3a3a3a" stroke-width="0.55"/>
<line x1="563.2" y1="670.8" x2="581.4" y2="670.8" stroke="#3a3a3a" stroke-width="0.55"/>
<line x1="546.7" y1="675.0" x2="550.6" y2="671.0" stroke="#3a3a3a" stroke-width="0.55"/>
<line x1="391.4" y1="678.3" x2="391.4" y2="714.7" stroke="#555" stroke-width="0.45" stroke-dasharray="1.5 1"/>
<line x1="391.4" y1="714.7" x2="402.0" y2="714.7" stroke="#555" stroke-width="0.45" stroke-dasharray="1.5 1"/>
<line x1="412.4" y1="621.0" x2="412.4" y2="631.0" stroke="#555" stroke-width="0.45" stroke-dasharray="1.5 1"/>
<line x1="391.4" y1="619.6" x2="391.4" y2="644.1" stroke="#555" stroke-width="0.45" stroke-dasharray="1.5 1"/>
<line x1="533.9" y1="655.5" x2="562.9" y2="655.5" stroke="#555" stroke-width="0.45" stroke-dasharray="1.5 1"/>
<line x1="635.3" y1="677.4" x2="635.3" y2="729.2" stroke="#555" stroke-width="0.45" stroke-dasharray="1.5 1"/>
<line x1="457.5" y1="774.0" x2="470.0" y2="774.0" stroke="#555" stroke-width="0.45" stroke-dasharray="1.5 1"/>
<line x1="508.0" y1="774.0" x2="527.0" y2="774.0" stroke="#555" stroke-width="0.45" stroke-dasharray="1.5 1"/>
<line x1="547.0" y1="619.0" x2="541.6" y2="631.5" stroke="#555" stroke-width="0.45" stroke-dasharray="1.5 1"/>
<line x1="547.0" y1="619.0" x2="556.9" y2="631.5" stroke="#555" stroke-width="0.45" stroke-dasharray="1.5 1"/>
<circle cx="432.9" cy="644.3" r="0.95" fill="#111"/>
<circle cx="435.6" cy="666.2" r="0.95" fill="#111"/>
<circle cx="531.3" cy="651.3" r="0.95" fill="#111"/>
<circle cx="535.7" cy="656.0" r="0.95" fill="#111"/>
<circle cx="435.6" cy="717.3" r="0.95" fill="#111"/>
<circle cx="465.4" cy="717.3" r="0.95" fill="#111"/>
<circle cx="460.0" cy="720.8" r="0.95" fill="#111"/>
<circle cx="498.3" cy="717.3" r="0.95" fill="#111"/>
<circle cx="547.0" cy="716.4" r="0.95" fill="#111"/>
<circle cx="457.5" cy="768.1" r="0.95" fill="#111"/>
<circle cx="518.7" cy="684.4" r="0.95" fill="#111"/>
<circle cx="516.4" cy="754.0" r="0.95" fill="#111"/>
<circle cx="501.5" cy="770.0" r="0.95" fill="#111"/>
<circle cx="634.5" cy="727.8" r="0.95" fill="#111"/>
<circle cx="637.0" cy="739.2" r="0.95" fill="#111"/>
<circle cx="587.2" cy="715.5" r="0.95" fill="#111"/>
<circle cx="594.2" cy="702.4" r="0.95" fill="#111"/>
<circle cx="588.0" cy="630.0" r="0.95" fill="#111"/>
<circle cx="588.9" cy="659.9" r="0.95" fill="#111"/>
<circle cx="605.2" cy="648.5" r="0.95" fill="#111"/>
<circle cx="605.2" cy="662.5" r="0.95" fill="#111"/>
<circle cx="412.4" cy="631.5" r="0.95" fill="#111"/>
<circle cx="421.0" cy="712.0" r="0.95" fill="#111"/>
<circle cx="450.5" cy="717.0" r="0.95" fill="#111"/>
<circle cx="483.8" cy="717.5" r="0.95" fill="#111"/>
<circle cx="432.5" cy="670.5" r="0.95" fill="#111"/>
<circle cx="420.6" cy="671.0" r="0.95" fill="#111"/>
<circle cx="548.0" cy="657.0" r="0.95" fill="#111"/>
<circle cx="426.0" cy="712.5" r="0.95" fill="#111"/>
<rect x="383.9" y="644.1" width="15.8" height="34.2" rx="2.5" fill="#fff" stroke="#444" stroke-width="0.5"/>
<rect x="562.9" y="652.5" width="19.2" height="6.5" rx="3.2" fill="#fff" stroke="#444" stroke-width="0.5"/>
<rect x="526.4" y="760.8" width="30.3" height="7.7" rx="3.8" fill="#fff" stroke="#444" stroke-width="0.5"/>
<rect x="640.2" y="688.4" width="21.4" height="19.8" rx="3.0" fill="#fff" stroke="#444" stroke-width="0.5"/>
<rect x="433.3" y="575.8" width="12.4" height="4.3" fill="#BFFFBF" stroke="#333" stroke-width="0.5"/>
<text x="439.5" y="579.2" font-family="Liberation Serif, serif" font-size="3.6" fill="#111" text-anchor="middle">ESCO1</text>
<rect x="447.3" y="575.8" width="12.5" height="4.3" fill="#BFFFBF" stroke="#333" stroke-width="0.5"/>
<text x="453.6" y="579.2" font-family="Liberation Serif, serif" font-size="3.6" fill="#111" text-anchor="middle">ESCO2</text>
<rect x="419.3" y="582.8" width="12.8" height="4.4" fill="#FFC0CB" stroke="#333" stroke-width="0.5"/>
<text x="425.7" y="586.2" font-family="Liberation Serif, serif" font-size="3.6" fill="#111" text-anchor="middle">Smc1</text>
<rect x="432.1" y="582.8" width="12.6" height="4.4" fill="#FFC0CB" stroke="#333" stroke-width="0.5"/>
<text x="438.4" y="586.2" font-family="Liberation Serif, serif" font-size="3.6" fill="#111" text-anchor="middle">Smc3</text>
<rect x="426.3" y="587.2" width="12.4" height="4.3" fill="#FFC0CB" stroke="#333" stroke-width="0.5"/>
<text x="432.5" y="590.6" font-family="Liberation Serif, serif" font-size="3.6" fill="#111" text-anchor="middle">Rad21</text>
<rect x="426.3" y="591.9" width="12.4" height="4.5" fill="#BFFFBF" stroke="#333" stroke-width="0.5"/>
<text x="432.5" y="595.4" font-family="Liberation Serif, serif" font-size="3.6" fill="#111" text-anchor="middle">Stag1,2</text>
<rect x="449.1" y="582.8" width="12.8" height="4.4" fill="#BFFFBF" stroke="#333" stroke-width="0.5"/>
<text x="455.5" y="586.2" font-family="Liberation Serif, serif" font-size="3.6" fill="#111" text-anchor="middle">NIPBL</text>
<rect x="449.1" y="587.2" width="12.8" height="4.3" fill="#BFFFBF" stroke="#333" stroke-width="0.5"/>
<text x="455.5" y="590.6" font-family="Liberation Serif, serif" font-size="3.6" fill="#111" text-anchor="middle">MAU2</text>
<rect x="405.8" y="632.7" width="13.1" height="4.4" fill="#BFFFBF" stroke="#333" stroke-width="0.5"/>
<text x="412.4" y="636.2" font-family="Liberation Serif, serif" font-size="3.6" fill="#111" text-anchor="middle">GSK3B</text>
<rect x="426.3" y="622.2" width="12.4" height="4.7" fill="#BFFFBF" stroke="#333" stroke-width="0.5"/>
<text x="432.5" y="625.8" font-family="Liberation Serif, serif" font-size="3.6" fill="#111" text-anchor="middle">p300</text>
<rect x="426.3" y="626.9" width="12.4" height="4.9" fill="#BFFFBF" stroke="#333" stroke-width="0.5"/>
<text x="432.5" y="630.6" font-family="Liberation Serif, serif" font-size="3.6" fill="#111" text-anchor="middle">CBP</text>
<rect x="426.3" y="631.8" width="12.4" height="4.4" fill="#BFFFBF" stroke="#333" stroke-width="0.5"/>
<text x="432.5" y="635.2" font-family="Liberation Serif, serif" font-size="3.6" fill="#111" text-anchor="middle">PCAF</text>
<rect x="449.1" y="615.2" width="12.8" height="4.4" fill="#BFFFBF" stroke="#333" stroke-width="0.5"/>
<text x="455.5" y="618.7" font-family="Liberation Serif, serif" font-size="3.6" fill="#111" text-anchor="middle">TGFB</text>
<rect x="449.1" y="626.6" width="12.8" height="4.9" fill="#BFFFBF" stroke="#333" stroke-width="0.5"/>
<text x="455.5" y="630.3" font-family="Liberation Serif, serif" font-size="3.6" fill="#111" text-anchor="middle">Smad2,3</text>
<rect x="449.1" y="631.5" width="12.8" height="4.7" fill="#BFFFBF" stroke="#333" stroke-width="0.5"/>
<text x="455.5" y="635.1" font-family="Liberation Serif, serif" font-size="3.6" fill="#111" text-anchor="middle">Smad4</text>
<rect x="426.3" y="646.2" width="12.4" height="4.9" fill="#BFFFBF" stroke="#333" stroke-width="0.5"/>
<text x="432.5" y="649.9" font-family="Liberation Serif, serif" font-size="3.6" fill="#111" text-anchor="middle">c-Myc</text>
<rect x="426.3" y="655.5" width="12.4" height="4.7" fill="#BFFFBF" stroke="#333" stroke-width="0.5"/>
<text x="432.5" y="659.1" font-family="Liberation Serif, serif" font-size="3.6" fill="#111" text-anchor="middle">Miz1</text>
<rect x="416.3" y="672.1" width="12.6" height="4.9" fill="#BFFFBF" stroke="#333" stroke-width="0.5"/>
<text x="422.6" y="675.8" font-family="Liberation Serif, serif" font-size="3.6" fill="#111" text-anchor="middle">Ink4a</text>
<rect x="429.4" y="672.1" width="12.8" height="4.9" fill="#BFFFBF" stroke="#333" stroke-width="0.5"/>
<text x="435.8" y="675.8" font-family="Liberation Serif, serif" font-size="3.6" fill="#111" text-anchor="middle">Ink4b</text>
<rect x="442.9" y="672.1" width="12.3" height="4.9" fill="#BFFFBF" stroke="#333" stroke-width="0.5"/>
<text x="449.0" y="675.8" font-family="Liberation Serif, serif" font-size="3.6" fill="#111" text-anchor="middle">Ink4c</text>
<rect x="456.1" y="672.1" width="12.4" height="4.9" fill="#BFFFBF" stroke="#333" stroke-width="0.5"/>
<text x="462.3" y="675.8" font-family="Liberation Serif, serif" font-size="3.6" fill="#111" text-anchor="middle">Ink4d</text>
<rect x="471.8" y="673.0" width="11.9" height="4.0" fill="#BFFFBF" stroke="#333" stroke-width="0.5"/>
<text x="477.8" y="676.2" font-family="Liberation Serif, serif" font-size="3.6" fill="#111" text-anchor="middle">Kip1,2</text>
<rect x="485.4" y="673.0" width="12.6" height="4.0" fill="#BFFFBF" stroke="#333" stroke-width="0.5"/>
<text x="491.7" y="676.2" font-family="Liberation Serif, serif" font-size="3.6" fill="#111" text-anchor="middle">Cip1</text>
<rect x="507.3" y="575.8" width="13.2" height="4.3" fill="#BFFFBF" stroke="#333" stroke-width="0.5"/>
<text x="513.9" y="579.2" font-family="Liberation Serif, serif" font-size="3.6" fill="#111" text-anchor="middle">ESCO1</text>
<rect x="527.8" y="575.8" width="12.6" height="4.3" fill="#FFC0CB" stroke="#333" stroke-width="0.5"/>
<text x="534.1" y="579.2" font-family="Liberation Serif, serif" font-size="3.6" fill="#111" text-anchor="middle">ESCO2</text>
<rect x="495.4" y="582.8" width="12.3" height="4.4" fill="#FFC0CB" stroke="#333" stroke-width="0.5"/>
<text x="501.5" y="586.2" font-family="Liberation Serif, serif" font-size="3.6" fill="#111" text-anchor="middle">Smc1</text>
<rect x="507.7" y="582.8" width="12.8" height="4.4" fill="#FFC0CB" stroke="#333" stroke-width="0.5"/>
<text x="514.1" y="586.2" font-family="Liberation Serif, serif" font-size="3.6" fill="#111" text-anchor="middle">Smc3</text>
<rect x="501.9" y="587.2" width="12.2" height="4.3" fill="#FFC0CB" stroke="#333" stroke-width="0.5"/>
<text x="508.0" y="590.6" font-family="Liberation Serif, serif" font-size="3.6" fill="#111" text-anchor="middle">Rad21</text>
<rect x="501.9" y="591.9" width="12.2" height="4.5" fill="#BFFFBF" stroke="#333" stroke-width="0.5"/>
<text x="508.0" y="595.4" font-family="Liberation Serif, serif" font-size="3.6" fill="#111" text-anchor="middle">Stag1,2</text>
<rect x="521.7" y="589.8" width="12.2" height="4.4" fill="#BFFFBF" stroke="#333" stroke-width="0.5"/>
<text x="527.8" y="593.2" font-family="Liberation Serif, serif" font-size="3.6" fill="#111" text-anchor="middle">PDS5</text>
<rect x="521.7" y="594.2" width="12.2" height="4.3" fill="#BFFFBF" stroke="#333" stroke-width="0.5"/>
<text x="527.8" y="597.6" font-family="Liberation Serif, serif" font-size="3.6" fill="#111" text-anchor="middle">Wapl</text>
<rect x="541.0" y="589.8" width="12.7" height="4.4" fill="#BFFFBF" stroke="#333" stroke-width="0.5"/>
<text x="547.4" y="593.2" font-family="Liberation Serif, serif" font-size="3.6" fill="#111" text-anchor="middle">Sororin</text>
<rect x="581.4" y="582.4" width="12.2" height="4.8" fill="#BFFFBF" stroke="#333" stroke-width="0.5"/>
<text x="587.5" y="586.0" font-family="Liberation Serif, serif" font-size="3.6" fill="#111" text-anchor="middle">Plk</text>
<rect x="581.4" y="589.8" width="12.2" height="4.4" fill="#FFC0CB" stroke="#333" stroke-width="0.5"/>
<text x="587.5" y="593.2" font-family="Liberation Serif, serif" font-size="3.6" fill="#111" text-anchor="middle">CDK1</text>
<rect x="581.4" y="596.4" width="12.2" height="4.2" fill="#FFC0CB" stroke="#333" stroke-width="0.5"/>
<text x="587.5" y="599.8" font-family="Liberation Serif, serif" font-size="3.6" fill="#111" text-anchor="middle">AuroraB</text>
<rect x="610.5" y="589.8" width="12.2" height="4.4" fill="#BFFFBF" stroke="#333" stroke-width="0.5"/>
<text x="616.6" y="593.2" font-family="Liberation Serif, serif" font-size="3.6" fill="#111" text-anchor="middle">Sgo1</text>
<rect x="610.5" y="594.2" width="12.2" height="4.3" fill="#BFFFBF" stroke="#333" stroke-width="0.5"/>
<text x="616.6" y="597.6" font-family="Liberation Serif, serif" font-size="3.6" fill="#111" text-anchor="middle">PP2A</text>
<rect x="622.2" y="582.4" width="12.8" height="4.8" fill="#FFC0CB" stroke="#333" stroke-width="0.5"/>
<text x="628.6" y="586.0" font-family="Liberation Serif, serif" font-size="3.6" fill="#111" text-anchor="middle">Smc1</text>
<rect x="635.0" y="582.4" width="12.6" height="4.8" fill="#FFC0CB" stroke="#333" stroke-width="0.5"/>
<text x="641.3" y="586.0" font-family="Liberation Serif, serif" font-size="3.6" fill="#111" text-anchor="middle">Smc3</text>
<rect x="628.7" y="587.2" width="12.3" height="4.3" fill="#FFC0CB" stroke="#333" stroke-width="0.5"/>
<text x="634.9" y="590.6" font-family="Liberation Serif, serif" font-size="3.6" fill="#111" text-anchor="middle">Rad21</text>
<rect x="628.7" y="591.9" width="12.3" height="4.5" fill="#BFFFBF" stroke="#333" stroke-width="0.5"/>
<text x="634.9" y="595.4" font-family="Liberation Serif, serif" font-size="3.6" fill="#111" text-anchor="middle">Stag1,2</text>
<rect x="628.7" y="617.0" width="12.3" height="4.7" fill="#BFFFBF" stroke="#333" stroke-width="0.5"/>
<text x="634.9" y="620.6" font-family="Liberation Serif, serif" font-size="3.6" fill="#111" text-anchor="middle">Esp1</text>
<rect x="628.7" y="640.6" width="12.3" height="4.9" fill="#FFC0CB" stroke="#333" stroke-width="0.5"/>
<text x="634.9" y="644.3" font-family="Liberation Serif, serif" font-size="3.6" fill="#111" text-anchor="middle">PTTG</text>
<rect x="505.6" y="620.4" width="12.6" height="4.8" fill="#BFFFBF" stroke="#333" stroke-width="0.5"/>
<text x="511.9" y="624.0" font-family="Liberation Serif, serif" font-size="3.6" fill="#111" text-anchor="middle">ARF</text>
<rect x="505.6" y="635.7" width="12.6" height="4.9" fill="#BFFFBF" stroke="#333" stroke-width="0.5"/>
<text x="511.9" y="639.4" font-family="Liberation Serif, serif" font-size="3.6" fill="#111" text-anchor="middle">Mdm2</text>
<rect x="521.7" y="628.0" width="12.2" height="4.4" fill="#BFFFBF" stroke="#333" stroke-width="0.5"/>
<text x="527.8" y="631.5" font-family="Liberation Serif, serif" font-size="3.6" fill="#111" text-anchor="middle">p300</text>
<rect x="535.2" y="631.5" width="12.8" height="4.7" fill="#FFC0CB" stroke="#333" stroke-width="0.5"/>
<text x="541.6" y="635.1" font-family="Liberation Serif, serif" font-size="3.6" fill="#111" text-anchor="middle">ATM/ATR</text>
<rect x="550.6" y="631.5" width="12.6" height="4.7" fill="#BFFFBF" stroke="#333" stroke-width="0.5"/>
<text x="556.9" y="635.1" font-family="Liberation Serif, serif" font-size="3.6" fill="#111" text-anchor="middle">Chk1,2</text>
<rect x="498.0" y="653.2" width="12.6" height="4.6" fill="#BFFFBF" stroke="#333" stroke-width="0.5"/>
<text x="504.3" y="656.8" font-family="Liberation Serif, serif" font-size="3.6" fill="#111" text-anchor="middle">Rb</text>
<rect x="521.7" y="653.2" width="12.2" height="4.6" fill="#BFFFBF" stroke="#333" stroke-width="0.5"/>
<text x="527.8" y="656.8" font-family="Liberation Serif, serif" font-size="3.6" fill="#111" text-anchor="middle">p53</text>
<rect x="477.9" y="639.2" width="12.8" height="4.5" fill="#FFC0CB" stroke="#333" stroke-width="0.5"/>
<text x="484.3" y="642.7" font-family="Liberation Serif, serif" font-size="3.6" fill="#111" text-anchor="middle">SCF</text>
<rect x="477.9" y="643.7" width="12.8" height="4.8" fill="#BFFFBF" stroke="#333" stroke-width="0.5"/>
<text x="484.3" y="647.4" font-family="Liberation Serif, serif" font-size="3.6" fill="#111" text-anchor="middle">Skp2</text>
<rect x="512.9" y="673.0" width="12.8" height="4.0" fill="#BFFFBF" stroke="#333" stroke-width="0.5"/>
<text x="519.3" y="676.2" font-family="Liberation Serif, serif" font-size="3.6" fill="#111" text-anchor="middle">GADD45</text>
<rect x="534.0" y="673.0" width="12.7" height="4.0" fill="#BFFFBF" stroke="#333" stroke-width="0.5"/>
<text x="540.4" y="676.2" font-family="Liberation Serif, serif" font-size="3.6" fill="#111" text-anchor="middle">14-3-3</text>
<rect x="550.6" y="668.6" width="12.6" height="4.4" fill="#BFFFBF" stroke="#333" stroke-width="0.5"/>
<text x="556.9" y="672.0" font-family="Liberation Serif, serif" font-size="3.6" fill="#111" text-anchor="middle">Cdc25A</text>
<rect x="581.4" y="631.5" width="12.2" height="4.7" fill="#BFFFBF" stroke="#333" stroke-width="0.5"/>
<text x="587.5" y="635.1" font-family="Liberation Serif, serif" font-size="3.6" fill="#111" text-anchor="middle">Bub1</text>
<rect x="599.4" y="631.5" width="12.3" height="4.7" fill="#BFFFBF" stroke="#333" stroke-width="0.5"/>
<text x="605.5" y="635.1" font-family="Liberation Serif, serif" font-size="3.6" fill="#111" text-anchor="middle">Mps1</text>
<rect x="599.4" y="650.2" width="12.3" height="4.4" fill="#BFFFBF" stroke="#333" stroke-width="0.5"/>
<text x="605.5" y="653.7" font-family="Liberation Serif, serif" font-size="3.6" fill="#111" text-anchor="middle">Bub3</text>
<rect x="614.7" y="650.2" width="12.7" height="4.4" fill="#BFFFBF" stroke="#333" stroke-width="0.5"/>
<text x="621.0" y="653.7" font-family="Liberation Serif, serif" font-size="3.6" fill="#111" text-anchor="middle">TTK</text>
<rect x="614.7" y="654.6" width="12.7" height="4.4" fill="#BFFFBF" stroke="#333" stroke-width="0.5"/>
<text x="621.0" y="658.0" font-family="Liberation Serif, serif" font-size="3.6" fill="#111" text-anchor="middle">Cdc20</text>
<rect x="581.4" y="660.7" width="12.2" height="4.4" fill="#BFFFBF" stroke="#333" stroke-width="0.5"/>
<text x="587.5" y="664.2" font-family="Liberation Serif, serif" font-size="3.6" fill="#111" text-anchor="middle">Bub1</text>
<rect x="599.4" y="663.7" width="12.3" height="4.6" fill="#FFC0CB" stroke="#333" stroke-width="0.5"/>
<text x="605.5" y="667.2" font-family="Liberation Serif, serif" font-size="3.6" fill="#111" text-anchor="middle">Mad2</text>
<rect x="599.4" y="668.6" width="12.3" height="4.4" fill="#BFFFBF" stroke="#333" stroke-width="0.5"/>
<text x="605.5" y="672.0" font-family="Liberation Serif, serif" font-size="3.6" fill="#111" text-anchor="middle">BubR1</text>
<rect x="599.4" y="673.0" width="12.3" height="4.4" fill="#FFC0CB" stroke="#333" stroke-width="0.5"/>
<text x="605.5" y="676.5" font-family="Liberation Serif, serif" font-size="3.6" fill="#111" text-anchor="middle">Bub3</text>
<rect x="581.4" y="673.0" width="12.2" height="4.4" fill="#BFFFBF" stroke="#333" stroke-width="0.5"/>
<text x="587.5" y="676.5" font-family="Liberation Serif, serif" font-size="3.6" fill="#111" text-anchor="middle">Bub3</text>
<rect x="628.7" y="668.6" width="12.3" height="4.4" fill="#FFC0CB" stroke="#333" stroke-width="0.5"/>
<text x="634.9" y="672.0" font-family="Liberation Serif, serif" font-size="3.6" fill="#111" text-anchor="middle">APC/C</text>
<rect x="628.7" y="673.0" width="12.3" height="4.4" fill="#FFC0CB" stroke="#333" stroke-width="0.5"/>
<text x="634.9" y="676.5" font-family="Liberation Serif, serif" font-size="3.6" fill="#111" text-anchor="middle">Cdc20</text>
<rect x="421.6" y="710.6" width="12.6" height="4.4" fill="#FFC0CB" stroke="#333" stroke-width="0.5"/>
<text x="427.9" y="714.0" font-family="Liberation Serif, serif" font-size="3.6" fill="#111" text-anchor="middle">CycD</text>
<rect x="421.6" y="715.0" width="12.6" height="4.4" fill="#BFFFBF" stroke="#333" stroke-width="0.5"/>
<text x="427.9" y="718.5" font-family="Liberation Serif, serif" font-size="3.6" fill="#111" text-anchor="middle">CDK4,6</text>
<rect x="451.3" y="710.6" width="12.7" height="4.4" fill="#BFFFBF" stroke="#333" stroke-width="0.5"/>
<text x="457.6" y="714.0" font-family="Liberation Serif, serif" font-size="3.6" fill="#111" text-anchor="middle">CycE</text>
<rect x="451.3" y="715.0" width="12.7" height="4.4" fill="#BFFFBF" stroke="#333" stroke-width="0.5"/>
<text x="457.6" y="718.5" font-family="Liberation Serif, serif" font-size="3.6" fill="#111" text-anchor="middle">CDK2</text>
<rect x="411.4" y="729.2" width="12.3" height="4.2" fill="#FFC0CB" stroke="#333" stroke-width="0.5"/>
<text x="417.5" y="732.5" font-family="Liberation Serif, serif" font-size="3.6" fill="#111" text-anchor="middle">SCF</text>
<rect x="411.4" y="733.4" width="12.3" height="4.6" fill="#BFFFBF" stroke="#333" stroke-width="0.5"/>
<text x="417.5" y="737.0" font-family="Liberation Serif, serif" font-size="3.6" fill="#111" text-anchor="middle">Skp2</text>
<rect x="441.2" y="734.0" width="12.3" height="4.3" fill="#BFFFBF" stroke="#333" stroke-width="0.5"/>
<text x="447.4" y="737.4" font-family="Liberation Serif, serif" font-size="3.6" fill="#111" text-anchor="middle">p107</text>
<rect x="456.3" y="734.0" width="12.6" height="4.3" fill="#BFFFBF" stroke="#333" stroke-width="0.5"/>
<text x="462.6" y="737.4" font-family="Liberation Serif, serif" font-size="3.6" fill="#111" text-anchor="middle">Rb</text>
<rect x="441.2" y="745.0" width="12.3" height="4.7" fill="#BFFFBF" stroke="#333" stroke-width="0.5"/>
<text x="447.4" y="748.6" font-family="Liberation Serif, serif" font-size="3.6" fill="#111" text-anchor="middle">E2F4,5</text>
<rect x="441.2" y="749.7" width="12.3" height="4.7" fill="#BFFFBF" stroke="#333" stroke-width="0.5"/>
<text x="447.4" y="753.3" font-family="Liberation Serif, serif" font-size="3.6" fill="#111" text-anchor="middle">DP1,2</text>
<rect x="456.3" y="745.0" width="12.6" height="4.7" fill="#BFFFBF" stroke="#333" stroke-width="0.5"/>
<text x="462.6" y="748.6" font-family="Liberation Serif, serif" font-size="3.6" fill="#111" text-anchor="middle">E2F1,2</text>
<rect x="456.3" y="749.7" width="12.6" height="4.7" fill="#BFFFBF" stroke="#333" stroke-width="0.5"/>
<text x="462.6" y="753.3" font-family="Liberation Serif, serif" font-size="3.6" fill="#111" text-anchor="middle">DP1,2</text>
<rect x="472.6" y="731.3" width="12.8" height="4.4" fill="#BFFFBF" stroke="#333" stroke-width="0.5"/>
<text x="479.0" y="734.8" font-family="Liberation Serif, serif" font-size="3.6" fill="#111" text-anchor="middle">Abl</text>
<rect x="472.6" y="738.0" width="12.8" height="4.2" fill="#BFFFBF" stroke="#333" stroke-width="0.5"/>
<text x="479.0" y="741.4" font-family="Liberation Serif, serif" font-size="3.6" fill="#111" text-anchor="middle">HDAC</text>
<rect x="512.9" y="685.4" width="12.8" height="4.2" fill="#FFC0CB" stroke="#333" stroke-width="0.5"/>
<text x="519.3" y="688.8" font-family="Liberation Serif, serif" font-size="3.6" fill="#111" text-anchor="middle">PCNA</text>
<rect x="527.8" y="697.2" width="13.2" height="4.3" fill="#BFFFBF" stroke="#333" stroke-width="0.5"/>
<text x="534.4" y="700.6" font-family="Liberation Serif, serif" font-size="3.6" fill="#111" text-anchor="middle">Cdc25A</text>
<rect x="484.9" y="710.6" width="12.8" height="4.4" fill="#FFC0CB" stroke="#333" stroke-width="0.5"/>
<text x="491.3" y="714.0" font-family="Liberation Serif, serif" font-size="3.6" fill="#111" text-anchor="middle">CycA</text>
<rect x="484.9" y="715.0" width="12.8" height="4.4" fill="#BFFFBF" stroke="#333" stroke-width="0.5"/>
<text x="491.3" y="718.5" font-family="Liberation Serif, serif" font-size="3.6" fill="#111" text-anchor="middle">CDK2</text>
<rect x="511.2" y="710.6" width="12.2" height="4.4" fill="#BFFFBF" stroke="#333" stroke-width="0.5"/>
<text x="517.3" y="714.0" font-family="Liberation Serif, serif" font-size="3.6" fill="#111" text-anchor="middle">CycH</text>
<rect x="511.2" y="715.0" width="12.2" height="4.4" fill="#BFFFBF" stroke="#333" stroke-width="0.5"/>
<text x="517.3" y="718.5" font-family="Liberation Serif, serif" font-size="3.6" fill="#111" text-anchor="middle">CDK7</text>
<rect x="548.5" y="710.6" width="12.6" height="4.4" fill="#FFC0CB" stroke="#333" stroke-width="0.5"/>
<text x="554.8" y="714.0" font-family="Liberation Serif, serif" font-size="3.6" fill="#111" text-anchor="middle">CycA</text>
<rect x="548.5" y="715.0" width="12.6" height="4.4" fill="#FFC0CB" stroke="#333" stroke-width="0.5"/>
<text x="554.8" y="718.5" font-family="Liberation Serif, serif" font-size="3.6" fill="#111" text-anchor="middle">CDK1</text>
<rect x="573.4" y="710.6" width="12.6" height="4.4" fill="#FFC0CB" stroke="#333" stroke-width="0.5"/>
<text x="579.7" y="714.0" font-family="Liberation Serif, serif" font-size="3.6" fill="#111" text-anchor="middle">CycB</text>
<rect x="573.4" y="715.0" width="12.6" height="4.4" fill="#FFC0CB" stroke="#333" stroke-width="0.5"/>
<text x="579.7" y="718.5" font-family="Liberation Serif, serif" font-size="3.6" fill="#111" text-anchor="middle">CDK1</text>
<rect x="511.2" y="726.4" width="12.2" height="4.9" fill="#BFFFBF" stroke="#333" stroke-width="0.5"/>
<text x="517.3" y="730.1" font-family="Liberation Serif, serif" font-size="3.6" fill="#111" text-anchor="middle">TFDP</text>
<rect x="511.2" y="731.3" width="12.2" height="4.4" fill="#BFFFBF" stroke="#333" stroke-width="0.5"/>
<text x="517.3" y="734.8" font-family="Liberation Serif, serif" font-size="3.6" fill="#111" text-anchor="middle">MCM</text>
<rect x="511.2" y="735.7" width="12.2" height="4.7" fill="#BFFFBF" stroke="#333" stroke-width="0.5"/>
<text x="517.3" y="739.3" font-family="Liberation Serif, serif" font-size="3.6" fill="#111" text-anchor="middle">Cdc45</text>
<rect x="533.9" y="731.3" width="12.8" height="4.9" fill="#BFFFBF" stroke="#333" stroke-width="0.5"/>
<text x="540.3" y="735.0" font-family="Liberation Serif, serif" font-size="3.6" fill="#111" text-anchor="middle">Rb</text>
<rect x="552.3" y="731.3" width="13.2" height="4.9" fill="#BFFFBF" stroke="#333" stroke-width="0.5"/>
<text x="558.9" y="735.0" font-family="Liberation Serif, serif" font-size="3.6" fill="#111" text-anchor="middle">Wee</text>
<rect x="569.0" y="731.3" width="12.8" height="4.9" fill="#BFFFBF" stroke="#333" stroke-width="0.5"/>
<text x="575.4" y="735.0" font-family="Liberation Serif, serif" font-size="3.6" fill="#111" text-anchor="middle">Myt1</text>
<rect x="495.4" y="738.3" width="12.3" height="4.4" fill="#BFFFBF" stroke="#333" stroke-width="0.5"/>
<text x="501.5" y="741.8" font-family="Liberation Serif, serif" font-size="3.6" fill="#111" text-anchor="middle">Cdc6</text>
<rect x="503.3" y="742.7" width="12.3" height="4.4" fill="#BFFFBF" stroke="#333" stroke-width="0.5"/>
<text x="509.5" y="746.2" font-family="Liberation Serif, serif" font-size="3.6" fill="#111" text-anchor="middle">Cdt1</text>
<rect x="495.4" y="747.4" width="12.3" height="4.6" fill="#BFFFBF" stroke="#333" stroke-width="0.5"/>
<text x="501.5" y="751.0" font-family="Liberation Serif, serif" font-size="3.6" fill="#111" text-anchor="middle">ORC</text>
<rect x="511.2" y="747.4" width="12.2" height="4.6" fill="#FFC0CB" stroke="#333" stroke-width="0.5"/>
<text x="517.3" y="751.0" font-family="Liberation Serif, serif" font-size="3.6" fill="#111" text-anchor="middle">MCM</text>
<rect x="505.9" y="761.1" width="12.3" height="4.9" fill="#BFFFBF" stroke="#333" stroke-width="0.5"/>
<text x="512.0" y="764.8" font-family="Liberation Serif, serif" font-size="3.6" fill="#111" text-anchor="middle">Cdc7</text>
<rect x="505.9" y="766.0" width="12.3" height="4.2" fill="#BFFFBF" stroke="#333" stroke-width="0.5"/>
<text x="512.0" y="769.4" font-family="Liberation Serif, serif" font-size="3.6" fill="#111" text-anchor="middle">Dbf4</text>
<rect x="592.4" y="683.1" width="13.1" height="4.4" fill="#FFC0CB" stroke="#333" stroke-width="0.5"/>
<text x="599.0" y="686.5" font-family="Liberation Serif, serif" font-size="3.6" fill="#111" text-anchor="middle">14-3-3</text>
<rect x="587.2" y="697.2" width="12.8" height="4.3" fill="#BFFFBF" stroke="#333" stroke-width="0.5"/>
<text x="593.6" y="700.6" font-family="Liberation Serif, serif" font-size="3.6" fill="#111" text-anchor="middle">Cdc25B</text>
<rect x="595.9" y="715.2" width="12.8" height="4.4" fill="#BFFFBF" stroke="#333" stroke-width="0.5"/>
<text x="602.3" y="718.7" font-family="Liberation Serif, serif" font-size="3.6" fill="#111" text-anchor="middle">Plk1</text>
<rect x="628.3" y="729.2" width="13.2" height="4.2" fill="#FFC0CB" stroke="#333" stroke-width="0.5"/>
<text x="634.9" y="732.5" font-family="Liberation Serif, serif" font-size="3.6" fill="#111" text-anchor="middle">APC/C</text>
<rect x="628.3" y="734.0" width="13.2" height="4.3" fill="#BFFFBF" stroke="#333" stroke-width="0.5"/>
<text x="634.9" y="737.4" font-family="Liberation Serif, serif" font-size="3.6" fill="#111" text-anchor="middle">Cdh1</text>
<rect x="621.0" y="745.3" width="12.6" height="4.4" fill="#BFFFBF" stroke="#333" stroke-width="0.5"/>
<text x="627.3" y="748.8" font-family="Liberation Serif, serif" font-size="3.6" fill="#111" text-anchor="middle">Emi1</text>
<rect x="636.2" y="745.3" width="13.1" height="4.4" fill="#BFFFBF" stroke="#333" stroke-width="0.5"/>
<text x="642.8" y="748.8" font-family="Liberation Serif, serif" font-size="3.6" fill="#111" text-anchor="middle">Cdc14</text>
<rect x="621.3" y="756.7" width="12.3" height="4.7" fill="#BFFFBF" stroke="#333" stroke-width="0.5"/>
<text x="627.5" y="760.3" font-family="Liberation Serif, serif" font-size="3.6" fill="#111" text-anchor="middle">Cul1</text>
<rect x="621.3" y="768.5" width="12.3" height="4.5" fill="#BFFFBF" stroke="#333" stroke-width="0.5"/>
<text x="627.5" y="772.0" font-family="Liberation Serif, serif" font-size="3.6" fill="#111" text-anchor="middle">p53</text>
<text x="442.5" y="602.2" font-family="Liberation Serif, serif" font-size="3.2" fill="#333" text-anchor="middle">Cohesin loading</text>
<text x="391.7" y="617.6" font-family="Liberation Serif, serif" font-size="3.2" fill="#333" text-anchor="middle">Growth factor</text>
<text x="412.3" y="617.6" font-family="Liberation Serif, serif" font-size="3.2" fill="#333" text-anchor="middle">Growth factor</text>
<text x="412.3" y="620.6" font-family="Liberation Serif, serif" font-size="3.2" fill="#333" text-anchor="middle">withdrawal</text>
<text x="512.0" y="602.2" font-family="Liberation Serif, serif" font-size="3.2" fill="#333" text-anchor="middle">Cohesin establishment</text>
<text x="644.1" y="595.6" font-family="Liberation Serif, serif" font-size="3.2" fill="#333" text-anchor="start">Cohesin</text>
<text x="644.4" y="620.6" font-family="Liberation Serif, serif" font-size="3.2" fill="#333" text-anchor="start">Separin</text>
<text x="644.4" y="643.8" font-family="Liberation Serif, serif" font-size="3.2" fill="#333" text-anchor="start">Securin</text>
<text x="547.0" y="615.8" font-family="Liberation Serif, serif" font-size="3.2" fill="#333" text-anchor="middle">DNA damage checkpoint</text>
<text x="572.5" y="657.0" font-family="Liberation Serif, serif" font-size="3.2" fill="#333" text-anchor="middle">Apoptosis</text>
<text x="541.5" y="765.9" font-family="Liberation Serif, serif" font-size="3.2" fill="#333" text-anchor="middle">DNA replication</text>
<text x="529.2" y="775.0" font-family="Liberation Serif, serif" font-size="3.2" fill="#333" text-anchor="start">DNA biosynthesis</text>
<text x="471.0" y="772.6" font-family="Liberation Serif, serif" font-size="3.2" fill="#333" text-anchor="start">S-phase proteins,</text>
<text x="471.0" y="775.6" font-family="Liberation Serif, serif" font-size="3.2" fill="#333" text-anchor="start">CycE</text>
<text x="455.0" y="777.5" font-family="Liberation Serif, serif" font-size="3.2" fill="#333" text-anchor="middle">DNA</text>
<text x="503.0" y="777.5" font-family="Liberation Serif, serif" font-size="3.2" fill="#333" text-anchor="middle">DNA</text>
<text x="402.5" y="715.2" font-family="Liberation Serif, serif" font-size="3.2" fill="#333" text-anchor="start">S-phase</text>
<text x="402.5" y="718.2" font-family="Liberation Serif, serif" font-size="3.2" fill="#333" text-anchor="start">(CDKs)</text>
<text x="422.5" y="670.6" font-family="Liberation Serif, serif" font-size="3.2" fill="#333" text-anchor="middle">p16</text>
<text x="435.8" y="670.6" font-family="Liberation Serif, serif" font-size="3.2" fill="#333" text-anchor="middle">p15</text>
<text x="449.0" y="670.6" font-family="Liberation Serif, serif" font-size="3.2" fill="#333" text-anchor="middle">p18</text>
<text x="462.3" y="670.6" font-family="Liberation Serif, serif" font-size="3.2" fill="#333" text-anchor="middle">p19</text>
<text x="477.7" y="671.4" font-family="Liberation Serif, serif" font-size="3.2" fill="#333" text-anchor="middle">p27,57</text>
<text x="491.7" y="671.4" font-family="Liberation Serif, serif" font-size="3.2" fill="#333" text-anchor="middle">p21</text>
<text x="650.9" y="694.8" font-family="Liberation Serif, serif" font-size="3.2" fill="#333" text-anchor="middle">Ubiquitin</text>
<text x="650.9" y="698.2" font-family="Liberation Serif, serif" font-size="3.2" fill="#333" text-anchor="middle">mediated</text>
<text x="650.9" y="701.6" font-family="Liberation Serif, serif" font-size="3.2" fill="#333" text-anchor="middle">proteolysis</text>
<text x="391.8" y="658.5" font-family="Liberation Serif, serif" font-size="3.2" fill="#333" text-anchor="middle">MAPK</text>
<text x="391.8" y="661.8" font-family="Liberation Serif, serif" font-size="3.2" fill="#333" text-anchor="middle">signaling</text>
<text x="391.8" y="665.1" font-family="Liberation Serif, serif" font-size="3.2" fill="#333" text-anchor="middle">pathway</text>
<text x="551.0" y="600.6" font-family="Liberation Serif, serif" font-size="3.2" fill="#333" text-anchor="middle">+p</text>
<text x="551.0" y="590.2" font-family="Liberation Serif, serif" font-size="3.2" fill="#333" text-anchor="middle">+p</text>
<text x="551.0" y="596.8" font-family="Liberation Serif, serif" font-size="3.2" fill="#333" text-anchor="middle">+p</text>
<text x="588.5" y="614.5" font-family="Liberation Serif, serif" font-size="3.2" fill="#333" text-anchor="middle">+p</text>
<text x="540.0" y="641.0" font-family="Liberation Serif, serif" font-size="3.2" fill="#333" text-anchor="middle">+p</text>
<text x="602.0" y="645.0" font-family="Liberation Serif, serif" font-size="3.2" fill="#333" text-anchor="middle">+u</text>
<text x="445.5" y="712.5" font-family="Liberation Serif, serif" font-size="3.2" fill="#333" text-anchor="middle">-p</text>
<text x="516.5" y="686.0" font-family="Liberation Serif, serif" font-size="3.2" fill="#333" text-anchor="middle">+p</text>
<text x="594.0" y="728.3" font-family="Liberation Serif, serif" font-size="3.2" fill="#333" text-anchor="middle">+p</text>
<text x="616.0" y="722.4" font-family="Liberation Serif, serif" font-size="3.2" fill="#333" text-anchor="middle">+p</text>
<text x="425.1" y="792" font-family="Liberation Serif, serif" font-size="4.4" fill="#222" text-anchor="middle">G1</text>
<text x="512.9" y="792" font-family="Liberation Serif, serif" font-size="4.4" fill="#222" text-anchor="middle">S</text>
<text x="570.5" y="792" font-family="Liberation Serif, serif" font-size="4.4" fill="#222" text-anchor="middle">G2</text>
<text x="621.3" y="792" font-family="Liberation Serif, serif" font-size="4.4" fill="#222" text-anchor="middle">M</text>
<text x="370" y="798.3" font-family="Liberation Serif, serif" font-size="3" fill="#444">04110 5/30/25</text>
<text x="370" y="801.5" font-family="Liberation Serif, serif" font-size="3" fill="#444">(c) Kanehisa Laboratories</text>
</svg>
</body></html>
